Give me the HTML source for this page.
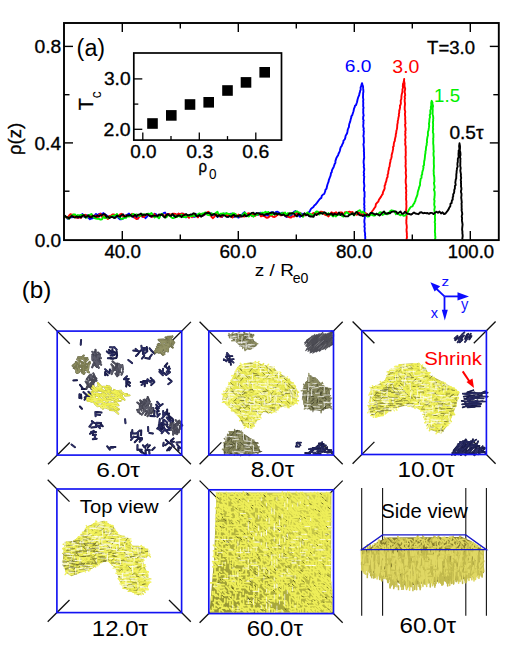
<!DOCTYPE html>
<html><head><meta charset="utf-8"><style>
html,body{margin:0;padding:0;background:#fff;width:522px;height:655px;overflow:hidden}
svg{display:block}
text{font-family:"Liberation Sans",sans-serif}
</style></head><body>
<svg width="522" height="655" viewBox="0 0 522 655">
<defs><clipPath id="clipA"><rect x="64" y="23" width="435" height="216.6"/></clipPath></defs>
<g clip-path="url(#clipA)">
<polyline points="64.5,216.6 66.0,216.9 67.5,218.7 69.0,217.6 70.5,217.2 72.0,217.3 73.5,215.6 75.0,216.2 76.5,217.0 78.0,218.1 79.5,215.6 81.0,215.2 82.5,214.1 84.0,216.7 85.5,217.5 87.0,215.0 88.5,217.9 90.0,219.2 91.5,218.5 93.0,218.0 94.5,215.7 96.0,214.0 97.5,215.3 99.0,213.9 100.5,213.8 102.0,214.0 103.5,213.1 105.0,214.6 106.5,215.2 108.0,217.3 109.5,216.9 111.0,217.2 112.5,216.7 114.0,217.2 115.5,216.5 117.0,215.4 118.5,218.0 120.0,219.3 121.5,219.2 123.0,218.6 124.5,216.6 126.0,215.2 127.5,214.7 129.0,213.5 130.5,216.0 132.0,215.6 133.5,217.3 135.0,216.2 136.5,218.1 138.0,218.6 139.5,215.1 141.0,214.3 142.5,216.9 144.0,216.3 145.5,218.2 147.0,216.6 148.5,214.4 150.0,215.7 151.5,217.0 153.0,215.4 154.5,213.8 156.0,214.1 157.5,217.0 159.0,217.5 160.5,215.0 162.0,214.2 163.5,213.2 165.0,212.5 166.5,215.4 168.0,214.1 169.5,215.2 171.0,215.2 172.5,214.1 174.0,215.9 175.5,214.1 177.0,215.5 178.5,213.8 180.0,214.4 181.5,213.7 183.0,213.6 184.5,216.6 186.0,217.4 187.5,215.6 189.0,217.2 190.5,215.1 192.0,214.8 193.5,216.7 195.0,216.7 196.5,214.3 198.0,217.0 199.5,214.9 201.0,214.1 202.5,215.9 204.0,214.9 205.5,214.2 207.0,212.9 208.5,212.3 210.0,214.1 211.5,213.5 213.0,214.8 214.5,214.5 216.0,214.6 217.5,216.9 219.0,216.0 220.5,215.9 222.0,217.1 223.5,214.7 225.0,213.4 226.5,216.0 228.0,216.9 229.5,214.9 231.0,213.6 232.5,215.4 234.0,217.1 235.5,214.7 237.0,216.8 238.5,217.6 240.0,216.7 241.5,215.5 243.0,213.4 244.5,212.1 246.0,215.5 247.5,214.0 249.0,215.3 250.5,214.0 252.0,215.8 253.5,215.7 255.0,214.4 256.5,213.1 258.0,214.9 259.5,212.9 261.0,212.6 262.5,213.9 264.0,215.9 265.5,215.8 267.0,214.2 268.5,216.3 270.0,214.1 271.5,212.2 273.0,212.4 274.5,213.2 276.0,212.0 277.5,211.8 279.0,212.6 280.5,213.9 282.0,212.6 283.5,212.9 285.0,215.4 286.5,217.0 288.0,216.4 289.5,216.3 291.0,215.7 292.5,213.5 294.0,211.9 295.5,211.0 297.0,214.5 298.5,215.3 300.0,216.8 301.5,213.5 303.0,214.5 304.5,214.3 306.0,215.3 307.9,213.0 309.1,212.1 309.9,211.0 310.8,209.2 312.1,207.9 313.4,206.9 314.3,205.5 315.3,204.8 316.9,202.9 317.9,201.5 319.0,200.0 320.0,198.8 321.3,197.9 321.9,195.6 323.3,194.4 324.2,194.0 325.3,191.0 325.3,190.1 326.5,188.7 326.9,186.8 327.4,184.7 328.2,182.5 328.6,181.7 328.8,180.2 329.3,178.9 330.2,176.5 330.6,175.7 331.0,173.0 331.7,172.4 331.9,170.6 332.6,168.9 333.3,167.8 333.9,166.3 334.8,163.6 335.4,162.9 335.4,161.1 336.1,158.9 336.5,157.8 337.7,155.8 338.1,155.4 338.5,153.7 339.3,152.2 339.8,151.0 340.4,148.3 340.9,146.9 341.5,146.3 342.2,144.6 343.3,142.5 343.5,140.6 344.8,139.3 345.4,137.4 345.5,136.2 346.4,134.4 347.1,133.2 347.5,131.2 347.8,129.5 348.4,128.0 348.9,127.1 349.1,124.9 349.4,123.6 350.2,121.6 350.7,119.3 351.3,117.4 351.3,116.4 352.3,115.1 353.0,112.7 353.5,111.3 354.0,108.7 354.7,107.2 355.0,105.8 356.1,104.9 356.6,103.3 357.0,102.2 357.5,99.8 358.0,98.0 358.4,96.8 359.2,95.1 359.4,93.6 360.0,91.9 360.1,91.0 360.7,89.7 360.6,87.5 361.1,86.4 361.5,84.7 362.0,83.1 362.6,85.1 363.0,86.3 363.2,88.9 363.3,89.8 363.4,91.9 363.1,93.0 363.1,95.3 363.0,97.0 363.0,97.6 363.4,99.8 363.1,100.9 363.3,103.1 363.2,104.3 363.2,106.5 363.6,107.8 363.2,109.1 363.3,111.0 363.2,112.6 363.4,114.1 363.7,115.5 363.2,116.6 363.1,119.1 363.7,120.7 363.3,121.4 363.5,123.1 363.2,125.5 363.3,126.9 363.8,128.5 363.5,130.1 363.9,131.3 363.7,133.0 363.7,134.3 363.3,136.1 363.8,137.8 363.8,139.5 363.9,141.9 363.9,142.6 363.4,144.5 363.6,145.5 363.9,148.3 364.0,150.0 363.8,151.0 364.1,152.5 364.0,153.9 364.1,156.0 364.2,157.9 364.0,159.1 363.7,160.3 363.6,162.4 363.7,163.2 364.0,165.7 363.7,166.7 364.3,169.0 364.2,170.0 363.7,172.2 364.1,173.7 363.7,175.3 364.3,176.7 364.1,177.9 364.0,179.6 363.8,182.2 364.0,182.7 364.2,184.4 364.4,186.0 364.1,187.7 363.9,190.0 364.3,191.4 364.6,192.3 364.5,194.2 364.6,196.7 364.2,198.1 364.2,198.7 364.3,201.1 364.4,202.4 364.1,204.3 364.5,205.9 364.2,207.6 364.6,208.7 364.3,210.4 364.5,212.8 364.7,213.1 364.3,215.5 364.8,217.2 364.8,218.1 364.4,219.9 364.3,222.1 364.7,223.7 364.7,225.3 364.3,226.7 364.8,228.0 364.6,230.5 364.6,231.0 365.2,233.9 365.0,234.8 365.3,236.8 365.2,238.1 365.4,239.9 365.2,242.4 365.5,243.1 365.5,245.0" fill="none" stroke="#0000ff" stroke-width="1.9" stroke-linejoin="round"/>
<polyline points="64.5,216.7 66.0,217.4 67.5,217.8 69.0,215.7 70.5,214.1 72.0,214.8 73.5,214.8 75.0,217.1 76.5,217.7 78.0,217.6 79.5,217.4 81.0,217.7 82.5,215.6 84.0,215.8 85.5,214.7 87.0,217.4 88.5,215.0 90.0,217.2 91.5,215.0 93.0,216.5 94.5,215.8 96.0,215.7 97.5,217.6 99.0,214.9 100.5,213.7 102.0,216.9 103.5,216.7 105.0,214.7 106.5,217.7 108.0,219.0 109.5,215.9 111.0,215.8 112.5,214.4 114.0,214.5 115.5,215.9 117.0,214.6 118.5,216.3 120.0,214.3 121.5,213.8 123.0,216.4 124.5,215.8 126.0,215.6 127.5,216.3 129.0,216.1 130.5,215.6 132.0,213.8 133.5,215.9 135.0,218.0 136.5,219.1 138.0,218.3 139.5,216.5 141.0,215.6 142.5,216.6 144.0,217.1 145.5,214.8 147.0,214.2 148.5,214.4 150.0,215.2 151.5,216.9 153.0,216.4 154.5,214.0 156.0,216.3 157.5,215.8 159.0,215.9 160.5,214.6 162.0,214.9 163.5,214.8 165.0,216.5 166.5,214.3 168.0,215.2 169.5,214.0 171.0,215.7 172.5,213.6 174.0,213.7 175.5,213.9 177.0,215.4 178.5,213.5 180.0,214.4 181.5,213.7 183.0,213.6 184.5,214.5 186.0,217.0 187.5,216.2 189.0,217.8 190.5,215.2 192.0,217.2 193.5,215.7 195.0,214.2 196.5,215.9 198.0,217.4 199.5,214.2 201.0,213.8 202.5,215.7 204.0,214.8 205.5,213.9 207.0,212.4 208.5,211.8 210.0,214.1 211.5,216.8 213.0,218.2 214.5,216.7 216.0,213.9 217.5,213.7 219.0,215.7 220.5,216.9 222.0,216.6 223.5,214.7 225.0,215.0 226.5,214.9 228.0,215.6 229.5,214.3 231.0,216.6 232.5,217.5 234.0,214.8 235.5,214.0 237.0,216.1 238.5,214.6 240.0,216.7 241.5,215.9 243.0,216.3 244.5,216.5 246.0,214.4 247.5,213.7 249.0,213.2 250.5,214.8 252.0,215.7 253.5,213.6 255.0,215.9 256.5,215.0 258.0,213.7 259.5,213.9 261.0,216.4 262.5,215.8 264.0,215.8 265.5,217.1 267.0,217.9 268.5,217.4 270.0,215.7 271.5,215.5 273.0,216.8 274.5,217.0 276.0,216.1 277.5,214.7 279.0,214.0 280.5,215.3 282.0,215.2 283.5,212.7 285.0,214.5 286.5,216.3 288.0,216.7 289.5,217.3 291.0,217.6 292.5,216.2 294.0,216.5 295.5,214.9 297.0,212.9 298.5,212.9 300.0,212.8 301.5,215.5 303.0,215.7 304.5,215.2 306.0,215.2 307.5,213.1 309.0,213.8 310.5,214.9 312.0,214.1 313.5,213.0 315.0,213.2 316.5,212.9 318.0,214.3 319.5,212.6 321.0,211.6 322.5,212.0 324.0,213.9 325.5,215.1 327.0,215.3 328.5,216.5 330.0,214.7 331.5,212.3 333.0,213.1 334.5,213.3 336.0,212.2 337.5,213.8 339.0,213.1 340.5,212.4 342.0,212.4 343.5,215.1 345.0,212.3 346.5,212.4 348.0,212.1 349.5,211.7 351.0,212.4 352.5,211.9 354.0,214.6 355.5,214.2 357.0,214.8 358.5,212.8 360.0,213.1 361.5,213.8 363.0,215.2 364.5,213.3 366.0,213.3 367.5,215.0 369.0,215.8 370.5,213.5 373.3,209.8 374.3,208.2 375.5,206.6 375.9,204.2 377.0,202.8 378.3,201.6 378.9,199.7 379.7,198.6 381.1,196.6 381.7,195.4 382.8,193.9 382.8,192.8 383.4,191.2 384.3,189.5 384.7,188.2 384.6,185.8 385.4,184.5 385.4,183.4 386.3,181.2 386.6,179.3 387.1,177.6 387.6,177.1 387.6,174.5 388.2,173.7 388.3,171.3 388.9,169.3 388.8,168.4 389.6,166.5 389.8,164.1 390.1,163.1 390.5,161.1 390.5,160.0 391.2,158.6 391.7,156.6 391.6,155.0 392.0,153.9 392.6,151.5 392.7,150.9 393.2,148.8 393.0,147.1 393.7,146.1 393.8,143.9 394.2,142.0 394.9,140.8 394.8,140.0 395.4,137.3 395.7,136.4 395.8,134.2 396.2,133.2 396.4,130.7 396.8,129.5 397.1,128.1 397.2,126.5 397.3,124.4 397.8,122.5 397.7,121.4 398.2,119.2 398.5,117.3 399.0,115.6 398.8,114.5 399.3,112.3 399.2,110.9 399.7,109.4 400.1,107.3 399.9,105.4 400.5,104.9 400.9,103.3 400.7,100.6 401.3,99.2 401.4,98.2 401.4,96.7 401.7,94.5 402.2,92.8 402.5,90.8 402.4,89.7 403.1,87.2 402.8,86.8 403.0,83.9 403.5,82.6 403.9,81.1 404.2,79.0 404.0,80.8 404.6,83.7 404.5,84.4 404.5,86.2 405.2,88.8 405.1,89.4 404.6,92.1 405.0,93.6 405.2,95.2 404.6,96.8 405.0,98.5 404.7,99.3 404.7,101.5 405.0,103.2 405.0,104.7 404.9,105.3 404.7,106.9 404.7,109.5 405.2,111.4 405.3,111.9 404.9,113.8 405.0,115.1 405.3,117.5 405.1,118.9 405.3,120.5 405.3,122.2 405.6,123.3 405.0,124.7 405.3,126.8 405.6,128.5 405.6,130.5 405.2,131.3 405.5,133.1 405.1,134.2 405.6,137.2 405.6,137.6 405.1,139.9 405.4,141.9 405.4,143.2 405.1,143.9 405.7,146.3 405.8,147.6 405.6,149.3 405.7,151.1 405.8,152.1 405.7,154.0 405.8,155.7 405.4,156.7 405.6,158.5 405.8,161.2 405.6,162.6 405.8,163.9 405.4,166.1 405.6,166.5 405.9,169.3 406.0,170.5 405.7,172.6 405.8,173.8 406.0,175.0 406.2,176.6 406.0,177.9 405.7,179.9 405.7,181.8 405.7,182.9 406.2,185.3 406.3,186.8 405.8,187.7 406.2,189.7 406.3,191.8 406.0,192.3 406.3,194.9 406.1,196.2 406.2,197.7 406.0,199.1 406.4,201.4 406.4,203.1 406.2,203.9 406.4,205.0 406.4,206.7 406.3,208.3 406.1,209.9 406.3,212.1 406.5,213.6 406.5,215.9 406.6,216.7 406.6,218.2 406.3,220.7 406.4,221.4 406.3,223.1 406.7,225.3 406.8,226.9 406.8,227.9 406.5,229.5 406.6,231.7 406.9,233.5 406.8,235.1 407.0,237.2 406.7,238.3 406.7,239.3 406.7,241.4 407.2,244.0 407.0,245.0" fill="none" stroke="#ff0000" stroke-width="1.9" stroke-linejoin="round"/>
<polyline points="64.5,215.7 66.0,217.1 67.5,217.7 69.0,218.8 70.5,216.4 72.0,215.3 73.5,214.5 75.0,214.4 76.5,216.5 78.0,215.0 79.5,215.9 81.0,215.0 82.5,214.9 84.0,215.4 85.5,217.5 87.0,217.5 88.5,214.9 90.0,214.7 91.5,214.0 93.0,216.9 94.5,218.0 96.0,218.6 97.5,218.9 99.0,218.8 100.5,219.6 102.0,219.3 103.5,216.7 105.0,218.1 106.5,217.2 108.0,217.9 109.5,217.4 111.0,216.5 112.5,215.8 114.0,215.7 115.5,215.2 117.0,214.0 118.5,216.5 120.0,217.7 121.5,219.1 123.0,218.5 124.5,217.5 126.0,217.9 127.5,215.4 129.0,216.5 130.5,216.1 132.0,214.6 133.5,214.0 135.0,215.1 136.5,214.5 138.0,215.1 139.5,216.0 141.0,215.5 142.5,214.1 144.0,215.0 145.5,214.3 147.0,213.9 148.5,213.6 150.0,214.1 151.5,213.1 153.0,215.2 154.5,217.5 156.0,216.2 157.5,216.9 159.0,218.3 160.5,215.0 162.0,213.8 163.5,216.1 165.0,217.4 166.5,217.2 168.0,214.9 169.5,214.9 171.0,216.9 172.5,218.0 174.0,218.1 175.5,215.6 177.0,217.1 178.5,215.8 180.0,216.6 181.5,214.5 183.0,217.1 184.5,216.8 186.0,217.1 187.5,215.0 189.0,215.8 190.5,216.0 192.0,216.1 193.5,215.1 195.0,216.3 196.5,215.1 198.0,214.4 199.5,213.4 201.0,215.2 202.5,213.5 204.0,213.2 205.5,212.4 207.0,214.5 208.5,215.1 210.0,215.4 211.5,213.3 213.0,214.0 214.5,213.9 216.0,212.8 217.5,211.8 219.0,215.7 220.5,213.7 222.0,213.6 223.5,213.3 225.0,214.6 226.5,213.0 228.0,213.9 229.5,213.9 231.0,215.9 232.5,213.3 234.0,213.4 235.5,214.2 237.0,216.6 238.5,215.9 240.0,215.3 241.5,215.9 243.0,214.5 244.5,212.6 246.0,213.8 247.5,216.1 249.0,216.5 250.5,214.6 252.0,215.5 253.5,216.7 255.0,214.7 256.5,215.1 258.0,214.3 259.5,213.4 261.0,213.1 262.5,212.6 264.0,213.0 265.5,211.8 267.0,212.8 268.5,211.9 270.0,214.4 271.5,214.9 273.0,212.6 274.5,214.8 276.0,213.3 277.5,213.8 279.0,214.4 280.5,213.7 282.0,213.2 283.5,213.5 285.0,212.4 286.5,215.0 288.0,213.0 289.5,215.1 291.0,213.5 292.5,213.1 294.0,213.2 295.5,211.7 297.0,211.4 298.5,212.3 300.0,213.0 301.5,215.3 303.0,216.9 304.5,213.6 306.0,214.1 307.5,212.5 309.0,214.7 310.5,213.7 312.0,215.7 313.5,215.1 315.0,213.0 316.5,211.4 318.0,211.6 319.5,214.5 321.0,212.7 322.5,213.3 324.0,213.1 325.5,212.9 327.0,214.8 328.5,213.1 330.0,214.5 331.5,215.0 333.0,216.4 334.5,215.3 336.0,216.4 337.5,214.9 339.0,214.7 340.5,214.8 342.0,215.8 343.5,216.6 345.0,213.5 346.5,212.1 348.0,213.1 349.5,214.8 351.0,214.4 352.5,213.2 354.0,215.5 355.5,213.7 357.0,211.9 358.5,210.8 360.0,210.2 361.5,212.9 363.0,211.6 364.5,213.5 366.0,215.2 367.5,216.6 369.0,216.4 370.5,214.7 372.0,214.6 373.5,215.6 375.0,215.5 376.5,213.6 378.0,214.7 379.5,212.4 381.0,212.1 382.5,214.9 384.0,214.1 385.5,212.7 387.0,214.3 388.5,213.6 390.0,211.3 391.5,210.3 393.0,210.7 394.5,211.3 396.0,214.2 397.5,212.6 399.0,214.5 400.5,215.4 402.0,214.0 403.5,215.8 405.0,215.6 406.5,214.3 408.8,210.0 410.3,207.6 411.2,206.7 412.5,206.3 413.1,204.8 414.3,203.1 414.8,201.7 415.3,200.9 416.0,198.1 416.2,197.9 417.0,195.8 417.5,194.4 417.7,192.4 418.2,190.6 418.9,188.7 418.9,187.9 419.8,185.7 420.1,184.7 420.0,183.1 420.4,180.8 420.7,178.6 421.5,177.9 421.5,175.5 422.2,174.2 422.2,172.7 422.5,171.4 423.1,169.5 423.5,167.3 423.2,166.2 424.0,165.1 424.1,163.0 424.1,161.7 424.5,160.3 424.8,158.1 425.0,156.1 425.0,155.3 425.5,152.7 425.4,151.7 425.9,149.9 425.9,149.1 426.1,146.8 426.7,145.0 426.7,143.1 427.1,142.4 426.9,140.4 427.1,139.1 427.5,136.7 428.0,135.3 427.9,134.3 427.9,132.0 428.6,130.2 428.7,128.9 429.0,127.2 429.2,125.4 428.9,123.5 429.3,122.2 429.4,120.2 429.5,118.7 430.0,117.2 429.7,115.0 430.4,113.7 430.3,112.1 430.3,110.4 431.1,108.5 430.8,107.3 431.3,105.1 431.2,103.0 431.3,102.4 431.7,100.8 432.5,102.7 432.4,103.9 433.1,106.0 432.6,108.0 432.7,109.4 432.7,110.7 432.6,113.5 432.7,114.4 433.1,116.2 433.3,118.4 433.1,119.2 433.2,120.7 432.9,122.5 433.1,123.8 433.1,125.5 432.9,128.0 433.2,129.0 432.9,130.3 432.9,132.7 433.4,133.7 433.4,135.2 433.4,137.6 433.1,138.8 433.3,139.7 433.2,141.8 433.2,143.8 433.4,144.7 433.5,146.4 433.5,147.9 433.5,149.4 433.8,151.5 433.5,152.7 433.5,155.2 433.8,156.8 434.0,158.1 433.8,159.1 433.8,160.4 433.8,162.8 433.8,164.1 434.0,165.9 433.9,167.4 433.8,169.0 433.6,170.7 433.8,172.4 433.7,173.8 433.9,175.3 434.3,177.3 434.3,178.7 434.4,180.8 434.4,181.4 433.9,183.1 434.2,184.6 434.6,186.6 434.6,187.6 433.9,189.8 434.5,191.1 434.7,192.4 434.7,195.3 434.5,196.4 434.5,197.4 434.1,199.6 434.6,200.8 434.4,202.0 434.2,204.6 434.5,206.1 434.9,206.7 434.3,209.6 434.4,210.2 434.7,212.5 434.8,214.3 435.1,214.8 434.9,216.7 435.0,218.9 435.1,220.2 434.7,222.2 435.2,223.7 435.0,225.1 435.1,227.0 435.1,228.0 435.0,230.0 434.9,231.9 435.2,233.9 435.1,235.3 435.4,237.0 435.3,238.4 434.9,239.4 435.2,241.7 434.9,243.4 435.3,245.0" fill="none" stroke="#00f000" stroke-width="1.9" stroke-linejoin="round"/>
<polyline points="64.5,215.4 66.0,216.8 67.5,217.3 69.0,218.6 70.5,216.8 72.0,215.9 73.5,217.1 75.0,217.5 76.5,216.4 78.0,217.2 79.5,216.5 81.0,217.6 82.5,215.7 84.0,215.1 85.5,217.3 87.0,216.4 88.5,215.6 90.0,217.2 91.5,217.3 93.0,215.6 94.5,216.2 96.0,216.9 97.5,215.5 99.0,216.5 100.5,215.1 102.0,215.2 103.5,214.3 105.0,214.2 106.5,217.0 108.0,216.3 109.5,218.1 111.0,217.0 112.5,217.0 114.0,218.0 115.5,217.8 117.0,215.6 118.5,216.2 120.0,216.7 121.5,215.3 123.0,214.3 124.5,216.6 126.0,216.4 127.5,215.2 129.0,215.5 130.5,214.8 132.0,216.5 133.5,216.3 135.0,214.7 136.5,216.5 138.0,214.8 139.5,214.6 141.0,213.6 142.5,215.6 144.0,214.4 145.5,215.3 147.0,214.1 148.5,214.9 150.0,216.1 151.5,216.1 153.0,215.8 154.5,215.8 156.0,215.6 157.5,216.0 159.0,214.4 160.5,215.0 162.0,214.4 163.5,216.4 165.0,217.6 166.5,215.1 168.0,214.1 169.5,215.6 171.0,215.9 172.5,214.0 174.0,215.6 175.5,217.2 177.0,216.1 178.5,215.3 180.0,215.7 181.5,217.2 183.0,215.5 184.5,214.8 186.0,214.0 187.5,215.2 189.0,215.2 190.5,214.5 192.0,214.6 193.5,213.3 195.0,213.7 196.5,216.3 198.0,216.1 199.5,215.0 201.0,216.7 202.5,215.5 204.0,214.5 205.5,213.2 207.0,213.0 208.5,213.0 210.0,213.2 211.5,215.5 213.0,214.5 214.5,214.0 216.0,215.0 217.5,216.6 219.0,215.1 220.5,216.1 222.0,215.1 223.5,215.3 225.0,215.6 226.5,216.9 228.0,216.9 229.5,216.0 231.0,216.7 232.5,215.4 234.0,214.8 235.5,216.5 237.0,215.9 238.5,216.4 240.0,215.0 241.5,216.5 243.0,216.1 244.5,214.6 246.0,216.3 247.5,215.5 249.0,214.6 250.5,213.8 252.0,212.9 253.5,212.8 255.0,214.5 256.5,213.3 258.0,213.2 259.5,213.8 261.0,214.4 262.5,214.1 264.0,215.4 265.5,214.2 267.0,213.9 268.5,214.0 270.0,213.0 271.5,212.8 273.0,212.4 274.5,214.3 276.0,213.2 277.5,214.5 279.0,213.5 280.5,214.5 282.0,215.1 283.5,214.3 285.0,215.9 286.5,215.7 288.0,215.3 289.5,213.2 291.0,213.5 292.5,213.1 294.0,213.6 295.5,215.5 297.0,216.3 298.5,213.7 300.0,214.7 301.5,216.0 303.0,215.3 304.5,213.3 306.0,215.1 307.5,214.4 309.0,216.0 310.5,216.5 312.0,216.5 313.5,216.9 315.0,214.0 316.5,215.1 318.0,213.9 319.5,212.7 321.0,213.0 322.5,213.8 324.0,212.2 325.5,212.9 327.0,214.5 328.5,214.2 330.0,214.2 331.5,213.4 333.0,215.4 334.5,213.7 336.0,214.5 337.5,214.7 339.0,212.5 340.5,215.0 342.0,213.5 343.5,215.4 345.0,216.2 346.5,216.4 348.0,216.4 349.5,214.7 351.0,214.1 352.5,213.3 354.0,215.1 355.5,212.7 357.0,211.9 358.5,214.4 360.0,215.2 361.5,215.2 363.0,216.1 364.5,214.9 366.0,215.5 367.5,214.3 369.0,215.4 370.5,212.9 372.0,213.0 373.5,213.6 375.0,214.6 376.5,213.8 378.0,214.3 379.5,215.6 381.0,214.2 382.5,212.7 384.0,211.4 385.5,213.7 387.0,213.5 388.5,213.0 390.0,213.3 391.5,211.9 393.0,211.6 394.5,211.5 396.0,211.5 397.5,213.7 399.0,212.6 400.5,211.4 402.0,213.7 403.5,213.6 405.0,211.7 406.5,213.1 408.0,213.8 409.5,214.0 411.0,214.6 412.5,213.6 414.0,212.4 415.5,213.6 417.0,213.8 418.5,214.2 420.0,212.5 421.5,212.3 423.0,213.3 424.5,212.8 426.0,213.2 427.5,213.0 429.0,213.9 430.5,212.9 432.0,212.9 433.5,214.1 435.0,212.8 436.5,211.7 438.0,212.8 439.5,211.5 441.0,213.4 442.5,212.3 444.0,214.0 445.5,213.5 447.7,210.6 448.7,209.1 449.4,207.3 450.3,206.3 450.5,203.7 451.6,203.2 451.9,200.3 452.7,199.8 452.7,197.1 453.2,196.6 453.2,194.2 454.0,193.0 454.3,191.2 454.2,190.1 454.9,188.3 454.9,185.9 455.7,185.1 455.3,182.3 455.5,181.5 455.8,179.2 456.2,178.6 456.3,175.8 456.3,174.5 456.6,172.7 456.6,171.3 456.9,169.4 457.0,168.3 457.7,166.4 457.4,164.9 457.5,162.8 457.8,162.3 457.8,160.1 457.9,158.3 458.7,157.3 458.5,154.9 458.5,153.7 458.7,151.7 458.6,150.8 459.4,149.4 459.2,147.0 459.1,146.2 459.5,143.3 460.0,146.2 460.0,148.1 459.8,150.5 460.2,151.7 460.4,152.9 460.5,155.1 459.9,157.1 460.5,158.7 460.3,160.0 460.4,161.8 460.3,162.6 460.3,164.6 460.2,165.9 460.7,168.0 460.4,170.1 460.3,170.6 460.8,173.4 461.0,174.7 460.8,175.8 461.2,178.0 460.7,179.9 461.1,181.7 460.9,182.6 461.1,184.0 461.0,186.5 461.4,188.1 461.4,189.4 460.9,191.3 461.1,192.6 461.5,193.6 461.5,195.1 461.2,197.7 461.4,199.0 461.6,200.6 461.8,202.6 461.5,203.3 461.7,206.1 461.6,207.5 461.8,209.4 461.5,209.9 462.1,212.6 462.3,214.1 461.9,215.3 461.7,216.8 462.1,217.9 461.9,220.6 462.2,222.0 462.5,224.0 462.6,224.6 462.4,226.1 462.2,228.2 462.1,229.5 462.5,232.1 462.3,232.9 462.6,234.5 462.7,236.0 462.3,238.9 462.7,239.7 462.2,241.9 462.5,242.7 462.6,245.0" fill="none" stroke="#000000" stroke-width="1.9" stroke-linejoin="round"/>
</g>
<rect x="64.0" y="23.0" width="434.8" height="217.1" fill="none" stroke="#000" stroke-width="1.9"/>
<line x1="122.3" y1="240.1" x2="122.3" y2="231.1" stroke="#000" stroke-width="1.4"/>
<line x1="122.3" y1="23.0" x2="122.3" y2="32.0" stroke="#000" stroke-width="1.4"/>
<line x1="238.3" y1="240.1" x2="238.3" y2="231.1" stroke="#000" stroke-width="1.4"/>
<line x1="238.3" y1="23.0" x2="238.3" y2="32.0" stroke="#000" stroke-width="1.4"/>
<line x1="354.3" y1="240.1" x2="354.3" y2="231.1" stroke="#000" stroke-width="1.4"/>
<line x1="354.3" y1="23.0" x2="354.3" y2="32.0" stroke="#000" stroke-width="1.4"/>
<line x1="470.3" y1="240.1" x2="470.3" y2="231.1" stroke="#000" stroke-width="1.4"/>
<line x1="470.3" y1="23.0" x2="470.3" y2="32.0" stroke="#000" stroke-width="1.4"/>
<line x1="180.3" y1="240.1" x2="180.3" y2="234.6" stroke="#000" stroke-width="1.4"/>
<line x1="180.3" y1="23.0" x2="180.3" y2="28.5" stroke="#000" stroke-width="1.4"/>
<line x1="296.3" y1="240.1" x2="296.3" y2="234.6" stroke="#000" stroke-width="1.4"/>
<line x1="296.3" y1="23.0" x2="296.3" y2="28.5" stroke="#000" stroke-width="1.4"/>
<line x1="412.3" y1="240.1" x2="412.3" y2="234.6" stroke="#000" stroke-width="1.4"/>
<line x1="412.3" y1="23.0" x2="412.3" y2="28.5" stroke="#000" stroke-width="1.4"/>
<line x1="64.0" y1="142.9" x2="73.0" y2="142.9" stroke="#000" stroke-width="1.4"/>
<line x1="498.8" y1="142.9" x2="489.8" y2="142.9" stroke="#000" stroke-width="1.4"/>
<line x1="64.0" y1="46.4" x2="73.0" y2="46.4" stroke="#000" stroke-width="1.4"/>
<line x1="498.8" y1="46.4" x2="489.8" y2="46.4" stroke="#000" stroke-width="1.4"/>
<line x1="64.0" y1="191.2" x2="69.5" y2="191.2" stroke="#000" stroke-width="1.4"/>
<line x1="498.8" y1="191.2" x2="493.3" y2="191.2" stroke="#000" stroke-width="1.4"/>
<line x1="64.0" y1="94.7" x2="69.5" y2="94.7" stroke="#000" stroke-width="1.4"/>
<line x1="498.8" y1="94.7" x2="493.3" y2="94.7" stroke="#000" stroke-width="1.4"/>
<rect x="133.8" y="53.0" width="147.7" height="87.1" fill="#fff" stroke="#000" stroke-width="1.7"/>
<line x1="142.8" y1="140.1" x2="142.8" y2="132.6" stroke="#000" stroke-width="1.3"/>
<line x1="199.3" y1="140.1" x2="199.3" y2="132.6" stroke="#000" stroke-width="1.3"/>
<line x1="255.8" y1="140.1" x2="255.8" y2="132.6" stroke="#000" stroke-width="1.3"/>
<line x1="171.0" y1="140.1" x2="171.0" y2="136.1" stroke="#000" stroke-width="1.3"/>
<line x1="227.5" y1="140.1" x2="227.5" y2="136.1" stroke="#000" stroke-width="1.3"/>
<line x1="133.8" y1="129.3" x2="142.3" y2="129.3" stroke="#000" stroke-width="1.3"/>
<line x1="133.8" y1="78.9" x2="142.3" y2="78.9" stroke="#000" stroke-width="1.3"/>
<line x1="133.8" y1="104.1" x2="138.3" y2="104.1" stroke="#000" stroke-width="1.3"/>
<rect x="147.2" y="118.2" width="10.6" height="10.6" fill="#000"/>
<rect x="166.0" y="110.1" width="10.6" height="10.6" fill="#000"/>
<rect x="184.7" y="99.2" width="10.6" height="10.6" fill="#000"/>
<rect x="203.4" y="97.0" width="10.6" height="10.6" fill="#000"/>
<rect x="222.2" y="85.2" width="10.6" height="10.6" fill="#000"/>
<rect x="240.7" y="77.1" width="10.6" height="10.6" fill="#000"/>
<rect x="259.4" y="67.0" width="10.6" height="10.6" fill="#000"/>
<line x1="48.0" y1="321.9" x2="69.8" y2="343.7" stroke="#111" stroke-width="1.3"/>
<line x1="190.9" y1="321.9" x2="169.1" y2="343.7" stroke="#111" stroke-width="1.3"/>
<line x1="48.0" y1="464.3" x2="69.8" y2="442.5" stroke="#111" stroke-width="1.3"/>
<line x1="190.9" y1="464.3" x2="169.1" y2="442.5" stroke="#111" stroke-width="1.3"/>
<line x1="199.6" y1="321.8" x2="221.4" y2="343.6" stroke="#111" stroke-width="1.3"/>
<line x1="342.7" y1="321.8" x2="320.9" y2="343.6" stroke="#111" stroke-width="1.3"/>
<line x1="199.6" y1="464.2" x2="221.4" y2="442.4" stroke="#111" stroke-width="1.3"/>
<line x1="342.7" y1="464.2" x2="320.9" y2="442.4" stroke="#111" stroke-width="1.3"/>
<line x1="352.6" y1="321.5" x2="374.4" y2="343.3" stroke="#111" stroke-width="1.3"/>
<line x1="495.6" y1="321.5" x2="473.8" y2="343.3" stroke="#111" stroke-width="1.3"/>
<line x1="352.6" y1="463.7" x2="374.4" y2="441.9" stroke="#111" stroke-width="1.3"/>
<line x1="495.6" y1="463.7" x2="473.8" y2="441.9" stroke="#111" stroke-width="1.3"/>
<line x1="47.7" y1="479.8" x2="69.5" y2="501.6" stroke="#111" stroke-width="1.3"/>
<line x1="190.8" y1="479.8" x2="169.0" y2="501.6" stroke="#111" stroke-width="1.3"/>
<line x1="47.7" y1="621.8" x2="69.5" y2="600.0" stroke="#111" stroke-width="1.3"/>
<line x1="190.8" y1="621.8" x2="169.0" y2="600.0" stroke="#111" stroke-width="1.3"/>
<line x1="199.6" y1="480.6" x2="221.4" y2="502.4" stroke="#111" stroke-width="1.3"/>
<line x1="342.7" y1="480.6" x2="320.9" y2="502.4" stroke="#111" stroke-width="1.3"/>
<line x1="199.6" y1="622.8" x2="221.4" y2="601.0" stroke="#111" stroke-width="1.3"/>
<line x1="342.7" y1="622.8" x2="320.9" y2="601.0" stroke="#111" stroke-width="1.3"/>
<path d="M81.1,340.0L80.7,344.7" stroke="#14163a" stroke-width="2.0" stroke-linecap="round" fill="none"/>
<path d="M81.1,340.0L80.7,344.7" stroke="#2e3068" stroke-width="1.4" stroke-linecap="round" fill="none"/>
<path d="" stroke="#14163a" stroke-width="2.0" stroke-linecap="round" fill="none"/>
<path d="M109.9,347.3L114.8,347.6M114.1,347.1L116.7,349.6M108.9,349.8L112.2,352.5M112.4,349.5L112.5,352.5M106.8,351.4L109.2,353.4M109.3,350.9L111.9,354.2M112.7,351.3L112.8,355.7M113.8,351.6L115.9,353.8M116.5,351.0L117.1,355.7M110.6,355.5L114.4,355.0M116.9,354.4L116.6,357.5M107.9,358.2L111.4,358.1M110.2,358.4L113.2,358.8M112.5,358.5L116.3,358.1" stroke="#14163a" stroke-width="2.0" stroke-linecap="round" fill="none"/>
<path d="M109.9,347.3L114.8,347.6M114.1,347.1L116.7,349.6M109.3,350.9L111.9,354.2M112.7,351.3L112.8,355.7M107.9,358.2L111.4,358.1" stroke="#2e3068" stroke-width="1.4" stroke-linecap="round" fill="none"/>
<path d="M108.9,349.8L112.2,352.5M112.4,349.5L112.5,352.5M113.8,351.6L115.9,353.8M116.5,351.0L117.1,355.7M116.9,354.4L116.6,357.5M110.2,358.4L113.2,358.8M112.5,358.5L116.3,358.1" stroke="#1c1e50" stroke-width="1.4" stroke-linecap="round" fill="none"/>
<path d="M106.8,351.4L109.2,353.4M110.6,355.5L114.4,355.0" stroke="#23265c" stroke-width="1.4" stroke-linecap="round" fill="none"/>
<path d="M105.1,369.2L108.3,372.2M109.9,369.5L109.4,373.3M105.2,371.9L105.2,375.2M105.5,373.0L107.7,375.2" stroke="#14163a" stroke-width="2.0" stroke-linecap="round" fill="none"/>
<path d="M105.1,369.2L108.3,372.2" stroke="#2e3068" stroke-width="1.4" stroke-linecap="round" fill="none"/>
<path d="M109.9,369.5L109.4,373.3M105.2,371.9L105.2,375.2M105.5,373.0L107.7,375.2" stroke="#1c1e50" stroke-width="1.4" stroke-linecap="round" fill="none"/>
<path d="M73.4,380.4L77.0,380.2" stroke="#14163a" stroke-width="2.0" stroke-linecap="round" fill="none"/>
<path d="M73.4,380.4L77.0,380.2" stroke="#1c1e50" stroke-width="1.4" stroke-linecap="round" fill="none"/>
<path d="M80.0,384.9L82.6,388.2M81.8,389.1L86.4,388.9" stroke="#14163a" stroke-width="2.0" stroke-linecap="round" fill="none"/>
<path d="M80.0,384.9L82.6,388.2M81.8,389.1L86.4,388.9" stroke="#1c1e50" stroke-width="1.4" stroke-linecap="round" fill="none"/>
<path d="M141.4,345.8L142.1,350.7M142.8,347.9L147.0,347.7M133.3,350.6L137.6,350.9M135.6,348.9L138.9,351.7M142.5,348.1L142.8,351.1M146.9,348.2L143.6,351.1M146.8,347.1L147.3,351.3M149.6,348.3L151.5,350.7M140.6,350.5L137.6,354.4M143.4,349.9L142.9,353.8M147.1,351.5L143.4,354.4M151.2,350.6L154.5,353.6M138.2,353.7L136.0,356.0M151.9,354.5L149.7,357.3M144.3,355.8L141.9,358.6M145.3,358.1L149.7,358.7" stroke="#14163a" stroke-width="2.0" stroke-linecap="round" fill="none"/>
<path d="M141.4,345.8L142.1,350.7M142.8,347.9L147.0,347.7M135.6,348.9L138.9,351.7M142.5,348.1L142.8,351.1M146.9,348.2L143.6,351.1M149.6,348.3L151.5,350.7M147.1,351.5L143.4,354.4M138.2,353.7L136.0,356.0" stroke="#2e3068" stroke-width="1.4" stroke-linecap="round" fill="none"/>
<path d="M133.3,350.6L137.6,350.9M143.4,349.9L142.9,353.8M151.2,350.6L154.5,353.6M151.9,354.5L149.7,357.3M144.3,355.8L141.9,358.6M145.3,358.1L149.7,358.7" stroke="#23265c" stroke-width="1.4" stroke-linecap="round" fill="none"/>
<path d="M146.8,347.1L147.3,351.3M140.6,350.5L137.6,354.4" stroke="#1c1e50" stroke-width="1.4" stroke-linecap="round" fill="none"/>
<path d="M128.3,360.0L132.1,363.1" stroke="#14163a" stroke-width="2.0" stroke-linecap="round" fill="none"/>
<path d="M128.3,360.0L132.1,363.1" stroke="#2e3068" stroke-width="1.4" stroke-linecap="round" fill="none"/>
<path d="M127.0,376.3L124.2,379.0M124.0,379.2L128.8,378.9M126.3,379.7L126.4,383.7M127.3,380.7L130.1,382.9M126.8,382.0L126.2,386.5M126.6,383.0L129.9,385.9" stroke="#14163a" stroke-width="2.0" stroke-linecap="round" fill="none"/>
<path d="M127.0,376.3L124.2,379.0M126.3,379.7L126.4,383.7" stroke="#2e3068" stroke-width="1.4" stroke-linecap="round" fill="none"/>
<path d="M124.0,379.2L128.8,378.9" stroke="#23265c" stroke-width="1.4" stroke-linecap="round" fill="none"/>
<path d="M127.3,380.7L130.1,382.9M126.8,382.0L126.2,386.5M126.6,383.0L129.9,385.9" stroke="#1c1e50" stroke-width="1.4" stroke-linecap="round" fill="none"/>
<path d="M150.7,377.9L153.7,381.4M140.7,382.0L144.9,382.5M143.2,381.1L146.7,380.8M147.3,379.8L147.1,383.3M147.5,379.3L150.8,382.5M150.4,380.9L153.7,380.6M144.3,382.8L141.5,385.0M144.9,381.5L144.7,386.2M154.4,382.0L151.2,385.1" stroke="#14163a" stroke-width="2.0" stroke-linecap="round" fill="none"/>
<path d="M150.7,377.9L153.7,381.4M143.2,381.1L146.7,380.8M147.3,379.8L147.1,383.3M150.4,380.9L153.7,380.6M154.4,382.0L151.2,385.1" stroke="#23265c" stroke-width="1.4" stroke-linecap="round" fill="none"/>
<path d="M140.7,382.0L144.9,382.5M144.9,381.5L144.7,386.2" stroke="#1c1e50" stroke-width="1.4" stroke-linecap="round" fill="none"/>
<path d="M147.5,379.3L150.8,382.5M144.3,382.8L141.5,385.0" stroke="#2e3068" stroke-width="1.4" stroke-linecap="round" fill="none"/>
<path d="M167.3,363.3L164.7,366.5M165.5,366.1L167.9,369.0M169.1,366.4L168.7,370.9M159.5,369.7L162.6,372.7M163.1,368.7L162.7,372.6M169.9,368.5L166.6,372.0M159.4,371.7L162.9,375.2M163.8,372.9L166.4,374.9M170.0,372.1L166.2,375.0" stroke="#14163a" stroke-width="2.0" stroke-linecap="round" fill="none"/>
<path d="M167.3,363.3L164.7,366.5" stroke="#1c1e50" stroke-width="1.4" stroke-linecap="round" fill="none"/>
<path d="M165.5,366.1L167.9,369.0M169.1,366.4L168.7,370.9M159.5,369.7L162.6,372.7M163.8,372.9L166.4,374.9" stroke="#23265c" stroke-width="1.4" stroke-linecap="round" fill="none"/>
<path d="M163.1,368.7L162.7,372.6M169.9,368.5L166.6,372.0M159.4,371.7L162.9,375.2M170.0,372.1L166.2,375.0" stroke="#2e3068" stroke-width="1.4" stroke-linecap="round" fill="none"/>
<path d="M168.4,378.5L171.5,381.1M171.6,381.5L168.2,384.2" stroke="#14163a" stroke-width="2.0" stroke-linecap="round" fill="none"/>
<path d="M168.4,378.5L171.5,381.1" stroke="#1c1e50" stroke-width="1.4" stroke-linecap="round" fill="none"/>
<path d="M171.6,381.5L168.2,384.2" stroke="#2e3068" stroke-width="1.4" stroke-linecap="round" fill="none"/>
<path d="" stroke="#14163a" stroke-width="2.0" stroke-linecap="round" fill="none"/>
<path d="M83.4,392.1L86.1,394.4M88.4,391.7L91.2,395.2M79.5,394.3L79.4,398.1M81.0,394.6L81.4,398.4M88.0,394.9L84.7,397.6M90.5,394.2L88.5,396.6M87.6,397.3L84.5,399.7" stroke="#14163a" stroke-width="2.0" stroke-linecap="round" fill="none"/>
<path d="M83.4,392.1L86.1,394.4M79.5,394.3L79.4,398.1M88.0,394.9L84.7,397.6M87.6,397.3L84.5,399.7" stroke="#23265c" stroke-width="1.4" stroke-linecap="round" fill="none"/>
<path d="M88.4,391.7L91.2,395.2" stroke="#2e3068" stroke-width="1.4" stroke-linecap="round" fill="none"/>
<path d="M81.0,394.6L81.4,398.4M90.5,394.2L88.5,396.6" stroke="#1c1e50" stroke-width="1.4" stroke-linecap="round" fill="none"/>
<path d="M79.9,406.5L82.0,408.7" stroke="#14163a" stroke-width="2.0" stroke-linecap="round" fill="none"/>
<path d="M79.9,406.5L82.0,408.7" stroke="#1c1e50" stroke-width="1.4" stroke-linecap="round" fill="none"/>
<path d="M96.7,411.9L101.5,412.6M95.4,412.0L95.6,416.3M96.9,414.5L100.1,414.9" stroke="#14163a" stroke-width="2.0" stroke-linecap="round" fill="none"/>
<path d="M96.7,411.9L101.5,412.6" stroke="#23265c" stroke-width="1.4" stroke-linecap="round" fill="none"/>
<path d="M95.4,412.0L95.6,416.3M96.9,414.5L100.1,414.9" stroke="#2e3068" stroke-width="1.4" stroke-linecap="round" fill="none"/>
<path d="M91.8,421.0L94.3,423.0M96.5,422.8L101.1,422.9M92.4,422.8L89.4,426.6M96.1,423.0L95.8,426.7M97.0,425.6L101.5,425.8M100.3,423.4L102.8,426.3M91.4,427.6L96.3,426.9M97.2,425.6L100.1,428.2" stroke="#14163a" stroke-width="2.0" stroke-linecap="round" fill="none"/>
<path d="M91.8,421.0L94.3,423.0M97.0,425.6L101.5,425.8M91.4,427.6L96.3,426.9" stroke="#23265c" stroke-width="1.4" stroke-linecap="round" fill="none"/>
<path d="M96.5,422.8L101.1,422.9M92.4,422.8L89.4,426.6M96.1,423.0L95.8,426.7M97.2,425.6L100.1,428.2" stroke="#2e3068" stroke-width="1.4" stroke-linecap="round" fill="none"/>
<path d="M100.3,423.4L102.8,426.3" stroke="#1c1e50" stroke-width="1.4" stroke-linecap="round" fill="none"/>
<path d="M93.7,430.7L90.0,433.8M91.8,432.1L96.0,432.0M91.2,431.7L93.8,434.9M92.7,435.0L96.0,434.7M95.1,434.5L94.6,438.6M92.8,439.2L96.7,438.7" stroke="#14163a" stroke-width="2.0" stroke-linecap="round" fill="none"/>
<path d="M93.7,430.7L90.0,433.8M91.8,432.1L96.0,432.0M91.2,431.7L93.8,434.9M92.8,439.2L96.7,438.7" stroke="#23265c" stroke-width="1.4" stroke-linecap="round" fill="none"/>
<path d="M92.7,435.0L96.0,434.7" stroke="#1c1e50" stroke-width="1.4" stroke-linecap="round" fill="none"/>
<path d="M95.1,434.5L94.6,438.6" stroke="#2e3068" stroke-width="1.4" stroke-linecap="round" fill="none"/>
<path d="M71.5,444.5L75.0,447.2" stroke="#14163a" stroke-width="2.0" stroke-linecap="round" fill="none"/>
<path d="M71.5,444.5L75.0,447.2" stroke="#2e3068" stroke-width="1.4" stroke-linecap="round" fill="none"/>
<path d="M107.2,446.3L109.8,449.6M109.1,447.7L113.3,447.5M111.0,446.9L115.4,447.0" stroke="#14163a" stroke-width="2.0" stroke-linecap="round" fill="none"/>
<path d="M107.2,446.3L109.8,449.6M109.1,447.7L113.3,447.5M111.0,446.9L115.4,447.0" stroke="#23265c" stroke-width="1.4" stroke-linecap="round" fill="none"/>
<path d="" stroke="#14163a" stroke-width="2.0" stroke-linecap="round" fill="none"/>
<path d="M157.1,401.7L159.5,404.7M156.2,404.5L158.6,407.5M162.7,404.0L159.7,406.3M150.2,408.4L153.5,408.2M156.5,405.8L158.9,408.3M153.3,409.7L151.0,411.8M156.0,408.1L158.8,411.1M154.6,410.7L154.2,415.1M157.1,411.3L157.6,415.5M150.2,415.9L154.9,416.2M159.8,413.9L157.3,416.8" stroke="#14163a" stroke-width="2.0" stroke-linecap="round" fill="none"/>
<path d="M157.1,401.7L159.5,404.7M156.5,405.8L158.9,408.3M159.8,413.9L157.3,416.8" stroke="#2e3068" stroke-width="1.4" stroke-linecap="round" fill="none"/>
<path d="M156.2,404.5L158.6,407.5M162.7,404.0L159.7,406.3M150.2,408.4L153.5,408.2M154.6,410.7L154.2,415.1M157.1,411.3L157.6,415.5M150.2,415.9L154.9,416.2" stroke="#23265c" stroke-width="1.4" stroke-linecap="round" fill="none"/>
<path d="M153.3,409.7L151.0,411.8M156.0,408.1L158.8,411.1" stroke="#1c1e50" stroke-width="1.4" stroke-linecap="round" fill="none"/>
<path d="M167.2,409.6L167.0,414.6M163.2,411.0L163.3,415.5M165.9,412.2L163.1,414.7M165.5,414.1L169.1,413.6M165.0,414.8L162.0,418.5M168.7,414.8L168.4,417.9M169.2,416.0L172.7,418.9M166.7,417.5L169.2,420.8M168.7,418.0L170.9,420.4M159.8,419.1L159.3,423.5M163.2,420.4L163.7,424.6M164.0,419.8L167.2,422.5M170.7,420.9L170.6,424.0M173.1,420.0L172.9,424.2M161.6,423.0L159.4,425.2M162.5,422.5L161.9,426.9M164.1,424.6L167.6,424.4M159.5,426.3L157.2,428.6M158.7,425.1L161.6,427.6M163.5,424.9L160.4,428.4M167.0,426.3L169.8,428.8M158.1,428.6L161.8,431.8M164.2,427.3L161.0,430.4M164.0,428.3L167.1,431.1M170.1,427.8L166.6,430.9M171.7,427.7L169.3,429.9M164.2,430.3L161.6,433.3M166.0,430.8L168.8,433.5" stroke="#14163a" stroke-width="2.0" stroke-linecap="round" fill="none"/>
<path d="M167.2,409.6L167.0,414.6M165.5,414.1L169.1,413.6M168.7,414.8L168.4,417.9M169.2,416.0L172.7,418.9M168.7,418.0L170.9,420.4M162.5,422.5L161.9,426.9M164.1,424.6L167.6,424.4M163.5,424.9L160.4,428.4M164.2,427.3L161.0,430.4" stroke="#1c1e50" stroke-width="1.4" stroke-linecap="round" fill="none"/>
<path d="M163.2,411.0L163.3,415.5M165.9,412.2L163.1,414.7M165.0,414.8L162.0,418.5M166.7,417.5L169.2,420.8M159.8,419.1L159.3,423.5M164.0,419.8L167.2,422.5M170.7,420.9L170.6,424.0M158.1,428.6L161.8,431.8M164.0,428.3L167.1,431.1M171.7,427.7L169.3,429.9M164.2,430.3L161.6,433.3M166.0,430.8L168.8,433.5" stroke="#2e3068" stroke-width="1.4" stroke-linecap="round" fill="none"/>
<path d="M163.2,420.4L163.7,424.6M173.1,420.0L172.9,424.2M161.6,423.0L159.4,425.2M159.5,426.3L157.2,428.6M158.7,425.1L161.6,427.6M167.0,426.3L169.8,428.8M170.1,427.8L166.6,430.9" stroke="#23265c" stroke-width="1.4" stroke-linecap="round" fill="none"/>
<path d="M125.1,419.2L125.5,423.2" stroke="#14163a" stroke-width="2.0" stroke-linecap="round" fill="none"/>
<path d="M125.1,419.2L125.5,423.2" stroke="#2e3068" stroke-width="1.4" stroke-linecap="round" fill="none"/>
<path d="M148.1,427.0L148.3,431.3M149.4,433.1L152.9,433.5" stroke="#14163a" stroke-width="2.0" stroke-linecap="round" fill="none"/>
<path d="M148.1,427.0L148.3,431.3" stroke="#2e3068" stroke-width="1.4" stroke-linecap="round" fill="none"/>
<path d="M149.4,433.1L152.9,433.5" stroke="#23265c" stroke-width="1.4" stroke-linecap="round" fill="none"/>
<path d="M132.3,430.1L132.4,433.6M133.8,433.5L138.2,433.2M139.8,430.5L137.1,432.9M141.3,430.4L141.1,435.3M131.1,432.6L131.2,437.5M138.1,433.6L138.5,437.6M133.7,436.6L131.0,440.0M133.5,436.9L137.4,436.9M137.1,436.4L140.3,439.8M139.1,437.8L142.1,438.3M138.1,438.8L134.7,442.3M142.0,439.4L139.6,441.8" stroke="#14163a" stroke-width="2.0" stroke-linecap="round" fill="none"/>
<path d="M132.3,430.1L132.4,433.6M133.8,433.5L138.2,433.2M139.1,437.8L142.1,438.3M138.1,438.8L134.7,442.3" stroke="#23265c" stroke-width="1.4" stroke-linecap="round" fill="none"/>
<path d="M139.8,430.5L137.1,432.9M131.1,432.6L131.2,437.5M138.1,433.6L138.5,437.6M133.7,436.6L131.0,440.0M133.5,436.9L137.4,436.9M142.0,439.4L139.6,441.8" stroke="#2e3068" stroke-width="1.4" stroke-linecap="round" fill="none"/>
<path d="M141.3,430.4L141.1,435.3M137.1,436.4L140.3,439.8" stroke="#1c1e50" stroke-width="1.4" stroke-linecap="round" fill="none"/>
<path d="M137.5,445.1L137.4,449.9M142.9,445.3L145.3,447.9M147.6,444.4L144.3,447.2M149.9,445.2L147.7,447.7M138.2,449.4L141.7,449.8M146.4,449.8L149.8,450.1M154.7,447.5L152.2,450.0M139.3,450.1L141.4,452.4M141.4,451.4L144.3,453.8M145.5,450.3L145.8,454.6M149.1,450.4L149.5,453.7" stroke="#14163a" stroke-width="2.0" stroke-linecap="round" fill="none"/>
<path d="M137.5,445.1L137.4,449.9M149.1,450.4L149.5,453.7" stroke="#2e3068" stroke-width="1.4" stroke-linecap="round" fill="none"/>
<path d="M142.9,445.3L145.3,447.9M147.6,444.4L144.3,447.2M146.4,449.8L149.8,450.1M154.7,447.5L152.2,450.0M145.5,450.3L145.8,454.6" stroke="#23265c" stroke-width="1.4" stroke-linecap="round" fill="none"/>
<path d="M149.9,445.2L147.7,447.7M138.2,449.4L141.7,449.8M139.3,450.1L141.4,452.4M141.4,451.4L144.3,453.8" stroke="#1c1e50" stroke-width="1.4" stroke-linecap="round" fill="none"/>
<path d="M173.6,438.4L170.8,440.7M165.8,440.0L169.5,443.3M170.8,441.5L173.9,441.7M176.4,442.6L180.4,442.3M163.6,442.8L163.2,445.9M168.8,442.4L165.2,445.3M171.4,443.4L174.3,446.8M177.2,444.6L180.1,447.9M169.6,447.4L167.1,450.4M171.3,447.4L169.1,450.3M178.3,447.4L178.5,450.6" stroke="#14163a" stroke-width="2.0" stroke-linecap="round" fill="none"/>
<path d="M173.6,438.4L170.8,440.7M165.8,440.0L169.5,443.3M170.8,441.5L173.9,441.7M169.6,447.4L167.1,450.4M178.3,447.4L178.5,450.6" stroke="#1c1e50" stroke-width="1.4" stroke-linecap="round" fill="none"/>
<path d="M176.4,442.6L180.4,442.3M163.6,442.8L163.2,445.9M171.4,443.4L174.3,446.8" stroke="#2e3068" stroke-width="1.4" stroke-linecap="round" fill="none"/>
<path d="M168.8,442.4L165.2,445.3M177.2,444.6L180.1,447.9M171.3,447.4L169.1,450.3" stroke="#23265c" stroke-width="1.4" stroke-linecap="round" fill="none"/>
<path d="M95.5,349.7L95.7,353.3M92.3,351.8L94.9,354.1M95.1,351.5L94.9,356.5M98.0,352.5L100.1,354.8M92.4,354.5L94.6,356.8M96.4,354.5L94.2,357.9M98.5,354.6L97.0,357.7M99.8,354.8L97.5,357.8M92.4,355.8L92.5,360.1M94.4,356.4L96.1,359.2M97.2,356.0L97.4,360.9M98.3,355.2L100.9,358.1M94.1,356.5L93.6,360.8M93.1,357.4L96.3,360.1M97.8,356.9L97.8,360.7M98.4,358.1L100.5,362.0M94.2,360.3L96.5,363.9M97.0,360.9L98.6,364.1M97.2,359.8L100.4,362.8M96.2,361.4L96.4,365.0M98.2,361.8L101.2,364.7M93.9,363.1L92.2,367.3M93.8,363.8L97.0,367.0M96.6,363.4L98.8,367.8" stroke="#3a3a48" stroke-width="2.1" stroke-linecap="round" fill="none"/>
<path d="M95.5,349.7L95.7,353.3M95.1,351.5L94.9,356.5M92.4,354.5L94.6,356.8M96.4,354.5L94.2,357.9M98.5,354.6L97.0,357.7M94.1,356.5L93.6,360.8M98.4,358.1L100.5,362.0" stroke="#474755" stroke-width="1.5" stroke-linecap="round" fill="none"/>
<path d="M92.3,351.8L94.9,354.1M99.8,354.8L97.5,357.8M92.4,355.8L92.5,360.1M94.4,356.4L96.1,359.2M97.2,356.0L97.4,360.9M98.3,355.2L100.9,358.1M93.1,357.4L96.3,360.1M97.8,356.9L97.8,360.7M94.2,360.3L96.5,363.9M97.0,360.9L98.6,364.1M96.2,361.4L96.4,365.0M98.2,361.8L101.2,364.7M96.6,363.4L98.8,367.8" stroke="#5c5c6a" stroke-width="1.5" stroke-linecap="round" fill="none"/>
<path d="M98.0,352.5L100.1,354.8M97.2,359.8L100.4,362.8M93.9,363.1L92.2,367.3M93.8,363.8L97.0,367.0" stroke="#50505e" stroke-width="1.5" stroke-linecap="round" fill="none"/>
<path d="M112.5,361.4L115.9,364.3M111.4,364.3L113.8,367.7M117.1,363.5L116.8,367.9M112.9,366.0L114.6,368.7M116.4,366.0L113.8,370.2M115.9,366.2L117.8,370.2M112.8,366.8L112.7,370.5M115.1,369.3L117.5,371.1M113.5,369.6L111.6,374.0M117.0,369.0L117.1,373.4M111.7,370.8L111.7,374.1M115.5,373.5L117.3,376.2M118.3,370.3L118.5,375.1" stroke="#3a3a48" stroke-width="2.1" stroke-linecap="round" fill="none"/>
<path d="M112.5,361.4L115.9,364.3M115.1,369.3L117.5,371.1M117.0,369.0L117.1,373.4M115.5,373.5L117.3,376.2M118.3,370.3L118.5,375.1" stroke="#50505e" stroke-width="1.5" stroke-linecap="round" fill="none"/>
<path d="M111.4,364.3L113.8,367.7M115.9,366.2L117.8,370.2M112.8,366.8L112.7,370.5M113.5,369.6L111.6,374.0M111.7,370.8L111.7,374.1" stroke="#5c5c6a" stroke-width="1.5" stroke-linecap="round" fill="none"/>
<path d="M117.1,363.5L116.8,367.9M112.9,366.0L114.6,368.7M116.4,366.0L113.8,370.2" stroke="#474755" stroke-width="1.5" stroke-linecap="round" fill="none"/>
<path d="M93.3,373.4L94.9,376.9M89.7,375.3L86.7,379.3M90.3,375.9L90.0,379.9M90.9,374.6L92.1,377.5M93.3,376.2L96.4,378.6M90.4,376.7L92.7,380.2M91.9,379.1L94.4,381.1M93.7,377.1L96.5,380.6M88.4,380.5L88.2,383.8M91.4,379.8L93.1,382.8M95.6,379.9L93.4,383.0M85.6,381.5L87.3,384.0M86.7,382.5L89.1,386.8M91.9,381.8L90.2,385.2M92.9,381.2L92.7,384.3M89.0,384.0L89.1,387.0M91.2,382.8L90.8,387.7M93.3,383.4L93.2,387.2M88.1,384.7L86.2,389.0M91.7,385.7L91.4,388.8" stroke="#3a3a48" stroke-width="2.1" stroke-linecap="round" fill="none"/>
<path d="M93.3,373.4L94.9,376.9M89.7,375.3L86.7,379.3M90.3,375.9L90.0,379.9M93.7,377.1L96.5,380.6M91.9,381.8L90.2,385.2M92.9,381.2L92.7,384.3" stroke="#50505e" stroke-width="1.5" stroke-linecap="round" fill="none"/>
<path d="M90.9,374.6L92.1,377.5M90.4,376.7L92.7,380.2M88.4,380.5L88.2,383.8M85.6,381.5L87.3,384.0M89.0,384.0L89.1,387.0" stroke="#5c5c6a" stroke-width="1.5" stroke-linecap="round" fill="none"/>
<path d="M93.3,376.2L96.4,378.6M91.9,379.1L94.4,381.1M91.4,379.8L93.1,382.8M95.6,379.9L93.4,383.0M86.7,382.5L89.1,386.8M91.2,382.8L90.8,387.7M93.3,383.4L93.2,387.2M88.1,384.7L86.2,389.0M91.7,385.7L91.4,388.8" stroke="#474755" stroke-width="1.5" stroke-linecap="round" fill="none"/>
<path d="M118.6,364.1L120.4,366.7M118.5,363.9L121.9,366.9M119.4,365.9L119.0,370.1M122.3,365.1L122.9,369.7M118.6,369.4L120.0,372.3M119.9,367.9L119.6,371.4M122.7,371.8L121.5,374.7" stroke="#3a3a48" stroke-width="2.1" stroke-linecap="round" fill="none"/>
<path d="M118.6,364.1L120.4,366.7M118.5,363.9L121.9,366.9M119.4,365.9L119.0,370.1M122.3,365.1L122.9,369.7M119.9,367.9L119.6,371.4M122.7,371.8L121.5,374.7" stroke="#5c5c6a" stroke-width="1.5" stroke-linecap="round" fill="none"/>
<path d="M118.6,369.4L120.0,372.3" stroke="#50505e" stroke-width="1.5" stroke-linecap="round" fill="none"/>
<path d="M147.7,397.0L149.0,400.3M140.2,400.4L142.4,402.6M146.4,399.8L144.2,403.5M143.5,400.1L147.0,403.3M146.8,398.8L148.7,402.7M137.3,402.5L140.1,404.7M144.4,399.6L142.5,404.1M148.0,401.9L145.1,405.6M149.8,401.4L148.3,404.8M139.8,404.0L139.9,407.7M140.8,402.1L143.9,405.9M147.3,401.8L147.6,406.7M146.9,403.9L148.9,408.2M151.2,404.1L151.0,407.6M140.9,405.6L143.0,408.0M143.6,406.3L145.4,408.9M145.9,403.8L145.6,408.6M147.9,406.4L151.2,410.1M140.2,407.9L137.8,411.7M141.0,405.9L141.6,410.6M143.7,406.7L144.2,410.9M146.9,406.9L144.2,410.8M148.4,407.7L148.6,411.7M150.6,407.2L150.2,411.1M152.8,408.6L151.0,411.2M137.2,409.9L140.1,413.6M145.8,410.9L148.3,413.0M148.2,411.0L151.1,413.5M148.6,410.0L151.2,413.5M151.8,409.3L153.5,412.9M144.5,410.9L141.8,414.6M146.8,412.3L145.3,415.0M150.1,412.2L147.5,416.2" stroke="#3a3a48" stroke-width="2.1" stroke-linecap="round" fill="none"/>
<path d="M147.7,397.0L149.0,400.3M140.2,400.4L142.4,402.6M146.4,399.8L144.2,403.5M139.8,404.0L139.9,407.7M140.8,402.1L143.9,405.9M146.9,403.9L148.9,408.2M140.9,405.6L143.0,408.0M145.9,403.8L145.6,408.6M150.6,407.2L150.2,411.1M137.2,409.9L140.1,413.6M148.2,411.0L151.1,413.5M148.6,410.0L151.2,413.5M151.8,409.3L153.5,412.9M146.8,412.3L145.3,415.0" stroke="#474755" stroke-width="1.5" stroke-linecap="round" fill="none"/>
<path d="M143.5,400.1L147.0,403.3M137.3,402.5L140.1,404.7M144.4,399.6L142.5,404.1M149.8,401.4L148.3,404.8M147.3,401.8L147.6,406.7M141.0,405.9L141.6,410.6M143.7,406.7L144.2,410.9M145.8,410.9L148.3,413.0M150.1,412.2L147.5,416.2" stroke="#50505e" stroke-width="1.5" stroke-linecap="round" fill="none"/>
<path d="M146.8,398.8L148.7,402.7M148.0,401.9L145.1,405.6M151.2,404.1L151.0,407.6M143.6,406.3L145.4,408.9M147.9,406.4L151.2,410.1M140.2,407.9L137.8,411.7M146.9,406.9L144.2,410.8M148.4,407.7L148.6,411.7M152.8,408.6L151.0,411.2M144.5,410.9L141.8,414.6" stroke="#5c5c6a" stroke-width="1.5" stroke-linecap="round" fill="none"/>
<path d="M175.6,420.0L178.3,424.0M177.9,421.5L177.8,425.0M179.3,420.7L181.7,424.8M171.5,423.4L169.5,426.3M173.5,422.8L171.9,426.1M175.8,424.0L174.2,426.8M177.9,422.8L176.2,425.4M179.1,422.0L182.3,425.5M174.2,424.9L174.4,429.9M177.3,424.8L174.9,429.0M179.9,426.1L179.7,429.3M173.0,426.1L170.9,430.0M173.6,427.7L174.9,430.7M176.3,427.7L177.6,430.8M173.5,430.0L173.1,434.7M173.0,431.3L175.3,433.4M177.0,428.1L176.9,432.7M178.9,429.5L178.7,432.5M175.6,430.8L177.1,434.1" stroke="#3a3a48" stroke-width="2.1" stroke-linecap="round" fill="none"/>
<path d="M175.6,420.0L178.3,424.0M173.5,422.8L171.9,426.1M177.9,422.8L176.2,425.4M173.0,426.1L170.9,430.0M176.3,427.7L177.6,430.8M173.5,430.0L173.1,434.7M175.6,430.8L177.1,434.1" stroke="#5c5c6a" stroke-width="1.5" stroke-linecap="round" fill="none"/>
<path d="M177.9,421.5L177.8,425.0M171.5,423.4L169.5,426.3M175.8,424.0L174.2,426.8M179.1,422.0L182.3,425.5M174.2,424.9L174.4,429.9M179.9,426.1L179.7,429.3M173.6,427.7L174.9,430.7M177.0,428.1L176.9,432.7" stroke="#474755" stroke-width="1.5" stroke-linecap="round" fill="none"/>
<path d="M179.3,420.7L181.7,424.8M177.3,424.8L174.9,429.0M173.0,431.3L175.3,433.4M178.9,429.5L178.7,432.5" stroke="#50505e" stroke-width="1.5" stroke-linecap="round" fill="none"/>
<path d="M78.1,357.3L82.4,357.4M83.8,355.5L80.8,358.6M77.2,359.4L80.4,359.4M82.3,357.0L80.1,359.6M82.7,358.6L85.8,361.0M83.4,357.8L87.3,358.1M78.9,357.7L79.0,362.3M79.2,360.1L82.7,363.3M85.1,358.6L85.4,362.4M87.8,359.5L84.4,362.4M78.3,362.5L74.6,365.6M75.9,362.0L78.9,365.0M78.6,361.3L79.0,364.8M82.0,362.1L82.0,365.6M84.7,360.5L84.5,364.0M83.6,364.4L88.5,363.7M89.7,361.9L87.4,364.4M75.9,363.0L72.6,365.8M76.8,364.4L73.7,367.9M76.6,364.2L79.6,364.4M80.2,365.7L83.9,366.0M83.9,363.9L83.6,368.3M85.4,364.0L85.3,367.7M90.0,363.1L88.0,365.6M76.0,365.3L76.4,368.7M77.6,366.8L75.3,369.1M78.8,366.7L82.9,366.8M81.1,365.8L84.4,369.4M84.7,364.7L84.7,368.9M87.5,366.9L84.7,369.0M88.6,364.6L88.2,369.0M76.5,368.1L76.3,372.3M79.0,367.7L78.9,372.2M82.3,368.0L81.9,372.5M83.2,370.0L86.5,369.8M87.4,368.7L87.6,371.9M85.8,368.8L89.0,372.4M78.2,369.1L77.7,372.9M80.3,370.0L76.8,372.9M81.1,370.9L83.8,374.0M82.5,370.0L84.7,372.6" stroke="#5e5e40" stroke-width="2.1" stroke-linecap="round" fill="none"/>
<path d="M78.1,357.3L82.4,357.4M83.8,355.5L80.8,358.6M82.3,357.0L80.1,359.6M83.4,357.8L87.3,358.1M78.9,357.7L79.0,362.3M83.6,364.4L88.5,363.7M75.9,363.0L72.6,365.8M83.9,363.9L83.6,368.3M81.1,365.8L84.4,369.4M83.2,370.0L86.5,369.8M78.2,369.1L77.7,372.9M81.1,370.9L83.8,374.0M82.5,370.0L84.7,372.6" stroke="#86865c" stroke-width="1.5" stroke-linecap="round" fill="none"/>
<path d="M77.2,359.4L80.4,359.4M82.7,358.6L85.8,361.0M87.8,359.5L84.4,362.4M78.3,362.5L74.6,365.6M78.6,361.3L79.0,364.8M82.0,362.1L82.0,365.6M84.7,360.5L84.5,364.0M76.6,364.2L79.6,364.4M90.0,363.1L88.0,365.6M77.6,366.8L75.3,369.1M88.6,364.6L88.2,369.0M76.5,368.1L76.3,372.3M79.0,367.7L78.9,372.2M87.4,368.7L87.6,371.9M85.8,368.8L89.0,372.4M80.3,370.0L76.8,372.9" stroke="#929266" stroke-width="1.5" stroke-linecap="round" fill="none"/>
<path d="M79.2,360.1L82.7,363.3M85.1,358.6L85.4,362.4M75.9,362.0L78.9,365.0M89.7,361.9L87.4,364.4M76.8,364.4L73.7,367.9M80.2,365.7L83.9,366.0M85.4,364.0L85.3,367.7M76.0,365.3L76.4,368.7M78.8,366.7L82.9,366.8M84.7,364.7L84.7,368.9M87.5,366.9L84.7,369.0M82.3,368.0L81.9,372.5" stroke="#7a7a52" stroke-width="1.5" stroke-linecap="round" fill="none"/>
<path d="M165.6,337.5L170.5,336.9M167.8,336.9L172.0,337.1M167.7,337.1L170.6,340.2M172.4,336.4L169.4,339.2M159.5,339.8L163.4,339.7M161.8,340.2L166.3,340.5M163.5,340.1L167.8,339.9M166.4,339.7L169.0,341.8M170.8,338.7L170.6,343.0M170.5,339.6L174.2,342.6M158.7,339.8L162.4,342.8M160.1,341.2L164.4,341.6M162.3,342.3L165.5,342.0M163.8,341.7L168.1,341.5M169.1,339.4L168.8,343.7M168.2,341.8L172.1,341.6M172.7,340.5L172.3,344.2M157.8,344.7L161.2,344.9M161.5,342.7L164.1,345.9M161.8,343.5L165.0,346.4M165.3,344.3L168.6,344.2M165.2,341.5L168.4,345.2M168.4,341.6L171.3,344.9M173.0,341.2L173.1,344.6M156.9,346.8L161.1,347.0M158.8,344.0L161.8,346.9M163.3,345.1L160.1,347.6M165.6,344.4L162.5,346.9M165.9,343.6L166.1,346.7M168.8,344.9L165.5,347.6M170.3,344.8L167.8,348.1M169.5,345.0L172.7,347.5M156.0,349.1L160.6,348.7M159.7,347.1L162.7,350.7M163.9,346.5L160.7,349.5M164.7,346.6L162.0,348.8M163.5,348.1L166.6,347.8M168.8,346.6L165.4,349.9M159.0,348.9L159.0,352.7M160.8,347.0L161.2,351.0M164.1,347.5L161.1,350.2M164.6,347.9L164.9,351.7M164.2,348.2L167.4,351.2M168.0,347.9L167.9,351.4M154.8,351.3L159.4,350.8M158.3,349.1L155.3,352.9M160.7,349.7L158.0,352.3M159.9,351.4L163.0,354.8M161.2,351.6L164.4,354.1" stroke="#5e5e40" stroke-width="2.2" stroke-linecap="round" fill="none"/>
<path d="M165.6,337.5L170.5,336.9M167.8,336.9L172.0,337.1M163.5,340.1L167.8,339.9M166.4,339.7L169.0,341.8M172.7,340.5L172.3,344.2M168.4,341.6L171.3,344.9M158.8,344.0L161.8,346.9M169.5,345.0L172.7,347.5M168.8,346.6L165.4,349.9M158.3,349.1L155.3,352.9M159.9,351.4L163.0,354.8" stroke="#7a7a52" stroke-width="1.6" stroke-linecap="round" fill="none"/>
<path d="M167.7,337.1L170.6,340.2M172.4,336.4L169.4,339.2M159.5,339.8L163.4,339.7M161.8,340.2L166.3,340.5M170.5,339.6L174.2,342.6M158.7,339.8L162.4,342.8M163.8,341.7L168.1,341.5M169.1,339.4L168.8,343.7M168.2,341.8L172.1,341.6M157.8,344.7L161.2,344.9M161.8,343.5L165.0,346.4M165.2,341.5L168.4,345.2M173.0,341.2L173.1,344.6M163.3,345.1L160.1,347.6M165.6,344.4L162.5,346.9M165.9,343.6L166.1,346.7M170.3,344.8L167.8,348.1M159.7,347.1L162.7,350.7M163.9,346.5L160.7,349.5M159.0,348.9L159.0,352.7" stroke="#86865c" stroke-width="1.6" stroke-linecap="round" fill="none"/>
<path d="M170.8,338.7L170.6,343.0M160.1,341.2L164.4,341.6M162.3,342.3L165.5,342.0M161.5,342.7L164.1,345.9M165.3,344.3L168.6,344.2M156.9,346.8L161.1,347.0M168.8,344.9L165.5,347.6M156.0,349.1L160.6,348.7M164.7,346.6L162.0,348.8M163.5,348.1L166.6,347.8M160.8,347.0L161.2,351.0M164.1,347.5L161.1,350.2M164.6,347.9L164.9,351.7M164.2,348.2L167.4,351.2M168.0,347.9L167.9,351.4M154.8,351.3L159.4,350.8M160.7,349.7L158.0,352.3M161.2,351.6L164.4,354.1" stroke="#929266" stroke-width="1.6" stroke-linecap="round" fill="none"/>
<path d="M97.7,383.0L101.8,387.1M93.0,385.7L96.4,389.6M96.6,387.5L100.9,387.5M98.1,385.3L101.2,387.1M102.9,386.6L107.6,386.8M105.2,386.8L109.5,386.4M106.8,385.7L110.7,387.8M91.9,388.0L95.4,391.4M92.8,386.6L96.8,390.5M94.6,389.2L100.1,388.5M97.4,389.1L102.3,389.8M100.2,387.6L104.1,391.3M105.2,388.5L109.3,391.4M105.9,388.7L111.0,388.9M92.6,390.9L97.7,390.9M99.5,390.9L105.4,391.0M102.6,391.4L107.4,391.9M104.9,392.2L109.3,391.8M108.7,390.0L113.9,392.6M112.1,391.7L116.9,391.5M113.8,389.8L118.4,392.0M115.5,391.1L121.2,390.7M91.4,391.8L94.1,394.1M92.6,393.6L97.3,393.5M96.9,394.0L101.5,394.5M100.3,394.4L105.7,394.3M102.3,392.8L106.1,396.6M105.5,392.4L108.4,395.7M108.1,391.7L110.6,394.8M110.8,393.1L114.3,393.2M112.2,391.2L116.8,394.2M114.1,392.7L117.8,393.1M115.7,391.9L119.5,394.9M118.6,392.6L122.2,395.0M121.1,391.8L125.9,395.0M123.0,394.2L127.0,394.0M88.3,394.3L92.5,397.1M92.0,394.1L94.9,397.3M93.4,395.3L98.8,395.5M96.0,393.7L99.3,397.6M98.1,393.6L100.8,396.5M100.7,396.2L104.8,395.9M102.2,395.2L105.5,398.5M106.4,395.7L111.9,395.8M112.4,395.4L117.2,395.0M113.5,394.8L117.9,397.8M116.9,394.9L120.4,397.8M119.0,394.6L122.8,397.5M125.1,395.6L129.6,395.4M86.7,399.6L91.4,398.9M87.4,397.6L93.2,398.3M91.5,399.3L95.1,399.0M93.3,396.5L97.1,400.5M95.9,398.8L101.4,398.8M98.8,397.0L102.2,400.9M102.5,396.8L106.2,401.3M107.2,398.5L112.0,398.6M109.2,397.1L113.3,400.3M111.3,397.8L116.8,397.2M114.4,397.8L118.0,399.8M115.4,397.5L120.1,397.6M119.1,396.4L122.6,399.2M121.3,396.1L124.6,399.9M87.1,398.3L91.3,401.7M87.6,401.2L93.2,400.5M91.7,400.4L96.0,400.0M93.8,398.7L98.2,402.7M95.9,400.4L99.8,399.9M98.4,399.5L103.6,400.0M100.1,399.0L103.8,403.7M103.4,399.4L107.5,401.9M104.2,398.9L107.8,401.3M107.0,400.1L111.0,400.5M114.0,399.3L117.3,401.3M116.7,400.9L120.8,400.8M91.8,400.7L96.3,404.4M94.7,403.0L100.5,402.4M96.8,402.2L101.8,402.3M99.9,401.5L103.9,403.3M102.6,402.3L106.7,404.1M107.6,403.6L112.7,404.0M108.4,403.6L113.5,404.1M111.0,403.5L116.5,403.4M114.5,401.1L118.2,404.8M94.9,403.9L97.7,406.3M96.6,404.7L100.8,406.5M98.0,405.7L102.6,405.5M101.9,404.4L104.5,407.2M101.7,405.3L107.2,405.2M103.3,404.8L108.9,404.3M106.7,404.7L110.6,406.6M108.3,404.8L113.3,404.1M111.8,405.5L117.5,405.1M113.7,404.8L118.6,405.3M100.1,405.4L103.0,408.8M101.0,407.4L106.7,407.5M104.7,405.2L108.2,408.7M107.2,408.2L111.8,407.9M110.5,406.0L114.7,408.4M113.1,405.8L116.3,408.2M114.6,406.8L119.0,409.2M110.0,410.0L113.5,410.3M114.1,408.7L117.7,410.4M114.8,410.8L118.4,413.7" stroke="#a8a838" stroke-width="1.8" stroke-linecap="round" fill="none"/>
<path d="M97.7,383.0L101.8,387.1M105.2,386.8L109.5,386.4M106.8,385.7L110.7,387.8M92.8,386.6L96.8,390.5M97.4,389.1L102.3,389.8M100.2,387.6L104.1,391.3M105.9,388.7L111.0,388.9M99.5,390.9L105.4,391.0M102.6,391.4L107.4,391.9M108.7,390.0L113.9,392.6M91.4,391.8L94.1,394.1M96.9,394.0L101.5,394.5M100.3,394.4L105.7,394.3M110.8,393.1L114.3,393.2M123.0,394.2L127.0,394.0M93.4,395.3L98.8,395.5M98.1,393.6L100.8,396.5M119.0,394.6L122.8,397.5M125.1,395.6L129.6,395.4M91.5,399.3L95.1,399.0M119.1,396.4L122.6,399.2M100.1,399.0L103.8,403.7M116.7,400.9L120.8,400.8M114.5,401.1L118.2,404.8M96.6,404.7L100.8,406.5M101.7,405.3L107.2,405.2M108.3,404.8L113.3,404.1M113.7,404.8L118.6,405.3M114.6,406.8L119.0,409.2M110.0,410.0L113.5,410.3" stroke="#e8e848" stroke-width="1.3" stroke-linecap="round" fill="none"/>
<path d="M93.0,385.7L96.4,389.6M96.6,387.5L100.9,387.5M98.1,385.3L101.2,387.1M91.9,388.0L95.4,391.4M112.1,391.7L116.9,391.5M115.5,391.1L121.2,390.7M105.5,392.4L108.4,395.7M114.1,392.7L117.8,393.1M121.1,391.8L125.9,395.0M92.0,394.1L94.9,397.3M100.7,396.2L104.8,395.9M102.2,395.2L105.5,398.5M106.4,395.7L111.9,395.8M112.4,395.4L117.2,395.0M113.5,394.8L117.9,397.8M87.4,397.6L93.2,398.3M93.3,396.5L97.1,400.5M95.9,398.8L101.4,398.8M98.8,397.0L102.2,400.9M109.2,397.1L113.3,400.3M114.4,397.8L118.0,399.8M115.4,397.5L120.1,397.6M87.6,401.2L93.2,400.5M91.7,400.4L96.0,400.0M93.8,398.7L98.2,402.7M95.9,400.4L99.8,399.9M103.4,399.4L107.5,401.9M107.0,400.1L111.0,400.5M114.0,399.3L117.3,401.3M96.8,402.2L101.8,402.3M99.9,401.5L103.9,403.3M111.0,403.5L116.5,403.4M94.9,403.9L97.7,406.3M98.0,405.7L102.6,405.5M101.9,404.4L104.5,407.2M111.8,405.5L117.5,405.1M100.1,405.4L103.0,408.8M101.0,407.4L106.7,407.5M104.7,405.2L108.2,408.7M107.2,408.2L111.8,407.9M113.1,405.8L116.3,408.2M114.8,410.8L118.4,413.7" stroke="#f4f468" stroke-width="1.3" stroke-linecap="round" fill="none"/>
<path d="M102.9,386.6L107.6,386.8M94.6,389.2L100.1,388.5M105.2,388.5L109.3,391.4M92.6,390.9L97.7,390.9M104.9,392.2L109.3,391.8M113.8,389.8L118.4,392.0M92.6,393.6L97.3,393.5M102.3,392.8L106.1,396.6M108.1,391.7L110.6,394.8M112.2,391.2L116.8,394.2M115.7,391.9L119.5,394.9M118.6,392.6L122.2,395.0M88.3,394.3L92.5,397.1M96.0,393.7L99.3,397.6M116.9,394.9L120.4,397.8M86.7,399.6L91.4,398.9M102.5,396.8L106.2,401.3M107.2,398.5L112.0,398.6M111.3,397.8L116.8,397.2M121.3,396.1L124.6,399.9M87.1,398.3L91.3,401.7M98.4,399.5L103.6,400.0M104.2,398.9L107.8,401.3M91.8,400.7L96.3,404.4M94.7,403.0L100.5,402.4M102.6,402.3L106.7,404.1M107.6,403.6L112.7,404.0M108.4,403.6L113.5,404.1M103.3,404.8L108.9,404.3M106.7,404.7L110.6,406.6M110.5,406.0L114.7,408.4M114.1,408.7L117.7,410.4" stroke="#f0f050" stroke-width="1.3" stroke-linecap="round" fill="none"/>
<path d="M239.1,365.3 L247.8,362.8 L256.4,362.2 L265.0,365.3 L273.6,367.1 L277.1,371.4 L282.2,374.8 L287.4,378.3 L293.4,383.4 L296.9,389.5 L297.8,396.4 L296.0,403.3 L290.9,406.7 L280.5,406.7 L275.3,411.9 L270.2,412.8 L263.3,411.9 L259.8,417.1 L254.7,424.0 L250.3,428.3 L243.4,425.7 L240.0,418.8 L235.7,413.6 L228.8,406.7 L221.9,400.7 L223.6,392.9 L230.5,382.6 L234.0,374.0Z" fill="#c0c048"/>
<path d="M255.5,361.6L253.2,363.8M259.0,361.6L256.3,364.3M238.8,367.5L243.0,367.5M247.4,364.8L250.3,367.5M253.1,365.2L249.6,368.3M244.4,367.0L247.7,370.3M255.9,366.6L259.1,369.7M261.8,367.6L257.9,370.6M262.4,366.9L265.6,370.5M266.2,367.9L268.3,370.5M237.1,370.0L234.7,372.3M243.6,369.0L240.4,372.2M244.9,370.0L248.4,372.9M252.9,370.5L255.6,373.1M256.1,370.8L258.6,372.9M265.0,368.9L267.6,372.2M268.7,370.3L271.8,372.7M271.6,369.5L274.1,372.2M249.1,371.2L252.0,373.8M258.4,371.0L261.1,373.8M260.1,371.3L263.7,374.3M263.8,371.5L266.4,374.2M270.2,372.0L267.6,374.0M274.8,372.1L271.9,375.3M276.4,372.0L278.6,374.2M280.8,372.6L278.4,374.7M239.8,374.6L237.5,377.4M247.4,374.8L249.8,377.7M250.9,375.6L254.0,375.7M260.3,373.5L257.8,376.0M259.6,373.6L262.0,375.9M264.8,375.8L268.4,375.3M266.3,374.9L268.9,377.2M271.3,374.9L269.0,376.9M272.9,373.8L274.9,376.3M278.5,373.7L281.3,376.5M279.5,374.2L281.6,376.9M239.6,375.4L242.3,378.5M250.8,375.6L247.4,379.1M255.5,376.8L253.1,378.8M255.5,376.0L258.0,379.2M261.5,376.9L258.8,379.7M259.4,376.4L261.9,379.0M266.0,377.5L270.5,377.3M270.4,377.1L274.1,376.6M272.7,376.0L275.8,379.7M284.6,376.5L281.8,379.1M243.7,378.5L240.9,381.7M244.7,377.9L242.0,380.8M243.3,379.3L247.9,379.5M247.1,377.2L250.0,380.7M247.7,379.3L252.6,379.6M255.4,378.2L258.2,381.7M256.7,379.0L260.6,379.4M262.8,378.3L260.2,380.9M262.7,380.3L266.4,380.6M276.4,379.0L280.9,379.0M280.2,378.9L283.3,381.2M233.2,381.8L236.6,382.0M263.3,381.1L265.8,383.1M266.8,380.8L269.7,383.5M270.2,381.9L273.4,381.6M272.5,382.3L276.8,382.4M275.1,379.9L278.1,382.4M237.9,382.2L241.5,385.3M240.9,383.4L243.4,385.4M244.0,384.7L247.7,384.3M255.1,382.7L252.9,385.5M261.0,383.7L258.5,386.5M262.8,383.1L260.3,385.0M271.7,382.2L274.0,384.7M282.5,383.1L285.6,386.9M230.4,385.3L227.4,387.5M229.1,384.3L232.1,388.1M254.2,385.8L251.8,388.1M267.2,385.7L270.5,385.7M268.5,385.7L272.2,385.7M281.7,386.6L286.1,386.7M290.7,384.6L294.2,387.8M236.3,388.8L241.2,388.9M246.8,386.9L249.0,389.1M254.5,386.7L257.1,390.0M263.3,386.8L265.9,389.0M264.7,388.8L268.1,389.1M282.5,386.8L284.7,389.7M285.3,387.3L287.9,389.6M285.8,387.7L290.4,388.1M287.8,388.1L290.9,388.1M294.7,387.5L291.5,390.7M293.8,387.5L296.9,391.2M228.5,391.0L231.5,391.1M230.8,389.2L233.6,392.8M236.8,388.7L233.9,392.1M240.4,389.7L243.3,392.5M249.6,388.3L246.4,391.9M251.5,389.0L255.0,392.2M252.7,391.1L256.6,390.7M259.5,389.9L262.2,392.3M265.0,389.3L261.9,391.8M278.6,389.8L281.1,392.2M279.0,390.6L283.2,390.3M230.6,393.6L235.0,393.3M237.0,392.5L240.9,392.1M240.4,391.1L243.6,393.8M245.0,390.9L247.3,393.9M246.5,391.4L250.3,394.5M260.7,391.8L263.1,394.1M261.1,393.6L265.4,393.8M265.1,391.8L267.5,395.0M277.3,390.7L280.5,393.8M282.4,393.2L287.2,393.8M285.9,391.5L288.4,394.2M288.1,391.9L291.1,395.4M222.1,394.0L225.8,397.3M232.0,393.1L234.7,395.9M235.7,396.1L239.3,395.9M245.6,394.2L243.0,396.6M245.5,392.7L248.1,396.1M254.0,394.9L258.5,395.0M264.7,393.6L266.6,396.1M282.4,393.0L285.9,396.0M288.0,393.0L285.0,397.0M288.1,393.1L291.0,395.9M297.3,393.2L294.7,395.6M223.8,396.6L226.0,398.8M229.1,397.0L232.8,397.3M230.9,396.3L234.7,399.2M261.7,396.5L258.4,399.2M259.9,395.6L262.3,398.4M264.2,397.9L267.8,398.2M274.7,396.0L277.9,399.6M288.8,396.2L286.3,399.1M293.0,396.7L290.2,399.2M298.4,396.0L295.6,399.2M231.6,397.9L228.3,401.6M236.0,398.4L238.7,402.0M236.9,400.0L241.0,399.6M240.5,398.8L243.2,401.0M242.5,398.1L245.4,400.6M261.1,400.0L264.7,399.7M264.4,397.6L266.6,400.2M273.5,398.5L270.3,401.8M283.0,399.0L285.0,401.5M290.9,398.6L294.3,402.1M293.5,399.1L296.1,401.5M222.4,402.4L226.0,402.2M227.2,401.1L231.1,400.9M231.5,401.1L229.4,403.3M234.9,401.6L238.3,401.8M244.9,401.1L247.3,404.1M255.7,399.9L258.9,402.6M258.0,400.2L260.2,402.6M271.6,400.7L274.5,403.8M288.9,400.5L291.5,402.7M290.5,401.0L294.5,400.8M294.9,401.2L297.3,403.8M233.5,402.6L236.3,405.9M238.5,401.6L235.5,405.3M241.2,402.4L238.6,405.4M240.6,401.6L243.9,405.2M241.8,403.3L245.3,406.0M244.7,402.5L247.2,405.3M246.7,402.3L250.3,405.2M248.7,403.0L251.5,406.6M259.3,403.0L262.7,406.4M261.6,405.0L264.8,404.7M265.3,402.7L268.0,405.7M269.2,403.1L272.0,406.5M274.5,402.1L271.5,404.6M281.3,402.4L278.4,405.2M279.7,402.6L282.5,405.7M284.7,402.3L281.8,404.6M283.1,402.2L286.7,405.3M287.3,402.6L289.7,405.6M295.3,401.7L292.4,405.3M226.1,404.0L229.1,407.0M231.3,404.4L233.8,407.0M239.6,405.6L242.6,405.4M247.1,404.5L249.5,407.3M252.7,404.8L255.7,408.3M255.9,406.2L260.1,406.2M260.1,405.1L263.3,408.9M263.8,407.1L267.3,406.9M274.3,405.6L277.8,408.5M282.1,404.3L279.1,408.0M241.2,406.2L243.5,409.2M247.3,408.2L250.9,408.2M255.4,407.6L259.3,410.7M270.5,406.4L267.1,409.5M275.4,407.5L278.0,410.1M242.3,409.8L239.5,412.1M254.4,410.6L259.0,410.2M259.5,409.1L262.1,411.7M262.4,410.2L266.6,410.1M266.7,409.7L269.1,412.5M271.6,409.6L268.9,412.7M236.5,410.7L239.7,413.5M237.1,412.3L240.6,415.1M240.8,411.8L243.4,415.0M245.1,412.2L247.5,414.6M250.5,412.0L254.9,412.1M256.2,412.0L254.2,414.5M238.1,414.0L241.3,416.9M242.8,412.9L239.4,416.5M253.6,413.8L256.2,416.7M242.5,414.8L245.7,418.4M254.5,415.9L252.6,418.3M257.5,414.8L261.0,418.0M242.3,418.4L239.7,420.7M242.6,418.7L245.1,421.2M253.2,420.3L255.7,422.9M244.5,423.3L248.0,426.1M246.9,421.7L249.5,425.1M249.1,423.6L252.3,424.0M247.0,424.8L249.9,427.2" stroke="#f2f25a" stroke-width="1.4" stroke-linecap="round" fill="none"/>
<path d="M240.3,363.3L242.5,366.0M242.5,364.9L246.4,364.8M256.0,362.5L259.4,365.1M256.9,363.6L259.9,366.0M241.1,365.9L238.8,368.1M253.5,365.9L257.3,365.9M257.6,364.3L260.6,368.2M263.0,364.7L265.5,367.6M263.9,366.6L268.9,366.7M268.6,364.3L265.8,367.3M238.6,367.0L236.4,369.5M240.9,366.2L243.5,369.6M259.5,367.0L261.8,369.0M268.4,366.6L265.0,369.3M268.4,366.8L272.0,369.7M274.3,366.9L271.7,369.7M236.4,370.5L238.7,372.5M238.6,369.5L242.1,373.0M245.4,368.8L243.0,371.5M246.1,370.4L250.5,370.3M258.1,370.9L261.8,371.0M260.7,370.5L263.9,373.0M275.1,371.6L279.7,371.8M240.8,371.7L238.2,374.4M246.3,371.4L248.9,373.7M256.7,372.2L253.7,375.3M261.5,371.7L264.2,374.0M273.1,374.2L277.1,373.6M231.7,375.8L235.3,375.4M248.6,373.3L245.4,375.9M255.5,376.0L259.9,375.5M240.1,377.4L237.8,379.6M244.4,377.1L248.6,377.4M249.4,375.7L252.6,378.1M264.9,376.0L261.8,378.8M269.0,375.2L272.0,378.7M279.3,378.2L283.6,378.2M287.5,376.7L285.1,378.7M233.9,377.1L230.8,380.7M237.7,378.0L234.1,380.8M251.3,379.2L253.7,381.6M264.7,378.9L267.7,382.2M265.2,379.6L270.1,380.2M271.0,379.2L273.3,382.0M275.4,377.9L278.3,381.3M282.7,378.2L284.8,380.7M283.8,379.0L287.3,382.2M245.0,380.6L241.2,383.6M245.1,381.5L248.7,384.2M248.4,380.7L251.4,383.3M256.2,380.0L259.4,383.3M263.1,381.6L267.6,381.7M268.0,381.9L271.7,382.1M284.4,381.4L281.9,383.5M285.2,380.4L287.3,382.9M228.8,382.6L231.7,385.5M230.7,383.6L234.8,383.4M244.3,383.1L241.8,385.9M245.5,381.9L249.3,385.1M257.8,383.6L254.9,386.1M262.0,383.6L265.4,386.4M263.6,383.7L267.1,384.1M270.1,382.1L266.7,384.9M293.3,382.8L290.7,385.6M231.4,387.3L236.1,387.2M236.8,385.1L239.2,388.1M239.4,384.9L242.5,388.0M241.9,384.4L245.1,386.9M246.2,384.8L249.5,388.0M255.6,384.6L252.8,388.2M260.1,385.4L256.9,388.0M262.9,384.0L265.6,387.5M269.5,386.8L274.2,386.4M275.7,385.6L278.3,388.6M277.7,387.1L281.0,386.7M284.7,384.0L287.2,387.3M292.1,384.1L289.1,387.8M293.3,385.7L295.4,388.4M229.2,388.2L231.3,390.6M233.6,386.4L236.8,389.2M244.0,386.3L247.4,390.0M255.0,387.5L251.8,391.3M255.6,386.0L259.1,389.4M258.1,387.4L261.3,390.7M259.5,388.0L263.3,387.9M266.2,387.5L269.0,389.7M268.8,387.8L271.5,390.7M271.2,387.5L274.4,390.1M274.3,387.9L276.4,390.7M275.8,386.9L278.7,390.7M280.6,387.5L278.2,390.2M227.4,389.2L225.4,391.6M230.5,389.8L227.5,392.3M235.9,390.1L239.8,389.9M238.2,389.9L241.8,390.4M243.7,389.9L245.8,392.2M255.3,389.2L257.9,391.6M257.4,389.2L260.2,391.3M269.4,388.7L272.3,392.3M276.4,389.5L273.9,392.6M274.7,391.1L278.7,391.2M281.5,388.8L284.2,391.3M285.9,389.6L288.2,391.7M289.6,390.1L293.3,390.4M294.6,388.8L298.1,392.2M223.6,391.3L226.0,393.7M227.6,392.0L230.4,394.7M232.7,392.1L237.7,392.2M248.5,393.5L251.8,393.6M256.5,391.1L253.6,394.0M253.9,392.1L258.7,392.4M261.4,391.0L258.3,394.6M267.1,391.8L270.0,394.3M271.0,390.6L268.0,393.7M271.0,391.3L273.6,393.6M275.9,392.6L279.1,392.2M279.7,390.8L281.9,393.5M281.9,393.4L285.6,393.4M290.7,390.8L293.6,393.8M224.9,394.6L228.1,397.5M227.4,394.1L230.6,397.0M229.7,393.6L233.1,396.6M233.0,394.0L235.9,396.4M238.2,394.9L240.9,397.2M239.8,392.9L242.9,396.6M257.6,394.7L261.2,394.6M260.1,393.9L262.8,395.9M266.0,395.2L269.8,395.5M271.4,393.0L274.5,396.5M272.9,394.2L275.2,396.6M279.0,392.8L276.0,395.9M279.3,395.0L284.0,395.4M233.4,397.0L238.1,397.0M244.1,396.5L240.2,399.4M243.6,396.5L245.7,399.1M245.1,396.5L248.1,399.1M247.5,396.6L250.9,400.0M248.3,395.5L251.7,398.2M256.5,396.5L253.9,399.9M262.4,395.5L265.2,398.0M269.5,395.8L272.3,399.0M269.5,396.8L273.8,397.4M277.7,397.6L282.1,398.2M282.8,395.9L285.2,398.5M284.2,395.1L286.8,398.3M287.4,397.8L291.7,398.1M294.0,395.6L296.6,397.7M223.2,399.0L225.7,401.8M230.1,398.8L227.4,401.9M230.5,397.2L233.8,400.4M235.7,397.9L232.8,401.5M247.4,398.3L249.9,401.0M250.0,397.7L252.2,400.6M252.5,399.8L256.4,400.0M255.3,397.7L257.6,400.4M272.7,398.5L275.8,401.4M286.8,399.0L289.7,401.8M287.6,400.3L291.5,400.1M225.6,400.5L227.8,403.3M231.1,401.0L234.8,404.1M251.1,399.8L253.4,402.5M253.0,400.7L255.9,404.0M265.0,400.3L267.6,402.4M268.9,400.4L271.2,402.5M273.2,399.8L276.5,402.4M278.9,400.2L281.1,402.3M292.8,400.2L295.4,402.5M226.9,403.6L229.5,406.0M230.7,403.0L234.0,406.7M251.6,403.5L253.9,405.7M254.0,403.4L257.2,405.8M274.2,404.2L279.1,403.7M228.6,405.8L232.5,406.3M236.0,405.0L238.5,407.9M253.7,405.6L251.6,408.2M260.3,404.5L257.7,407.4M270.7,406.8L274.0,406.8M273.5,405.8L277.5,406.2M279.9,404.6L277.5,406.6M284.6,406.8L288.3,406.6M233.9,407.5L231.3,410.2M236.9,406.6L234.0,409.0M236.2,407.1L239.4,410.0M243.0,407.6L245.3,409.7M245.6,407.2L247.6,409.9M253.9,407.7L251.6,410.1M256.8,406.9L253.4,410.1M258.0,406.6L261.0,409.9M260.4,406.1L262.9,409.0M264.6,406.7L262.4,409.0M269.4,408.1L272.7,408.4M275.6,406.9L272.7,410.4M232.4,408.4L236.3,411.5M241.7,408.3L238.8,411.9M253.6,410.1L256.0,412.7M258.2,410.4L262.0,410.7M271.1,408.4L274.0,411.4M241.6,411.7L245.3,414.9M249.4,411.8L245.9,415.1M247.7,413.0L252.0,412.7M255.4,412.9L259.4,412.6M261.6,411.2L258.0,414.5M262.3,410.9L259.3,413.3M270.0,412.2L273.9,411.7M235.3,413.2L238.7,416.1M247.6,414.0L250.2,416.1M253.3,412.9L250.3,416.6M258.3,412.5L255.4,415.8M257.0,415.6L260.2,415.9M243.8,417.0L247.5,417.1M253.7,415.4L256.5,418.3M256.6,415.3L258.9,417.5M247.8,418.1L250.4,420.5M251.2,418.0L254.7,421.1M256.2,417.9L252.8,420.5M244.4,419.7L247.8,423.0M250.9,421.5L254.1,421.1M245.8,422.3L243.5,424.3M247.5,424.7L244.3,428.1M250.5,424.5L253.2,426.7" stroke="#f6f670" stroke-width="1.4" stroke-linecap="round" fill="none"/>
<path d="M244.2,363.7L247.8,364.1M250.3,363.8L247.1,366.5M248.2,365.3L251.2,365.0M251.5,363.8L255.2,364.0M253.3,363.1L256.1,365.9M263.7,363.6L260.4,366.5M242.3,367.3L245.5,367.1M243.8,364.4L246.6,367.4M250.9,367.3L255.1,366.7M257.7,365.5L255.6,368.3M259.1,367.3L263.4,367.1M237.7,367.6L239.9,369.8M242.4,366.8L245.0,369.5M246.5,369.2L249.7,369.1M248.7,369.2L251.9,368.9M254.7,367.0L251.7,369.8M254.1,368.1L256.4,371.0M249.4,369.5L252.2,371.9M254.6,369.2L252.2,372.3M261.4,372.2L266.0,371.6M266.3,368.6L269.6,371.7M272.6,369.7L275.0,372.9M236.8,372.2L239.4,374.5M240.0,373.2L244.6,373.1M242.6,372.4L246.3,375.6M243.4,371.5L247.3,374.5M249.8,373.8L253.9,373.7M257.6,372.4L255.2,375.0M267.6,373.6L271.2,373.6M237.1,372.8L234.0,376.5M238.8,374.6L236.6,377.1M239.6,373.5L242.5,376.6M242.6,374.1L244.9,376.7M248.5,375.0L252.8,374.6M253.8,374.7L256.0,377.0M261.2,374.9L264.8,374.6M273.3,372.9L270.6,376.2M276.1,373.7L278.0,376.0M235.6,375.8L233.2,378.6M238.2,377.3L235.7,379.2M244.4,376.8L241.8,380.1M253.7,375.1L250.1,378.5M264.8,376.4L267.2,378.7M278.0,375.4L275.2,378.1M280.5,376.2L276.9,379.7M236.4,378.6L238.6,381.1M238.6,377.8L241.7,381.5M254.1,378.8L257.3,382.3M271.1,379.3L268.1,381.6M272.1,380.1L276.6,380.6M286.5,379.6L289.6,379.3M232.1,381.4L228.8,384.2M231.8,382.1L235.2,381.9M235.4,382.0L238.9,381.7M238.8,380.4L241.6,383.1M244.0,380.6L241.1,383.1M247.2,380.3L249.8,383.0M254.5,380.0L250.7,383.1M253.0,382.8L257.7,382.8M258.3,380.9L260.8,382.8M262.4,380.0L259.4,383.8M281.0,379.9L278.2,383.4M279.5,381.8L281.9,383.9M288.5,380.5L286.3,383.3M289.3,380.8L292.0,383.6M232.9,382.6L235.7,385.9M237.9,382.9L235.1,385.2M248.0,382.3L251.7,385.2M254.0,382.6L250.2,385.5M268.9,382.1L272.3,385.8M274.2,383.6L276.3,386.4M276.1,382.2L279.1,385.7M277.3,384.2L280.7,384.6M280.2,382.9L283.4,386.5M284.0,383.8L287.4,383.4M286.7,382.9L289.9,386.4M288.8,381.9L292.5,385.1M292.6,382.9L295.5,386.4M233.7,387.3L237.3,386.8M241.8,385.1L238.2,388.2M244.8,384.3L247.7,387.6M249.2,384.8L252.6,387.9M255.6,384.9L258.3,387.6M263.3,384.7L259.7,387.9M265.3,384.2L267.8,387.3M276.3,384.0L273.0,387.4M280.4,384.7L282.8,387.7M286.4,385.1L288.3,387.6M226.3,387.9L230.1,387.6M230.0,388.9L234.9,388.3M235.3,388.1L239.9,388.2M243.7,386.8L240.7,390.6M243.7,387.5L245.8,390.1M249.5,387.3L252.7,390.7M280.1,387.6L282.6,389.5M244.1,390.7L248.8,390.8M252.0,390.0L249.5,392.3M266.5,390.4L264.0,392.6M267.3,390.5L269.3,392.9M271.7,389.0L274.7,391.5M286.7,389.3L284.2,392.1M288.2,389.5L292.0,392.6M293.5,390.5L296.7,390.0M224.5,393.2L229.0,393.6M229.4,392.7L233.4,392.6M239.2,391.7L236.9,394.6M243.4,391.5L245.9,394.0M254.6,391.0L251.6,394.9M276.0,391.3L273.3,394.6M292.7,393.0L295.9,392.7M295.3,392.0L298.7,392.2M245.8,393.6L249.3,397.1M249.7,393.6L252.1,396.1M253.4,393.7L251.2,396.5M256.2,393.3L253.2,395.9M265.6,393.8L262.6,396.1M268.8,394.2L271.3,397.0M278.4,392.6L281.5,396.3M289.5,393.7L287.2,396.4M289.5,394.1L294.0,394.7M292.8,394.5L296.0,397.4M227.3,396.2L224.8,398.7M226.9,396.9L230.5,397.3M235.9,397.6L239.3,397.1M238.7,396.7L241.7,399.8M250.0,398.3L253.7,398.0M255.2,395.1L258.4,398.7M269.4,396.2L266.9,399.0M275.9,396.2L273.7,399.0M283.4,395.5L280.6,398.1M224.9,398.9L227.3,400.8M248.3,398.0L245.5,401.3M254.2,398.0L251.4,401.5M258.2,398.9L261.0,401.5M260.1,399.1L262.5,401.7M269.0,398.2L266.1,401.8M269.0,398.9L272.3,401.6M275.2,399.0L277.7,401.7M277.2,399.2L281.8,398.9M280.3,398.6L282.4,401.4M284.4,396.9L287.3,400.8M294.9,400.2L298.6,400.7M233.3,400.4L236.0,403.1M237.9,401.4L240.6,403.5M243.5,401.5L240.8,403.6M241.6,400.3L244.8,403.2M246.2,399.9L249.1,403.1M248.4,402.0L252.4,402.0M260.5,400.2L263.8,403.0M261.9,401.9L265.5,401.7M269.1,399.8L266.4,403.0M275.9,401.3L279.1,401.2M278.5,402.2L283.2,402.7M282.2,399.8L285.3,402.4M284.7,399.6L287.4,402.7M289.1,400.8L286.7,402.9M228.8,405.0L231.8,404.8M255.1,404.2L258.2,403.9M257.2,403.4L260.1,406.0M267.5,403.2L270.1,405.5M273.6,403.8L276.1,405.8M289.4,402.1L291.6,404.5M290.8,403.4L293.3,405.3M234.3,404.6L236.8,407.5M237.5,406.0L241.2,405.5M242.4,403.6L245.9,407.1M243.8,405.8L246.8,406.0M248.6,405.7L251.8,408.1M262.6,404.2L265.8,407.5M265.6,406.5L269.5,406.8M269.1,404.1L272.1,407.0M286.6,405.3L289.1,407.8M291.0,403.7L287.9,407.6M229.2,406.8L231.9,408.9M241.2,407.8L238.6,409.8M249.0,408.5L252.8,408.8M264.9,407.5L267.6,410.2M274.7,406.7L271.5,410.4M231.6,410.9L235.4,411.1M235.4,408.8L237.8,411.1M241.9,410.0L245.2,412.7M245.6,409.1L248.4,412.0M247.9,409.1L250.2,411.0M248.5,409.0L251.1,411.2M253.8,408.5L250.5,411.3M263.9,409.1L266.7,411.5M273.1,409.9L276.0,412.2M269.2,411.0L271.7,413.1M241.8,413.0L244.8,416.2M245.1,413.8L247.4,416.1M251.5,413.4L248.9,416.5M238.6,415.8L241.2,418.3M240.1,416.0L242.4,419.0M246.4,415.2L250.0,418.1M249.0,417.2L252.7,417.2M247.6,416.9L244.9,420.3M248.6,418.6L251.3,421.6M255.1,419.8L259.6,419.3M243.6,420.8L245.9,423.2M245.8,421.1L250.3,420.6M248.3,421.6L251.7,422.0M251.0,422.5L254.4,425.9M247.6,426.4L252.6,426.2M247.6,427.4L252.0,428.0" stroke="#e8e850" stroke-width="1.4" stroke-linecap="round" fill="none"/>
<path d="M250.1,363.2L252.4,363.4M245.5,367.2L248.1,366.9M258.9,366.0L261.0,367.7M265.7,365.8L267.7,368.3M240.1,368.9L241.9,371.0M252.1,368.4L249.7,371.4M268.9,368.7L271.3,370.6M237.3,371.2L240.2,373.9M253.0,373.5L256.5,373.7M262.7,372.7L264.6,374.7M268.0,371.8L270.0,374.4M239.9,374.2L237.6,377.0M245.8,375.9L248.5,378.1M248.2,375.7L250.1,377.5M255.0,375.7L259.0,375.6M268.7,375.2L266.3,377.8M277.5,373.8L274.8,376.3M280.6,376.5L284.2,376.4M236.4,378.9L238.1,380.3M242.8,378.2L240.5,381.0M284.2,378.4L286.5,380.2M230.7,382.8L232.5,384.4M246.3,383.7L247.5,385.3M250.3,382.7L252.4,384.7M278.9,383.1L277.2,384.7M284.6,382.9L286.9,385.1M289.0,384.0L291.2,385.6M229.8,386.6L231.1,388.3M239.2,384.0L241.7,386.9M273.3,387.5L276.1,387.6M288.1,386.0L289.8,387.4M292.2,386.6L294.0,388.8M231.0,391.4L233.4,391.3M244.6,389.9L242.2,392.8M248.7,390.0L252.6,389.5M252.1,389.5L253.6,391.0M263.1,391.5L265.9,391.4M265.6,388.9L267.8,391.0M279.0,390.3L281.8,393.0M285.1,389.9L288.1,390.2M289.1,389.2L291.1,391.9M294.0,388.2L292.3,390.4M294.1,388.6L295.8,390.2M227.1,391.7L225.4,393.1M232.0,391.5L234.5,393.9M238.1,392.6L240.4,394.5M245.3,392.4L242.4,394.6M244.0,393.0L246.9,392.9M260.5,392.5L262.8,395.0M266.2,391.4L263.9,393.5M273.2,392.1L270.8,394.4M281.5,395.1L283.5,394.9M286.3,392.4L283.8,395.1M286.2,393.6L289.8,393.2M291.3,393.0L292.8,394.4M294.9,392.4L296.9,394.7M228.0,396.5L225.7,399.4M238.3,397.0L242.2,397.3M242.9,397.0L245.2,397.4M247.9,397.6L250.5,399.8M255.4,396.2L257.5,398.1M260.1,397.9L261.7,399.7M274.4,396.0L272.1,397.8M290.6,395.7L293.2,397.8M236.5,398.5L233.8,401.1M240.6,400.5L244.4,400.5M250.7,400.8L248.2,403.6M259.5,399.1L261.2,400.9M266.6,399.3L264.3,401.4M272.2,399.6L269.5,402.4M279.8,399.6L281.9,402.0M287.1,401.3L289.4,403.1M230.9,404.2L233.6,406.7M234.9,402.4L236.6,404.3M242.7,402.4L245.1,404.7M245.6,405.1L249.0,405.3M251.2,403.7L253.9,403.9M259.2,403.2L261.9,405.4M263.4,403.9L267.1,403.5M271.9,404.0L275.6,404.0M278.2,403.3L280.4,405.5M279.3,404.9L281.3,406.6M235.9,408.3L238.3,410.4M241.2,407.1L239.0,409.7M242.0,405.3L244.3,408.2M247.7,405.5L245.5,407.8M248.7,407.6L250.3,409.1M270.0,407.7L273.0,408.1M272.3,408.0L275.7,408.1M238.6,409.1L240.8,411.8M252.9,411.1L256.3,411.1M256.1,410.7L258.5,413.8M265.4,410.7L268.1,413.2M271.6,410.9L269.7,412.4M247.3,418.3L245.6,419.7M241.2,420.3L243.7,423.3M248.4,423.4L250.6,425.6" stroke="#70702a" stroke-width="0.8" stroke-linecap="round" fill="none"/>
<path d="M252.0,362.8L257.6,363.5M242.8,362.4L243.4,367.8M242.8,365.5L249.8,365.0M246.4,365.5L252.7,364.7M256.9,363.5L257.0,367.9M258.9,366.6L265.1,366.0M241.6,368.3L248.5,368.0M246.1,368.2L252.4,367.7M253.3,368.5L256.9,368.7M259.2,368.4L263.9,368.5M268.9,366.3L268.7,371.8M270.0,367.8L277.0,367.3M234.2,372.2L239.6,372.3M260.6,369.2L260.3,372.3M260.1,371.7L267.0,371.6M274.0,372.0L279.0,371.8M237.5,370.3L236.9,376.1M237.1,374.0L243.7,374.6M241.2,375.5L245.1,375.2M247.8,375.6L251.6,375.2M265.8,375.0L270.3,374.8M265.7,374.4L272.0,374.9M273.3,374.1L279.5,374.5M278.9,371.6L278.7,377.1M240.6,376.7L246.1,376.8M252.7,373.6L252.3,379.2M256.1,376.6L261.9,377.2M262.5,377.3L267.1,377.1M268.4,377.4L275.2,376.4M278.4,373.4L278.8,378.9M281.7,376.9L286.5,376.9M232.5,380.2L237.3,380.4M233.4,379.6L239.6,380.1M249.5,380.4L254.7,380.1M256.2,380.1L259.3,380.0M274.1,378.9L277.9,379.3M277.2,380.0L281.7,380.5M279.7,379.4L283.9,379.4M237.2,382.7L237.3,385.7M243.0,383.9L248.5,383.3M247.7,380.3L248.0,386.3M249.7,383.2L253.1,383.6M251.7,383.4L256.6,383.1M258.5,383.4L262.1,383.6M263.0,383.8L266.1,383.7M267.8,380.1L268.0,385.6M270.1,383.7L274.9,383.8M275.3,383.5L280.4,383.8M281.3,380.4L281.9,384.3M283.7,383.8L287.6,383.9M291.1,384.3L296.1,384.1M226.4,387.4L230.5,387.2M228.4,385.4L233.0,386.0M239.5,383.8L240.0,388.1M252.4,383.6L252.9,388.2M255.6,385.0L260.8,385.2M260.6,386.5L266.6,386.7M265.9,382.8L266.2,388.7M268.8,387.0L271.8,386.8M270.7,387.3L274.3,387.1M285.6,382.8L286.1,387.9M229.4,386.2L228.8,391.5M233.3,390.0L236.8,390.2M236.1,389.6L242.3,389.4M239.9,390.3L243.6,390.0M244.9,390.4L249.2,389.9M253.7,389.5L256.8,389.7M258.4,389.5L262.9,389.9M269.4,389.9L274.4,389.3M274.4,388.2L278.9,388.3M278.1,389.9L281.1,390.2M288.5,390.0L291.8,389.6M290.5,389.7L296.0,389.7M224.3,392.6L231.2,391.9M229.5,392.6L233.2,392.8M234.8,392.1L239.5,392.4M237.3,393.7L243.3,393.0M260.4,393.1L267.4,392.6M276.6,391.1L280.8,391.0M283.9,391.7L284.2,394.8M284.0,392.4L290.3,392.0M291.6,389.0L290.7,395.4M229.1,393.4L228.9,397.6M228.1,394.9L233.8,394.7M230.9,395.0L234.8,395.2M252.7,396.3L256.2,395.9M259.6,394.0L263.3,394.3M262.0,394.3L267.5,394.0M268.8,396.1L275.5,395.8M275.2,396.1L281.5,395.7M292.8,391.7L293.1,397.6M296.4,391.9L296.6,396.2M220.3,398.0L225.1,397.8M225.0,398.8L230.0,398.8M227.1,397.0L233.0,397.5M237.1,398.0L243.4,397.9M241.9,399.3L245.1,398.9M250.1,397.2L249.8,401.4M254.1,398.5L259.5,398.3M267.6,396.2L268.1,401.4M270.2,394.3L270.9,400.9M276.5,397.1L276.2,400.6M282.9,398.1L288.4,397.6M287.7,395.4L287.2,399.7M291.4,395.1L291.4,401.1M294.3,397.1L297.4,397.4M220.3,401.0L225.6,400.4M221.0,400.7L227.5,400.3M227.6,398.3L227.2,401.9M244.6,399.4L245.2,403.9M247.2,401.1L250.3,401.2M250.4,401.5L254.4,402.0M254.3,398.3L254.2,403.9M257.2,400.3L263.5,400.1M264.2,398.5L264.7,404.1M274.9,397.3L275.0,404.0M280.3,400.1L285.8,400.6M231.1,402.8L230.8,407.2M230.4,404.4L236.1,404.7M237.5,404.6L241.3,405.1M239.9,403.3L243.6,402.8M244.7,404.1L249.3,403.9M249.4,404.5L254.3,404.5M254.8,403.9L260.5,404.7M262.8,403.1L266.2,403.3M263.3,405.0L270.3,404.6M267.5,403.8L271.0,404.2M269.2,403.6L274.5,403.3M276.2,403.3L280.6,403.5M278.1,403.9L284.2,404.4M289.8,405.2L293.5,405.4M227.3,406.2L234.1,406.1M233.1,408.0L236.7,408.2M241.2,406.5L245.0,406.1M251.0,404.8L250.4,411.4M253.5,407.3L257.1,407.0M261.0,406.6L260.7,410.2M262.0,407.7L267.9,408.3M283.1,405.9L286.4,406.2M240.2,409.8L244.4,409.5M244.8,410.3L249.0,410.4M252.8,410.9L258.5,410.4M258.7,410.8L264.9,410.3M265.9,410.2L269.9,410.0M268.8,411.1L272.5,411.6M276.0,406.5L275.8,413.5M235.5,414.2L239.5,414.3M240.8,413.1L244.4,413.5M242.5,413.8L247.3,414.3M257.2,409.8L258.1,416.3M256.9,413.8L263.4,413.5M240.6,415.3L243.8,414.9M243.3,416.7L246.6,416.6M249.5,415.9L252.8,416.0M252.6,416.0L256.2,416.3M249.5,420.0L252.7,420.1M255.2,418.9L260.1,418.5M242.9,422.0L248.3,422.2M250.3,422.5L255.3,423.2M249.6,422.7L249.6,429.0" stroke="#ffffff" stroke-width="0.7" stroke-linecap="round" fill="none"/>
<path d="M227.4,335.0 L237.4,333.0 L252.3,333.7 L253.6,340.0 L257.3,345.0 L249.9,350.0 L242.4,347.4 L234.9,341.2Z" fill="#5e5e40"/>
<path d="M239.3,331.0L238.7,335.6M237.9,333.2L242.5,333.6M243.7,332.4L246.1,334.4M233.0,332.6L230.0,336.2M235.4,334.2L232.4,337.9M249.5,332.9L249.7,336.8M230.6,337.7L233.6,337.4M239.7,337.4L243.0,337.0M253.7,335.5L250.4,338.8M235.9,337.5L236.6,342.4M238.6,339.4L243.0,339.8M246.4,338.6L249.7,342.0M249.9,338.2L252.7,340.4M238.7,340.8L238.5,344.0M239.0,341.5L243.6,340.9M245.6,341.3L243.7,343.7M244.9,339.5L248.7,342.5M239.0,342.6L241.8,345.7M250.4,342.4L252.5,345.0M253.1,343.7L257.8,343.7M242.8,344.7L242.7,348.6M249.5,344.8L249.3,349.2M244.4,345.8L245.0,350.6M248.4,346.6L251.1,348.8" stroke="#96966a" stroke-width="1.4" stroke-linecap="round" fill="none"/>
<path d="M229.0,333.4L229.5,337.7M234.2,335.9L239.1,335.2M236.7,335.4L241.7,334.7M237.7,335.4L242.5,335.3M237.8,336.1L237.4,340.4M245.8,336.2L243.3,339.1M245.0,336.3L248.9,339.4M250.3,336.3L249.8,339.8M231.7,340.7L236.7,340.2M240.4,337.7L237.5,341.2M241.4,338.4L244.4,340.7M244.0,336.9L244.2,341.8M251.2,340.1L253.5,342.6M251.5,341.9L256.0,342.5M242.7,343.6L245.9,343.3M247.7,342.3L245.7,344.8M247.9,342.0L250.1,344.6M252.9,343.6L256.4,344.0M244.2,344.4L244.7,349.3M250.9,344.9L253.6,347.6M248.5,347.6L245.4,350.1" stroke="#8a8a60" stroke-width="1.4" stroke-linecap="round" fill="none"/>
<path d="M241.6,334.4L244.5,336.8M244.5,332.2L244.4,336.9M246.7,334.1L249.5,336.8M253.6,334.6L249.9,337.5M233.5,334.9L233.5,338.1M237.2,334.3L236.8,338.8M240.5,337.5L243.6,337.8M248.2,339.1L250.6,341.9M235.0,339.6L237.1,342.3M243.7,339.5L243.1,344.2M247.0,342.3L250.2,342.4M241.2,343.9L245.0,344.1M248.5,343.9L245.7,347.2M251.1,345.7L255.6,345.9" stroke="#7e7e56" stroke-width="1.4" stroke-linecap="round" fill="none"/>
<path d="M236.0,336.1L238.2,336.4M244.6,335.4L246.9,338.0M239.8,340.6L241.9,340.6M245.2,337.2L242.9,340.1M246.4,339.1L248.9,338.9M243.4,341.3L241.2,343.0M244.7,341.2L247.1,343.7M239.6,346.1L242.4,345.8M246.7,344.9L244.5,346.8M249.1,345.3L249.4,347.8" stroke="#404028" stroke-width="0.8" stroke-linecap="round" fill="none"/>
<path d="M237.6,333.2L243.1,333.5M230.6,336.3L235.2,336.3M233.2,336.3L237.3,336.2M238.4,334.7L238.4,338.3M244.5,335.5L248.7,335.9M248.8,333.7L249.1,338.6M230.4,337.8L236.5,338.4M242.2,336.5L241.5,343.2M246.7,338.1L250.3,337.8M249.0,338.6L254.3,338.4M235.6,339.6L236.0,344.2M237.7,342.7L242.3,343.0M238.6,342.3L245.4,342.6M243.0,341.6L247.2,341.9M239.9,345.9L244.2,345.7M246.2,342.8L246.1,348.7M245.8,345.3L251.2,345.2M247.9,344.4L254.4,344.8M243.5,346.8L249.7,346.9M248.5,347.0L255.3,347.9" stroke="#ffffff" stroke-width="0.7" stroke-linecap="round" fill="none"/>
<path d="M308.4,375.0 L317.1,378.7 L322.1,384.9 L329.6,388.7 L330.8,407.4 L319.6,411.1 L304.6,408.6 L302.2,397.4 L303.4,387.4 L307.1,381.2Z" fill="#5e5e40"/>
<path d="M308.8,373.4L309.2,377.7M312.1,377.6L308.6,380.5M315.1,378.1L318.3,381.9M310.8,382.1L314.2,382.3M314.1,380.2L316.4,383.2M306.6,383.7L311.2,383.6M312.2,382.1L309.9,384.3M315.1,383.2L319.2,383.3M306.4,386.4L310.1,385.9M311.9,384.2L309.0,387.0M313.8,385.3L311.4,387.5M314.4,384.6L317.1,387.7M305.1,387.1L302.8,389.4M306.2,388.8L309.8,389.2M319.5,386.9L319.2,391.0M323.7,385.5L323.8,389.5M301.2,390.7L305.8,390.3M306.0,387.6L306.6,391.9M311.3,389.1L311.2,393.3M319.8,389.0L319.6,392.5M321.3,388.6L324.1,391.6M322.3,388.8L325.6,392.5M310.0,390.8L312.4,393.4M315.9,390.3L315.5,393.7M323.9,391.2L323.7,394.6M304.3,392.4L305.0,397.3M311.8,393.3L311.7,396.7M312.3,392.8L315.1,395.3M316.2,394.6L320.2,394.9M322.4,392.8L322.7,396.0M305.7,395.9L302.4,399.1M308.6,395.3L308.2,399.2M315.3,394.7L318.3,398.3M317.5,396.1L320.6,396.2M304.3,399.0L307.5,398.9M306.7,399.5L309.7,399.7M311.0,396.2L311.0,400.7M331.7,398.0L328.8,400.6M303.7,399.5L304.1,404.4M305.0,400.8L308.4,403.6M318.4,399.1L318.1,403.9M322.4,400.6L326.1,403.7M310.9,401.5L314.2,404.3M326.5,403.2L331.1,403.5M307.8,405.0L305.7,407.7M308.1,405.3L312.8,404.6M312.3,405.6L315.6,405.7M315.4,404.1L318.1,406.5M322.8,403.5L322.5,406.5M326.5,404.7L323.5,407.1M326.5,403.3L326.7,407.8M326.9,406.4L331.5,406.8M319.8,405.8L316.5,409.4M328.1,406.1L331.9,409.0" stroke="#96966a" stroke-width="1.4" stroke-linecap="round" fill="none"/>
<path d="M310.8,375.8L307.8,378.1M314.9,377.6L314.9,380.7M308.2,380.4L305.5,383.8M306.6,381.8L310.3,381.5M305.7,382.6L308.6,386.4M303.6,384.3L306.8,387.2M303.9,386.2L307.7,386.6M315.6,386.5L320.4,386.6M306.2,385.3L306.5,390.0M311.5,388.6L315.5,389.0M314.8,387.2L317.0,389.8M320.3,388.3L324.8,388.8M326.1,388.3L330.9,388.8M307.1,390.2L310.6,390.4M313.5,389.2L313.8,393.2M316.0,390.8L320.4,391.0M305.6,391.5L303.2,393.8M305.2,393.2L309.2,393.2M309.5,391.5L306.5,394.2M315.1,393.6L319.2,393.2M323.4,393.5L328.3,393.3M327.9,390.9L328.3,395.0M305.7,394.2L308.4,396.4M318.7,393.9L322.2,394.1M325.9,394.2L322.9,397.1M325.1,394.3L328.6,394.0M327.0,395.2L330.3,395.6M306.5,394.6L306.0,398.2M323.3,395.1L320.9,397.7M322.7,397.0L327.4,396.9M325.4,396.2L328.4,398.6M303.4,396.8L306.6,400.3M311.0,400.1L314.5,400.0M317.6,397.4L314.8,400.4M321.4,397.5L318.8,399.7M326.7,397.7L327.0,401.8M326.1,399.8L329.8,400.1M317.7,400.3L314.2,403.4M322.2,399.6L322.5,404.0M304.9,402.2L304.8,405.6M305.8,403.8L310.7,403.7M311.5,401.8L309.3,404.1M313.2,402.9L316.2,405.8M315.4,404.2L319.2,403.9M321.4,401.8L319.1,404.3M322.5,402.9L324.6,405.3M304.7,403.8L305.2,408.6M313.0,404.4L316.2,407.5M319.0,403.8L322.2,406.6M310.1,406.2L307.3,409.0M317.2,408.5L321.3,408.3M326.6,407.8L330.4,407.3M310.4,409.7L314.7,409.8M321.3,408.1L321.1,412.7" stroke="#7e7e56" stroke-width="1.4" stroke-linecap="round" fill="none"/>
<path d="M309.2,376.3L311.2,378.8M309.2,378.0L309.4,381.4M310.8,379.4L314.9,379.3M308.5,380.5L312.1,381.0M315.7,380.4L318.3,383.3M314.2,382.1L311.9,384.0M315.7,382.4L315.7,385.8M318.1,383.4L322.8,383.4M322.4,382.4L319.8,385.8M318.7,384.1L319.3,388.9M321.4,384.3L321.5,387.5M322.3,385.4L325.1,388.1M309.7,387.9L312.4,390.2M314.8,388.4L318.9,388.0M327.0,387.5L324.9,389.8M314.1,390.2L317.1,389.9M327.1,389.7L324.3,392.7M330.3,389.4L327.1,393.1M315.0,391.1L312.3,393.7M319.6,391.2L319.3,394.5M320.9,390.4L324.4,393.7M307.6,393.7L310.5,397.3M313.0,395.5L316.4,395.3M311.8,395.6L311.3,399.6M312.2,397.3L315.9,397.8M314.2,396.1L318.0,396.2M328.2,396.1L330.7,398.6M315.7,399.5L319.7,399.7M320.2,398.2L322.7,400.4M324.9,398.9L322.2,401.1M307.5,402.1L310.5,402.0M311.7,399.6L308.7,402.2M311.1,402.3L315.3,401.9M321.4,400.7L318.6,403.7M327.1,399.4L327.4,402.5M326.4,400.6L330.2,403.5M308.5,401.3L304.7,404.3M321.3,400.9L321.0,405.2M326.5,401.3L325.9,406.0M309.6,405.1L306.9,408.1M307.5,405.9L304.3,409.0M308.7,406.1L311.6,408.5M312.7,406.3L315.1,408.3M315.0,405.1L315.5,409.5M323.6,406.2L321.0,409.6M322.0,407.6L326.6,407.8M318.7,408.6L321.3,411.0" stroke="#8a8a60" stroke-width="1.4" stroke-linecap="round" fill="none"/>
<path d="M321.7,386.7L324.7,386.7M304.2,388.7L307.5,389.0M308.3,387.1L310.5,389.9M320.2,388.4L317.3,391.1M321.9,388.5L323.3,390.2M324.1,389.0L327.2,388.7M314.0,391.6L312.5,393.0M320.3,392.6L320.6,395.2M321.9,391.6L321.8,393.9M311.5,394.0L309.3,396.0M311.2,396.3L313.8,396.7M326.2,393.8L328.8,396.1M306.8,396.3L306.6,400.1M307.3,397.5L309.0,399.5M313.5,399.3L310.7,401.7M317.5,399.4L317.4,402.4M324.6,397.2L326.6,399.5M313.8,402.2L311.1,404.9M319.6,401.9L321.8,401.7M329.1,400.8L326.9,402.8M311.5,406.2L312.9,407.7M326.1,405.9L323.5,408.6M325.4,406.5L325.5,408.6M313.2,408.2L312.9,411.8M320.4,409.7L323.6,410.1" stroke="#404028" stroke-width="0.8" stroke-linecap="round" fill="none"/>
<path d="M308.8,376.7L308.8,381.6M312.7,383.8L316.4,383.4M308.9,383.7L308.6,390.2M309.6,386.6L314.7,386.7M312.4,388.2L318.2,387.4M319.2,386.5L325.9,386.5M300.5,389.7L306.2,389.3M324.5,387.5L324.1,392.6M311.8,389.3L311.5,395.5M315.6,393.4L319.5,393.0M300.1,395.5L306.3,394.9M308.1,392.5L307.7,399.2M307.8,395.1L312.3,394.9M317.8,396.9L323.9,396.4M323.7,395.1L329.6,395.0M307.7,397.6L307.8,402.3M323.5,402.2L328.3,402.3M324.7,402.3L331.4,402.2M304.7,404.1L311.1,404.9M318.5,404.8L321.8,404.6M324.2,403.1L324.3,406.6M303.5,407.8L308.4,407.5M307.3,405.0L306.7,411.4M313.5,406.6L319.8,407.2M314.8,410.2L320.9,409.5" stroke="#ffffff" stroke-width="0.7" stroke-linecap="round" fill="none"/>
<path d="M229.9,432.3 L237.4,429.8 L247.4,436.0 L256.1,442.2 L261.1,452.2 L247.4,454.7 L223.7,453.4 L223.7,444.7 L226.2,437.3Z" fill="#5e5e40"/>
<path d="M229.0,431.6L231.5,433.5M239.1,430.9L235.7,434.3M235.5,434.4L239.9,434.6M239.5,435.1L243.8,435.1M242.1,433.4L245.9,436.5M228.9,435.3L232.3,438.0M237.8,437.0L242.0,437.6M240.8,434.7L241.2,439.0M242.0,434.1L244.6,437.0M229.9,435.2L230.2,440.2M248.4,439.2L251.5,439.1M226.8,438.5L230.2,441.9M232.6,438.3L232.5,442.7M234.0,439.6L236.1,441.9M235.5,441.0L239.8,440.5M237.3,440.0L241.3,440.3M238.8,441.7L243.1,441.3M245.0,440.0L245.0,443.2M246.3,439.8L250.0,442.7M229.4,441.9L226.2,445.2M230.2,441.5L233.6,444.8M234.9,441.9L238.1,445.3M242.7,441.6L239.9,443.9M245.9,442.0L245.7,445.1M250.7,441.5L250.5,445.2M238.2,443.2L235.6,445.5M242.3,443.5L241.7,448.0M252.2,443.6L249.5,446.1M252.3,444.7L254.9,447.0M227.9,445.4L225.3,448.4M231.0,446.5L230.8,449.8M235.9,447.6L240.6,447.3M242.6,445.1L239.8,448.4M242.8,444.7L242.4,449.3M233.8,449.1L236.5,451.2M242.8,448.3L239.5,451.7M244.1,447.8L246.0,450.1M250.9,447.6L251.0,452.1M251.8,448.5L251.6,452.1M223.2,449.8L225.6,452.2M226.1,449.3L226.3,453.3M230.5,449.9L233.9,453.4M241.8,451.9L245.8,451.4M249.1,451.0L246.3,453.5M252.7,449.8L255.1,452.6M234.4,452.0L234.2,455.4M243.8,453.7L247.7,454.2M251.6,452.8L249.1,455.5" stroke="#96966a" stroke-width="1.4" stroke-linecap="round" fill="none"/>
<path d="M229.6,431.6L233.8,431.8M239.0,432.4L242.6,432.4M239.6,431.7L239.4,436.3M237.2,435.7L237.0,438.8M235.4,436.7L235.6,441.3M237.3,438.0L234.9,440.0M240.3,436.3L237.4,439.1M241.6,437.9L239.2,440.7M246.4,438.8L250.2,439.3M229.3,439.8L232.1,442.5M240.8,439.9L245.0,440.1M249.6,439.8L254.0,440.2M223.4,442.9L226.9,442.5M233.3,442.4L237.4,442.0M237.3,441.9L239.7,444.3M244.9,442.3L241.9,444.6M253.2,441.3L250.2,443.6M229.1,444.2L226.4,447.4M230.7,443.5L230.1,448.0M231.5,445.6L234.9,445.4M244.3,445.0L247.4,445.4M254.0,443.6L251.7,446.4M245.0,445.5L248.0,447.8M251.5,446.5L254.2,449.2M222.4,449.1L226.7,449.6M226.3,448.5L230.3,448.9M228.3,448.2L231.0,450.8M234.7,448.3L231.8,451.1M240.9,448.8L245.9,449.5M255.8,446.5L256.3,451.1M235.0,449.2L234.7,453.3M237.0,451.0L239.5,453.0M251.4,450.6L251.7,454.0M240.1,452.4L237.7,454.8M243.3,452.5L240.6,455.7M242.6,452.3L242.8,455.3" stroke="#8a8a60" stroke-width="1.4" stroke-linecap="round" fill="none"/>
<path d="M234.6,429.4L234.7,433.9M241.2,431.1L238.3,434.6M230.1,432.7L229.9,436.7M231.6,431.8L235.1,435.2M235.6,432.0L235.4,435.0M227.6,434.2L227.5,437.3M230.7,435.6L233.5,437.9M232.5,436.0L235.5,436.0M244.4,435.7L247.3,438.7M226.6,437.9L229.4,440.3M230.8,436.7L233.1,439.1M244.9,436.4L242.5,439.1M243.5,439.7L248.1,439.2M224.3,438.4L227.7,442.0M248.6,439.8L251.9,442.5M229.9,441.1L232.1,443.5M245.7,442.1L249.4,442.3M251.5,443.6L256.0,444.1M254.7,443.5L258.2,443.1M224.3,445.3L229.1,445.5M235.7,442.8L235.4,445.9M241.1,444.0L238.6,446.6M244.3,442.6L244.4,447.6M245.7,443.4L248.6,446.4M256.1,443.6L255.9,447.9M226.5,447.2L228.7,449.3M231.9,446.5L231.6,449.8M235.9,446.3L232.7,449.9M235.2,447.5L239.2,447.9M246.3,447.8L249.4,447.6M248.6,446.6L252.8,447.1M255.4,444.7L255.1,449.0M255.1,446.8L259.3,446.9M223.4,449.6L227.2,450.1M233.9,449.2L238.6,449.7M240.6,448.8L238.2,450.9M245.3,448.8L249.6,449.1M252.1,450.6L256.0,450.1M258.2,447.9L257.9,452.0M227.3,450.9L229.7,453.7M228.8,450.2L232.3,452.9M238.3,449.8L235.5,452.0M243.4,450.5L240.7,453.3M243.6,452.0L247.8,451.6M249.6,450.0L250.0,454.8M257.2,449.3L257.3,453.5M258.0,449.2L258.2,453.1" stroke="#7e7e56" stroke-width="1.4" stroke-linecap="round" fill="none"/>
<path d="M236.9,430.8L239.8,430.9M234.2,431.8L232.9,433.4M236.5,431.9L236.7,434.6M225.3,436.8L227.0,438.3M231.3,435.2L229.1,437.8M244.1,435.2L244.1,437.7M229.1,438.5L227.5,440.3M230.5,438.5L228.1,440.6M245.8,439.5L248.5,442.2M224.7,443.4L224.7,447.0M230.4,444.6L232.6,444.7M231.6,441.4L234.0,443.4M236.0,441.9L237.9,444.1M240.4,442.3L243.2,445.0M249.5,443.1L251.6,443.3M255.1,443.1L257.6,442.7M227.3,445.9L229.6,446.0M231.5,447.4L228.7,449.7M240.3,447.2L238.1,449.6M244.7,446.4L247.5,446.5M250.6,447.6L252.1,449.4M253.8,448.0L256.3,448.3M224.2,451.1L225.9,452.5M255.0,452.2L257.2,452.0M258.7,451.8L261.8,451.5M224.8,452.2L224.7,454.6M230.1,453.7L233.5,453.4M244.0,454.1L246.1,453.8" stroke="#404028" stroke-width="0.8" stroke-linecap="round" fill="none"/>
<path d="M236.3,433.2L240.9,433.4M225.5,436.8L231.9,436.5M230.5,436.6L235.0,437.0M234.3,437.0L237.3,437.0M243.4,433.2L243.6,439.9M226.2,437.4L225.9,441.0M232.8,439.8L238.7,439.2M246.9,437.4L247.0,441.3M244.4,440.8L250.7,441.5M251.5,439.6L250.8,445.8M225.9,446.2L231.6,445.7M236.8,442.1L236.3,448.6M244.1,444.6L247.2,444.9M246.7,445.2L252.8,445.1M245.0,447.0L249.7,447.3M253.6,445.4L253.5,450.8M234.0,451.4L238.8,451.9M239.1,452.2L244.4,451.8M244.3,450.2L251.2,450.9M253.1,451.7L258.2,451.5M232.9,451.2L233.3,456.6M240.1,453.4L243.1,453.6" stroke="#ffffff" stroke-width="0.7" stroke-linecap="round" fill="none"/>
<path d="M306.0,340.0 L312.0,336.0 L322.0,334.0 L332.5,333.0 L333.0,345.0 L322.0,350.0 L313.0,352.0 L308.0,350.0Z" fill="#3c3c44"/>
<path d="M331.8,330.9L327.4,336.2M320.0,333.5L316.7,337.1M323.2,333.3L320.0,337.0M325.6,333.8L322.9,336.7M328.3,333.0L324.3,337.6M332.3,333.7L329.2,336.8M314.9,334.4L311.4,338.2M320.5,334.9L317.5,338.5M321.8,334.9L319.1,338.1M324.3,334.2L320.0,337.8M326.9,335.2L323.9,338.4M330.1,334.4L326.1,339.4M333.7,334.5L328.6,338.4M312.2,335.8L307.9,341.3M313.5,335.8L309.8,340.1M315.1,335.7L311.3,340.5M322.1,336.3L319.3,339.6M330.6,336.0L325.3,340.1M330.6,337.2L327.2,340.2M311.8,337.9L307.3,341.4M313.5,338.4L308.6,342.7M315.9,338.6L313.0,342.4M319.2,338.6L315.2,343.0M321.0,337.9L316.7,341.4M321.4,338.1L318.3,341.9M325.4,338.4L321.8,341.9M331.5,338.4L328.0,341.4M332.9,337.9L328.5,342.0M313.1,340.4L308.7,344.5M317.5,339.4L313.6,343.4M321.0,340.1L316.6,343.8M322.5,340.3L318.4,343.9M331.5,340.6L327.9,344.0M333.6,339.8L328.8,343.5M309.3,342.2L305.8,345.3M311.6,341.9L307.9,344.7M314.0,341.7L309.0,345.6M318.9,342.1L315.1,346.3M320.7,341.8L317.3,346.1M325.7,342.6L323.1,345.7M327.0,342.6L323.7,345.8M329.4,341.9L326.3,345.1M330.4,343.0L327.3,345.6M332.4,342.6L329.7,345.8M309.8,343.6L306.1,346.5M310.6,344.1L307.5,347.0M317.3,344.2L312.3,348.0M320.4,342.6L316.1,347.5M326.7,343.3L321.9,347.8M329.4,344.3L325.5,347.3M330.9,343.2L327.3,347.7M311.8,346.0L308.1,349.8M313.8,345.5L310.0,349.3M316.4,345.7L313.1,349.9M321.1,345.0L316.2,349.8M321.6,346.1L318.5,349.8M327.4,345.4L323.6,348.9M328.8,345.2L325.2,349.6M311.8,347.2L308.0,351.4M313.8,347.7L310.1,351.6M315.2,347.4L310.1,352.0M316.4,347.8L313.5,351.5" stroke="#58585e" stroke-width="1.1" stroke-linecap="round" fill="none"/>
<path d="M332.9,331.6L329.2,335.0M322.8,332.3L318.2,336.9M330.1,332.6L325.5,336.9M331.1,332.8L328.2,336.3M316.8,334.5L312.7,339.6M318.6,334.0L314.1,339.3M325.6,334.7L322.1,337.7M330.9,335.1L327.5,338.5M317.5,336.0L312.6,340.6M318.3,337.2L314.8,340.6M320.3,336.6L316.1,341.2M324.4,336.6L319.9,340.4M326.3,335.7L321.7,340.4M327.9,336.9L324.3,340.0M333.8,335.9L329.2,341.1M309.8,338.4L304.7,342.7M315.5,337.7L311.5,342.6M324.6,338.7L320.8,342.8M327.1,339.2L324.2,342.0M329.3,338.3L324.9,342.4M309.6,339.1L304.8,344.1M311.8,339.8L308.4,343.7M314.5,340.5L311.5,344.4M317.9,339.6L314.5,343.6M324.8,339.5L319.8,343.8M326.0,340.2L322.6,343.5M327.8,339.7L322.9,344.3M330.4,340.5L325.5,344.6M315.9,341.2L310.9,345.6M316.4,341.5L313.5,345.3M321.3,342.0L318.7,345.1M324.4,342.6L321.2,345.9M312.9,343.4L309.1,346.8M315.4,344.3L311.9,347.3M318.4,344.2L315.4,347.2M321.3,343.6L318.7,346.7M325.0,342.8L320.0,347.5M328.0,344.0L324.1,347.0M332.3,343.2L329.2,347.0M310.0,345.0L306.3,349.3M315.6,345.2L310.6,350.0M319.3,346.0L314.1,349.9M324.2,346.0L319.4,349.9M325.9,345.0L323.1,348.7M310.5,346.9L305.7,350.6M319.0,346.8L314.7,350.6M320.2,347.6L317.0,351.4M322.3,347.7L319.2,351.1M323.6,346.8L319.7,351.2M312.9,349.6L310.1,353.0M314.9,348.7L311.5,352.3M317.5,348.1L312.8,353.2M317.8,349.3L314.7,352.2M319.7,349.2L316.5,351.9" stroke="#4c4c54" stroke-width="1.1" stroke-linecap="round" fill="none"/>
<path d="M322.2,334.6L318.9,338.0M311.4,338.0L308.2,342.0M319.3,341.7L314.6,346.0M323.6,340.5L316.8,346.2M311.1,345.2L307.6,348.0M322.1,345.7L318.6,348.7M326.0,344.2L321.1,349.7" stroke="#9a9aa0" stroke-width="0.5" stroke-linecap="round" fill="none"/>
<path d="M322.2,442.1L318.4,446.7M318.9,443.5L323.7,444.0M318.5,445.3L314.6,448.7M323.8,445.2L320.8,448.0M321.3,445.9L325.9,445.4M308.9,449.2L312.0,449.2M310.9,448.7L314.5,449.1M312.8,448.0L318.1,447.6M318.7,447.7L323.8,447.5M322.5,449.1L326.0,449.3M327.2,447.1L324.5,450.4M315.1,448.3L311.4,451.8M314.3,449.1L318.5,449.5M320.1,449.3L317.2,451.4M323.5,448.5L320.6,451.1M321.7,450.3L325.1,450.7M323.9,449.2L327.2,449.3M327.9,449.8L331.4,450.2M305.2,453.0L310.2,453.5M311.2,450.8L308.9,452.7M312.1,452.4L315.5,452.7M313.6,453.7L318.0,453.5M315.4,453.3L320.7,453.9M317.8,451.8L323.1,451.8M324.8,452.1L328.2,452.0M327.1,452.7L332.4,452.1M328.6,451.8L331.7,451.7" stroke="#14163a" stroke-width="1.8" stroke-linecap="round" fill="none"/>
<path d="M322.2,442.1L318.4,446.7M308.9,449.2L312.0,449.2M310.9,448.7L314.5,449.1M320.1,449.3L317.2,451.4M323.5,448.5L320.6,451.1M321.7,450.3L325.1,450.7M312.1,452.4L315.5,452.7M313.6,453.7L318.0,453.5M324.8,452.1L328.2,452.0" stroke="#2e3068" stroke-width="1.3" stroke-linecap="round" fill="none"/>
<path d="M318.9,443.5L323.7,444.0M323.8,445.2L320.8,448.0M327.2,447.1L324.5,450.4M323.9,449.2L327.2,449.3M305.2,453.0L310.2,453.5" stroke="#1c1e50" stroke-width="1.3" stroke-linecap="round" fill="none"/>
<path d="M318.5,445.3L314.6,448.7M321.3,445.9L325.9,445.4M312.8,448.0L318.1,447.6M318.7,447.7L323.8,447.5M322.5,449.1L326.0,449.3M315.1,448.3L311.4,451.8M314.3,449.1L318.5,449.5M327.9,449.8L331.4,450.2M311.2,450.8L308.9,452.7M315.4,453.3L320.7,453.9M317.8,451.8L323.1,451.8M327.1,452.7L332.4,452.1M328.6,451.8L331.7,451.7" stroke="#23265c" stroke-width="1.3" stroke-linecap="round" fill="none"/>
<path d="M297.8,442.6L301.0,442.6M296.6,442.9L296.8,446.2M297.8,442.5L300.5,445.3M295.8,446.5L299.1,446.6" stroke="#14163a" stroke-width="1.8" stroke-linecap="round" fill="none"/>
<path d="M297.8,442.6L301.0,442.6M296.6,442.9L296.8,446.2M297.8,442.5L300.5,445.3M295.8,446.5L299.1,446.6" stroke="#23265c" stroke-width="1.3" stroke-linecap="round" fill="none"/>
<path d="M227.0,352.9L229.9,356.5M226.7,354.4L226.5,357.4M227.9,356.1L232.4,356.2M225.9,356.7L228.9,359.9M229.6,356.4L229.5,360.3M229.1,359.6L233.7,359.2M223.8,359.3L226.4,361.4M223.8,360.2L228.5,360.4M229.5,358.4L229.2,362.3M231.0,360.1L233.6,362.6M230.3,360.3L230.9,364.8" stroke="#14163a" stroke-width="1.8" stroke-linecap="round" fill="none"/>
<path d="M227.0,352.9L229.9,356.5M226.7,354.4L226.5,357.4M223.8,359.3L226.4,361.4M231.0,360.1L233.6,362.6" stroke="#2e3068" stroke-width="1.3" stroke-linecap="round" fill="none"/>
<path d="M227.9,356.1L232.4,356.2M225.9,356.7L228.9,359.9M229.1,359.6L233.7,359.2M223.8,360.2L228.5,360.4" stroke="#23265c" stroke-width="1.3" stroke-linecap="round" fill="none"/>
<path d="M229.6,356.4L229.5,360.3M229.5,358.4L229.2,362.3M230.3,360.3L230.9,364.8" stroke="#1c1e50" stroke-width="1.3" stroke-linecap="round" fill="none"/>
<path d="M371.0,387.2 L377.1,385.2 L385.1,380.1 L389.1,371.1 L401.2,364.1 L417.3,363.0 L425.4,368.1 L429.4,375.1 L437.4,379.1 L445.5,383.2 L453.5,388.2 L459.5,392.2 L457.5,397.2 L455.5,407.3 L451.5,417.4 L447.5,425.4 L441.4,433.5 L429.4,429.4 L425.4,421.4 L423.3,411.3 L415.3,407.3 L405.2,405.3 L393.2,409.3 L383.1,415.3 L375.1,417.4 L369.0,411.3 L370.0,395.2Z" fill="#b8b844"/>
<path d="M413.4,363.7L416.7,363.8M405.1,364.4L402.6,366.8M406.2,365.0L410.3,364.5M422.7,364.9L420.4,367.2M394.5,366.4L397.8,369.4M398.8,366.3L401.7,368.9M401.1,367.3L405.7,367.6M409.4,366.5L406.5,369.3M418.4,365.2L422.0,368.4M422.7,364.9L419.7,368.1M392.9,369.3L396.6,368.9M404.6,368.6L402.3,370.8M413.1,369.7L417.0,369.7M425.2,367.9L422.8,369.8M394.8,370.0L391.8,372.3M396.4,369.6L393.7,372.5M399.2,371.1L396.9,373.1M401.3,370.1L403.6,372.9M402.2,369.7L405.5,372.6M406.2,372.4L410.0,372.5M409.2,370.8L413.8,371.1M411.3,371.1L415.9,371.0M424.9,372.2L427.9,372.6M388.3,373.2L392.4,373.6M391.4,374.8L394.4,374.8M399.1,372.0L401.8,374.8M405.9,374.5L410.2,374.3M414.0,371.8L411.5,374.4M419.8,374.6L424.4,375.1M393.6,376.4L398.5,376.8M400.1,374.8L397.8,377.6M400.0,376.3L404.4,375.9M420.8,376.2L425.7,376.5M428.8,375.0L431.6,377.8M388.1,378.2L392.6,377.8M394.5,376.7L397.8,380.3M405.8,376.8L402.6,380.0M404.3,378.9L409.2,378.3M414.3,377.1L411.9,379.9M415.9,377.4L413.1,379.7M418.4,376.6L420.7,379.4M383.3,381.6L386.6,381.4M394.6,379.4L392.2,382.5M409.6,378.7L412.3,381.8M421.3,379.0L417.5,382.1M421.4,380.3L424.9,380.4M433.1,380.0L435.6,381.9M380.3,381.5L382.8,383.9M400.1,382.6L403.3,383.0M402.4,382.9L407.0,383.3M405.5,380.9L408.3,383.8M421.4,382.3L419.0,385.0M422.4,381.0L420.0,384.2M425.7,381.7L423.3,384.0M424.0,382.3L428.9,381.7M428.3,382.8L432.5,382.7M433.6,381.3L431.3,384.0M437.4,381.8L441.1,382.0M385.0,385.0L389.2,384.4M394.2,383.2L391.7,385.5M408.4,385.1L413.2,384.7M420.0,383.0L423.2,385.9M428.4,384.2L425.4,387.0M437.4,383.2L440.4,386.9M442.2,384.0L439.9,386.1M445.4,383.0L442.5,386.5M377.2,385.2L375.1,387.4M378.2,385.5L375.7,387.6M378.4,386.8L381.8,387.2M386.3,385.1L383.3,387.6M389.4,385.1L392.0,387.6M390.1,387.2L394.8,387.2M401.7,386.4L399.6,389.1M424.6,386.9L429.3,386.8M430.5,385.2L433.4,388.0M437.5,387.7L442.0,387.8M443.1,385.7L445.6,388.4M449.8,388.0L454.1,387.7M370.0,387.2L372.9,389.8M382.0,388.4L378.2,391.4M390.6,388.6L388.0,391.8M393.4,389.9L396.6,390.1M396.1,388.3L398.9,390.6M399.5,387.4L403.1,390.3M412.4,387.1L408.9,390.3M411.5,388.9L415.7,388.6M414.9,388.3L418.7,388.9M418.6,390.3L422.2,390.0M431.9,387.9L434.6,390.1M432.0,389.1L436.9,388.6M439.3,389.4L442.7,389.7M372.3,390.0L369.5,393.4M371.8,391.9L376.3,391.6M374.8,391.4L379.6,391.7M382.3,389.8L379.2,392.8M381.3,389.8L384.0,392.5M389.2,389.2L386.7,392.3M391.6,391.2L389.2,393.2M395.8,391.3L399.1,391.2M397.8,390.4L401.1,393.7M400.9,390.7L404.6,393.8M401.6,392.1L405.9,392.3M408.2,390.9L406.0,393.1M408.3,390.0L411.9,392.8M419.4,390.9L421.5,393.6M422.8,390.4L426.5,393.4M427.4,391.9L430.7,391.7M430.3,389.1L433.8,392.6M435.3,391.1L433.3,393.6M447.2,389.8L450.5,392.3M372.2,392.0L368.9,395.1M373.8,393.0L377.4,396.4M382.7,392.8L385.7,393.1M395.2,393.0L398.8,393.4M419.3,394.6L424.3,394.5M446.3,394.4L450.2,394.2M451.0,394.3L454.0,394.6M375.3,395.1L377.5,397.2M383.2,395.6L385.7,398.0M387.8,394.3L390.2,396.3M389.6,395.9L392.9,395.8M409.1,395.3L412.2,395.1M426.2,394.4L429.3,397.5M428.0,396.1L432.1,396.6M439.2,396.0L443.1,395.8M450.0,394.2L447.5,396.2M449.1,394.8L451.6,397.5M373.9,398.7L377.1,398.5M379.8,396.7L377.3,399.7M380.4,396.3L382.5,398.8M383.1,397.7L386.3,397.9M387.5,397.2L384.6,401.0M388.0,397.7L392.2,398.1M393.2,398.5L396.4,398.4M399.9,396.8L403.1,399.7M404.5,396.7L402.4,398.9M404.8,397.4L407.4,399.7M406.1,398.1L410.1,397.6M418.5,396.0L416.1,399.0M420.3,396.9L423.0,399.4M424.1,398.2L429.0,398.3M427.0,398.4L430.8,398.0M430.6,398.7L435.2,398.1M435.9,396.4L433.6,398.8M438.5,398.2L441.7,397.7M442.8,396.1L440.3,399.2M450.7,396.7L453.2,399.0M453.1,396.9L456.4,400.7M373.1,400.4L376.4,400.8M381.4,399.3L383.7,401.4M386.6,400.7L391.3,400.9M396.4,399.9L393.5,402.3M399.5,399.8L396.9,402.1M403.3,399.2L406.3,402.3M407.5,399.0L409.9,401.2M416.0,399.7L418.8,402.0M418.7,399.9L422.2,399.9M420.9,398.9L423.6,402.4M424.7,399.0L422.3,401.6M426.2,400.0L430.7,400.3M430.3,400.4L433.7,399.9M442.2,400.5L446.0,400.4M448.5,399.3L445.0,402.1M450.7,399.0L453.0,401.4M375.4,400.7L378.6,403.1M378.1,401.7L381.4,401.8M383.0,401.5L386.3,404.2M397.3,401.4L394.6,404.8M395.7,402.2L400.6,402.8M398.8,402.7L401.9,402.5M404.3,400.6L401.3,404.1M407.4,401.1L404.4,403.5M414.6,401.6L417.1,404.8M415.1,401.9L418.9,402.1M420.2,401.8L422.9,404.3M431.0,403.4L434.0,403.6M443.6,401.8L447.0,401.8M449.3,401.2L446.5,403.3M392.2,402.7L394.6,405.4M392.8,405.7L397.2,405.4M395.8,405.5L398.9,405.6M400.9,402.7L398.6,405.5M402.4,402.7L405.0,405.6M416.0,402.9L413.7,404.9M428.7,403.9L426.5,406.6M430.8,403.6L433.6,407.0M439.0,403.8L435.6,406.4M445.6,404.2L443.0,407.1M447.0,403.7L449.2,406.0M378.7,406.3L375.1,409.3M387.7,406.1L390.6,409.4M426.1,405.1L423.1,408.8M430.9,407.4L434.1,407.7M435.7,406.6L433.2,408.9M435.7,406.1L438.1,408.2M368.8,410.1L373.0,409.9M374.0,408.2L377.1,411.2M377.0,409.3L381.3,409.8M380.8,409.1L385.1,408.6M387.3,409.0L390.9,408.7M387.8,409.9L392.5,409.2M391.2,407.2L394.5,410.8M393.6,406.6L397.0,410.2M435.6,409.5L440.4,409.8M448.7,409.4L453.2,409.1M454.5,407.4L450.8,410.8M376.9,410.7L374.0,412.9M375.0,411.6L379.1,411.2M388.2,410.5L386.1,413.2M420.6,411.0L424.3,410.5M421.9,410.7L426.7,410.3M428.7,411.1L432.9,410.8M433.2,410.8L430.9,413.7M381.7,412.3L379.4,415.2M388.0,411.6L384.9,414.1M426.0,413.2L430.6,413.1M434.2,412.2L436.8,414.9M441.3,414.3L445.8,414.5M443.8,411.9L446.8,415.5M446.3,414.1L449.4,414.5M434.5,414.6L431.6,417.0M433.8,416.6L437.2,416.6M438.2,414.7L440.8,416.7M424.1,417.7L428.6,417.6M434.7,416.5L431.5,419.1M444.8,416.7L442.8,419.0M445.7,418.1L449.7,418.3M451.5,416.6L448.6,419.9M436.4,420.6L441.0,420.5M430.2,422.2L434.4,421.7M435.7,423.2L438.8,423.2M429.2,423.6L426.5,426.0M431.4,423.3L428.8,425.6M433.1,423.4L435.8,426.8M436.9,423.5L441.5,424.0M449.7,422.4L446.0,425.6M429.7,425.8L427.0,428.6M428.6,425.3L431.6,428.2M437.8,427.5L441.6,427.1M440.6,427.2L437.8,430.0M439.8,428.0L443.2,428.4M438.7,430.2L436.0,433.7" stroke="#f6f670" stroke-width="1.4" stroke-linecap="round" fill="none"/>
<path d="M399.0,364.6L402.3,364.9M399.4,365.7L404.1,366.4M407.5,365.6L412.4,365.1M411.9,364.4L415.0,364.6M418.7,363.3L422.0,366.7M400.8,366.5L404.8,367.1M407.5,366.3L404.1,369.3M416.8,365.3L413.7,369.0M391.2,369.0L393.4,371.8M394.7,369.0L399.4,369.0M400.8,367.4L403.6,370.1M403.5,369.2L408.2,369.3M406.3,370.2L410.2,370.0M415.3,369.0L420.2,368.6M418.5,368.1L421.1,370.5M387.1,371.9L391.3,371.5M407.7,370.3L404.8,374.0M412.3,372.2L416.8,372.1M420.4,370.0L423.8,372.7M395.4,372.5L398.2,375.6M399.4,372.9L403.3,373.4M401.9,374.6L405.4,374.9M409.4,373.2L413.5,373.8M412.5,374.0L416.3,374.4M414.6,374.0L419.3,373.4M420.8,373.0L417.4,375.9M425.4,371.8L422.7,374.9M389.1,376.4L393.3,376.9M407.5,374.4L410.1,377.2M418.0,374.7L421.8,377.6M419.8,375.9L423.8,375.4M428.0,374.8L425.3,378.0M425.8,375.9L429.4,375.7M388.1,377.6L385.7,380.7M386.4,378.0L389.4,377.9M390.6,376.4L394.1,379.4M395.6,378.0L399.8,377.5M397.0,378.4L401.8,378.2M411.5,376.9L408.6,380.5M419.8,376.4L416.7,379.2M421.5,378.8L425.7,378.9M428.1,376.9L425.7,379.8M427.3,377.4L430.2,379.7M431.0,377.0L428.7,380.0M431.3,377.8L434.4,377.4M433.4,377.8L435.6,380.2M387.1,379.9L390.9,379.9M396.7,378.5L393.8,380.9M395.7,379.6L399.6,379.9M397.4,380.3L400.5,379.8M401.8,380.0L405.9,379.6M404.3,380.3L407.8,379.9M407.8,380.9L411.0,381.1M411.0,380.4L415.5,380.9M413.7,380.6L417.0,380.3M426.1,380.6L429.6,380.9M434.9,381.2L438.4,380.9M389.7,380.6L393.1,383.4M390.8,383.1L394.8,383.1M395.9,382.3L400.5,382.4M398.3,383.3L402.7,383.4M407.5,383.5L411.1,383.2M409.7,382.5L412.9,382.9M425.9,383.1L429.3,383.2M436.6,381.8L433.6,385.5M435.7,382.0L439.8,381.9M443.1,382.0L440.2,385.2M375.7,386.0L380.3,385.6M381.4,383.4L383.8,386.4M388.1,383.3L390.5,385.9M392.5,384.0L390.0,387.1M395.8,383.6L393.2,385.8M398.3,384.0L401.5,386.6M407.6,384.5L405.1,386.8M414.4,384.2L411.7,386.6M412.2,384.6L416.7,385.2M414.7,385.4L418.4,385.1M433.3,384.2L431.3,386.5M433.7,385.2L437.6,385.6M439.0,383.7L435.7,387.0M388.4,386.6L386.1,389.6M386.4,387.9L391.0,387.4M401.0,386.3L403.9,389.3M403.3,387.2L406.4,387.0M404.9,387.5L409.0,387.4M410.6,385.2L406.9,388.5M409.9,387.7L413.3,387.8M410.1,387.1L414.9,387.3M418.8,387.1L423.8,386.5M425.4,385.2L423.1,388.3M426.5,386.0L429.0,389.2M429.0,386.9L431.3,389.1M431.7,387.6L436.7,388.0M444.1,387.6L448.2,387.5M371.3,390.1L374.8,389.8M373.0,389.2L376.7,388.9M383.1,388.3L380.8,390.8M384.8,388.9L389.2,389.3M391.1,387.6L394.4,390.7M400.2,387.3L397.6,389.7M409.7,388.4L407.4,390.6M422.2,387.5L419.9,390.5M422.2,387.8L424.2,390.4M435.2,389.3L439.5,388.9M447.0,388.3L444.2,390.7M449.4,388.9L446.7,390.9M451.6,388.0L448.8,390.2M452.6,390.1L456.1,389.7M382.5,390.5L385.0,392.9M392.5,390.7L397.0,391.1M436.2,390.4L439.5,393.8M444.5,391.8L448.5,391.8M448.8,389.9L452.0,393.7M375.4,391.6L372.1,395.2M379.9,392.7L377.4,395.6M383.6,392.0L380.7,395.2M389.1,391.3L385.6,394.9M403.0,394.7L406.1,394.5M405.8,391.6L408.5,394.8M414.0,392.7L416.8,396.2M417.3,392.4L420.4,395.3M425.0,393.6L428.6,393.7M427.9,393.0L430.4,395.6M436.7,392.5L434.1,394.7M439.6,393.7L444.1,393.9M444.4,394.3L447.7,394.0M448.0,393.3L452.2,393.4M368.8,395.4L373.7,395.6M371.3,396.9L374.4,396.5M376.4,395.2L380.7,395.7M378.7,395.8L381.7,396.2M380.9,396.8L384.4,396.8M385.0,395.2L388.5,395.3M391.3,396.1L395.7,396.7M392.2,396.1L396.8,395.7M396.4,395.9L399.8,395.5M398.5,394.6L401.6,397.3M400.3,395.0L403.0,397.8M405.6,394.7L401.7,397.7M408.6,395.1L405.9,397.6M410.5,394.3L414.1,397.6M416.5,394.2L414.4,396.8M415.2,395.1L419.9,395.3M430.8,393.6L433.5,396.9M432.5,395.7L436.3,396.1M440.7,395.4L438.1,397.8M441.6,395.9L445.2,395.7M454.9,394.4L458.4,397.6M386.9,397.6L389.5,400.5M396.0,398.9L400.8,398.8M408.1,399.0L411.7,398.9M412.4,397.1L414.8,399.1M421.4,397.7L425.5,397.6M428.8,398.1L432.4,398.5M442.7,398.2L446.1,398.7M448.0,398.8L451.1,399.0M371.2,400.9L375.9,400.7M378.1,398.4L380.6,400.9M383.3,398.7L385.8,400.6M385.8,400.2L388.2,402.1M392.1,398.2L394.6,401.2M400.8,399.0L398.5,401.3M408.0,399.7L412.5,399.5M414.4,399.8L417.5,399.4M425.4,399.5L428.5,399.6M438.5,400.2L436.1,402.4M439.2,399.8L441.4,401.9M448.7,400.0L446.4,402.4M448.2,400.8L452.6,400.7M453.3,401.0L456.6,400.9M368.9,402.5L373.7,402.0M374.4,402.1L377.1,404.8M402.1,403.5L405.8,403.2M406.9,402.5L410.9,402.5M412.7,401.6L409.1,404.9M424.3,401.7L427.3,405.0M425.6,403.2L430.2,402.9M432.9,402.4L435.4,404.6M434.6,401.6L438.8,402.0M443.5,401.0L440.3,404.5M442.2,401.8L446.5,402.2M449.7,401.5L452.3,404.1M453.6,401.2L451.0,403.5M452.2,402.2L456.1,401.9M380.1,403.8L377.0,406.2M382.2,402.7L385.8,405.9M399.7,405.0L402.9,405.3M412.0,403.6L409.1,406.3M412.1,405.4L415.2,405.0M422.7,403.8L420.1,406.1M422.1,404.6L426.5,404.3M437.1,403.8L441.3,404.0M447.9,404.3L452.2,404.4M453.5,403.8L451.1,406.9M456.4,403.7L453.0,406.6M368.0,405.4L371.0,408.2M378.0,407.4L381.3,407.0M380.7,407.4L385.5,407.4M384.9,407.1L387.9,407.1M391.8,405.2L394.5,407.3M412.2,406.0L416.8,406.6M415.9,404.8L419.0,407.8M422.4,405.8L419.7,407.8M432.4,404.5L429.5,408.1M436.8,406.7L440.8,406.7M440.6,406.6L443.3,408.8M443.1,406.4L446.3,406.6M371.2,408.4L375.7,408.7M374.9,409.6L379.1,410.1M429.0,409.0L433.2,408.7M430.9,408.8L434.4,408.5M441.7,409.7L445.4,409.9M370.2,411.5L373.4,411.7M372.0,412.3L375.9,412.2M381.0,410.8L377.9,413.7M380.1,410.9L382.6,413.6M424.2,411.2L428.2,411.1M434.5,410.8L436.7,413.5M438.3,409.9L435.3,412.4M440.6,409.8L437.3,412.6M440.0,412.2L444.2,412.3M442.6,411.8L446.3,411.8M444.1,412.1L449.0,412.1M446.6,409.5L449.5,413.2M369.4,413.1L373.0,413.1M385.8,412.8L383.2,415.0M424.5,411.8L427.3,414.4M428.3,413.3L432.9,412.7M437.3,414.7L440.4,414.2M449.6,411.7L453.0,414.9M451.4,411.3L454.7,414.8M427.2,414.3L423.7,417.0M426.5,415.3L431.0,414.9M443.3,415.3L440.5,417.8M442.7,416.1L446.0,415.7M448.3,416.4L451.3,416.7M438.2,418.9L441.4,418.6M439.2,417.8L442.9,418.0M431.9,418.9L428.8,422.8M445.0,418.5L447.6,421.7M449.0,418.5L446.3,421.0M448.7,418.4L451.4,421.6M426.7,422.5L431.0,422.7M441.0,421.8L443.3,424.5M440.9,421.9L445.5,421.8M432.6,427.1L436.7,426.6M435.4,426.4L440.1,426.2M431.3,428.2L429.3,430.7M431.9,426.9L434.4,430.0M432.4,428.8L436.1,428.3M434.6,429.7L438.9,429.4M439.9,430.1L437.5,432.0" stroke="#e8e850" stroke-width="1.4" stroke-linecap="round" fill="none"/>
<path d="M404.8,365.0L409.1,364.6M413.6,364.8L416.1,366.9M416.3,365.1L420.2,364.9M395.7,366.3L399.4,366.8M409.2,366.7L412.7,366.9M411.9,367.4L415.2,367.0M415.0,367.4L419.6,367.6M389.6,370.1L393.0,370.4M398.3,370.0L402.7,370.1M409.4,370.2L413.2,370.1M410.5,370.3L414.3,370.2M419.7,368.4L422.9,371.8M392.7,370.1L389.2,373.2M401.4,370.1L397.9,372.8M415.5,372.5L420.1,372.6M417.2,371.1L421.6,371.7M425.6,370.9L423.4,373.0M425.4,372.6L430.2,372.8M397.1,372.3L394.0,375.2M408.6,371.9L404.7,375.0M423.3,374.6L428.3,374.2M429.6,373.0L426.8,376.1M386.6,375.6L391.1,375.1M393.7,374.2L390.9,376.4M395.3,373.8L399.0,376.9M403.2,375.8L406.8,375.3M407.6,375.0L404.2,378.6M408.7,375.7L412.6,375.4M410.9,375.8L414.9,376.3M413.2,376.2L418.1,376.7M415.3,376.8L418.8,376.6M398.9,377.8L403.8,377.4M407.0,378.4L411.0,378.8M420.8,377.2L424.2,380.6M386.0,379.1L388.9,381.4M392.9,379.8L390.5,382.7M401.6,379.7L404.1,382.1M419.3,379.2L416.3,382.0M419.5,378.5L422.7,381.8M427.7,378.8L425.4,381.4M431.6,380.0L429.1,382.5M431.0,380.9L435.1,381.1M382.5,383.5L386.3,383.8M385.5,382.8L389.2,382.6M386.2,382.4L390.8,382.5M396.5,381.2L394.2,383.1M412.2,380.4L415.2,383.7M413.5,381.4L416.3,383.5M414.4,383.0L419.3,382.5M378.5,385.7L383.0,386.1M386.2,383.0L383.7,386.2M398.8,383.6L395.7,386.4M400.0,384.1L402.2,386.6M402.3,385.0L405.6,385.1M407.0,383.5L409.5,386.3M421.2,383.4L419.2,385.8M422.7,385.7L426.8,385.4M430.3,384.6L427.7,386.9M429.4,382.4L432.4,386.3M444.3,383.1L446.7,386.1M372.4,385.7L375.4,388.8M384.1,386.5L380.8,389.1M393.5,387.0L398.4,386.5M396.2,385.7L398.3,388.0M412.6,387.5L417.4,387.7M414.9,385.6L418.4,388.4M417.5,386.7L421.1,387.2M435.4,387.3L440.2,387.7M440.1,387.0L444.4,387.5M449.6,386.2L446.6,388.6M448.0,386.7L451.5,387.0M376.4,388.8L380.4,388.6M383.3,389.3L386.7,388.8M389.8,388.7L393.7,389.2M403.2,388.1L405.9,390.6M404.9,388.0L407.0,390.6M412.8,388.7L416.1,391.7M424.1,389.2L428.1,388.7M425.6,388.8L430.4,388.3M428.8,387.9L430.8,390.4M440.1,387.9L437.6,390.5M446.0,388.7L442.7,391.7M454.6,388.5L451.7,391.6M374.8,390.3L377.3,392.5M385.6,391.8L388.8,392.0M392.0,390.7L395.8,390.8M406.0,391.9L409.5,392.0M411.4,390.8L413.7,392.8M416.4,389.7L413.2,392.7M416.5,391.4L420.0,391.0M419.7,389.8L422.4,393.0M425.7,390.2L427.9,392.7M430.1,390.2L432.6,392.3M441.5,391.0L438.8,393.4M438.8,392.6L443.1,392.1M445.8,390.4L443.0,392.6M450.6,390.8L453.4,393.0M455.6,390.1L452.5,392.5M455.0,391.2L458.6,391.7M382.3,391.7L378.7,395.1M388.2,391.8L390.7,394.9M390.5,393.2L393.2,396.2M391.3,393.9L395.1,393.9M393.1,394.4L396.4,394.5M397.9,393.5L400.6,395.9M400.1,394.0L404.7,393.8M409.6,392.8L406.9,395.3M409.9,392.5L412.0,395.0M411.4,393.3L416.1,392.9M415.2,393.9L418.8,393.9M426.0,392.3L423.0,395.9M431.4,393.2L428.7,395.8M434.4,391.9L431.9,395.2M438.1,391.7L436.1,394.3M437.4,392.4L441.1,395.4M441.4,393.5L445.4,393.3M453.9,391.7L456.8,394.1M454.3,393.2L458.7,393.1M405.8,395.2L409.9,395.1M417.7,396.7L421.2,396.8M419.0,395.0L422.9,395.3M422.5,396.0L425.8,396.2M427.1,394.0L424.2,397.1M434.6,395.5L438.2,395.2M444.3,396.7L448.0,397.0M451.3,394.1L454.9,397.1M452.1,396.9L456.8,396.4M372.3,397.1L369.7,400.6M371.7,398.1L375.6,398.4M381.1,395.7L377.9,399.4M391.0,397.1L394.0,399.5M397.8,397.2L401.2,400.6M413.6,398.5L417.8,398.5M417.9,398.7L421.6,398.9M436.1,396.3L439.4,399.1M444.3,399.1L447.6,398.8M447.3,396.7L449.8,399.6M372.9,398.9L370.3,401.7M375.6,400.5L379.5,401.0M389.7,399.9L393.8,399.8M400.4,400.7L404.9,400.4M403.3,400.3L407.9,399.8M411.4,400.9L415.8,401.3M429.1,401.2L433.8,400.6M432.8,400.9L437.0,401.5M443.0,399.5L439.9,402.0M458.4,398.2L455.5,401.3M370.7,403.4L374.7,403.4M379.2,403.3L384.0,403.5M388.9,400.9L385.6,403.7M387.3,402.2L390.3,401.9M389.2,402.0L391.6,404.5M390.6,403.6L395.4,403.0M411.3,402.3L415.9,401.9M417.2,401.9L421.1,402.3M421.6,400.8L424.7,403.2M429.3,402.2L432.5,404.7M438.4,402.2L440.8,404.2M373.5,403.5L370.6,406.9M374.2,403.2L371.4,406.1M376.9,404.3L374.6,406.9M377.4,404.9L382.0,405.5M381.9,403.8L384.0,406.5M385.6,404.1L388.9,404.0M387.0,404.4L390.3,404.7M391.8,402.7L388.7,406.0M404.8,404.4L408.1,404.3M410.3,403.2L407.9,406.2M414.6,404.7L419.3,404.9M417.3,403.0L420.7,405.9M424.5,404.1L428.0,404.0M428.2,404.2L432.3,404.1M436.3,402.9L433.3,405.3M439.9,403.9L443.2,404.1M443.6,405.6L447.9,405.1M372.4,404.7L368.9,407.8M370.4,406.2L375.2,406.5M376.3,406.2L374.2,408.8M385.7,405.6L382.7,407.9M390.2,405.6L393.5,409.3M393.1,405.9L396.0,408.9M395.3,405.1L398.5,407.6M412.0,405.5L415.2,408.4M416.7,407.6L421.4,407.5M424.2,405.6L427.5,408.1M426.9,405.9L430.0,408.8M443.2,407.7L447.4,407.5M450.2,406.1L446.6,409.1M449.4,406.3L452.8,406.2M449.8,407.2L454.0,406.9M456.2,405.9L454.2,408.3M382.8,408.1L386.1,411.3M384.5,406.8L387.5,410.6M419.2,409.2L423.7,408.6M425.0,407.6L422.0,410.4M424.7,408.9L427.9,408.5M427.3,407.7L430.0,410.9M433.6,409.3L437.1,409.3M437.6,409.6L441.0,409.9M440.1,408.1L442.7,410.7M447.9,408.4L445.3,411.3M446.4,407.2L449.3,409.7M370.9,409.8L367.8,412.8M382.5,411.9L386.0,411.7M386.9,410.6L390.8,411.1M426.1,412.1L429.5,412.3M448.3,411.2L452.2,411.0M450.7,409.7L453.8,413.0M371.2,413.2L376.1,413.7M375.0,411.8L377.8,415.2M375.6,411.4L379.1,414.1M380.3,413.5L384.8,414.1M422.7,414.2L426.5,413.7M430.6,412.9L435.4,413.5M438.8,412.8L436.3,415.3M439.2,413.0L444.1,413.1M370.7,415.5L375.7,415.2M372.9,415.7L376.8,416.3M376.9,416.4L380.0,416.1M380.2,415.7L383.4,415.6M428.3,416.4L431.6,416.1M434.7,414.9L438.2,414.9M444.0,414.6L446.9,417.8M447.2,415.1L450.7,418.1M373.3,417.2L377.0,417.1M426.9,418.8L430.8,418.9M429.9,417.7L433.0,417.9M433.6,417.8L437.3,417.9M434.8,418.3L439.1,418.3M446.9,417.3L444.1,420.4M424.5,419.3L426.4,421.6M426.8,420.3L431.5,420.3M430.7,419.6L434.3,420.0M437.0,418.4L433.4,421.7M435.5,419.3L438.9,419.4M440.4,419.3L443.3,421.7M442.3,421.0L446.7,421.0M424.6,422.7L429.5,422.7M427.5,422.2L432.4,422.1M432.6,422.9L436.8,422.5M440.1,421.2L437.9,423.5M446.7,420.3L443.6,423.1M445.8,423.0L449.7,423.5M431.4,424.5L434.5,424.5M435.7,425.1L439.5,425.2M439.4,425.2L443.5,425.4M441.7,423.4L444.6,425.8M444.6,425.4L448.0,425.5M431.6,426.2L434.0,428.6M438.7,425.9L443.0,426.0M445.1,426.1L442.1,428.9M446.8,425.4L444.4,427.6M442.9,429.3L440.1,432.6" stroke="#f2f25a" stroke-width="1.4" stroke-linecap="round" fill="none"/>
<path d="M400.4,367.4L403.5,367.4M406.8,366.3L408.1,368.0M410.0,365.9L412.1,367.7M400.4,370.2L398.6,371.7M423.0,369.0L426.2,369.3M391.4,372.1L388.8,374.9M393.3,372.2L391.7,373.5M404.6,373.2L406.3,375.0M409.5,373.7L411.5,376.2M394.7,377.5L398.5,377.6M399.3,375.8L401.5,378.3M404.0,378.1L407.1,377.9M407.0,376.7L409.6,376.9M410.6,377.7L413.6,377.6M425.1,376.3L427.6,376.1M432.0,376.0L429.8,378.6M388.9,379.2L390.5,381.3M415.7,379.3L412.7,381.8M418.4,381.2L420.9,380.8M434.8,381.1L436.7,382.8M387.7,383.4L385.8,385.1M392.9,383.0L390.0,385.6M391.5,383.9L393.3,386.2M400.3,383.3L402.6,385.1M403.7,381.9L405.9,384.3M435.3,383.0L433.9,384.5M444.5,384.3L442.9,386.3M394.5,388.5L397.8,388.9M399.2,385.3L401.1,387.2M413.0,386.5L415.4,386.3M418.0,386.4L420.2,386.3M420.5,387.0L423.8,386.6M438.0,386.6L439.8,388.1M446.1,389.1L448.9,389.1M375.8,392.1L378.1,392.3M382.5,390.8L385.4,391.0M384.2,390.0L387.8,390.2M387.7,391.1L391.1,391.5M392.3,389.0L394.7,392.1M396.8,389.6L398.7,392.0M401.5,388.4L403.9,391.4M420.0,392.1L423.9,391.9M442.1,389.7L444.2,389.6M452.3,390.2L454.5,390.4M377.1,392.6L374.7,395.4M377.0,396.0L379.2,396.0M386.9,392.4L385.1,394.0M405.2,392.7L408.2,395.0M431.8,393.1L434.7,393.3M435.2,393.3L437.0,394.9M446.0,394.1L449.8,393.9M452.3,394.4L450.2,396.8M453.9,394.2L451.4,396.1M370.3,396.4L371.9,398.3M383.5,396.7L380.9,399.0M384.2,399.6L387.4,399.8M402.9,398.5L400.6,400.7M403.3,398.8L405.4,398.6M410.6,398.0L412.6,398.0M413.7,396.1L415.7,398.6M416.1,397.5L419.7,397.9M454.9,398.4L457.1,400.9M373.7,399.9L376.5,402.1M395.7,401.6L399.0,401.2M419.8,400.9L418.4,402.7M435.0,401.4L437.9,401.7M437.3,401.7L441.0,401.5M452.5,403.0L456.3,402.9M374.3,404.4L377.3,404.6M380.6,406.8L383.2,406.6M388.2,405.2L390.9,405.3M399.9,404.4L402.1,404.1M408.8,402.8L406.4,405.3M414.4,405.2L412.6,407.1M424.8,404.8L427.9,404.6M429.5,403.0L426.8,405.0M438.5,403.9L442.4,404.2M442.9,403.2L441.2,404.5M445.2,405.0L449.1,405.5M453.1,406.3L456.0,406.0M371.9,406.9L373.4,408.5M386.6,409.2L388.9,409.1M393.5,407.3L396.1,407.4M421.5,409.1L424.4,409.2M435.5,408.8L438.6,408.3M439.6,407.2L441.4,408.9M440.9,409.1L444.3,408.9M446.8,408.5L450.7,408.5M454.2,406.4L451.5,408.9M370.3,411.9L372.7,411.6M376.6,412.3L374.4,414.3M377.4,411.6L380.8,411.6M426.5,411.8L424.3,414.5M440.8,413.4L444.2,413.4M449.6,411.3L452.5,410.9M371.5,414.4L374.6,414.8M433.6,415.6L437.1,415.3M445.2,413.6L442.9,415.9M428.8,423.0L426.4,425.7M437.2,423.2L439.5,423.0M444.6,421.5L447.3,421.4M430.6,427.1L433.3,427.5M443.2,426.5L441.5,428.0M438.5,430.8L442.3,430.4M440.9,428.3L443.3,431.3" stroke="#70702a" stroke-width="0.8" stroke-linecap="round" fill="none"/>
<path d="M405.4,361.8L405.3,366.3M400.4,367.0L405.2,367.0M402.1,365.2L405.7,365.3M405.6,367.4L411.3,366.7M420.3,364.9L420.5,368.8M390.7,369.2L395.1,369.3M393.3,368.2L398.8,367.8M402.3,367.3L402.5,370.4M402.3,368.7L407.1,368.1M422.3,369.3L427.9,369.5M390.4,371.4L394.1,371.4M405.8,371.7L410.1,372.2M408.8,371.2L415.4,371.6M413.6,370.8L414.0,375.1M421.0,370.7L425.1,371.0M386.7,376.2L393.1,375.6M398.0,374.0L401.3,373.8M399.9,375.0L404.2,374.5M414.5,375.6L421.1,375.0M420.9,373.7L424.9,374.1M395.6,375.0L395.6,380.6M397.8,375.4L398.1,379.8M406.2,373.9L405.4,380.5M404.5,377.3L410.6,377.0M417.9,377.6L422.8,377.4M420.5,378.9L426.1,378.9M389.5,380.5L394.7,380.2M402.8,378.7L402.8,381.8M401.3,380.6L406.7,380.5M408.0,380.3L414.5,381.1M415.1,380.6L419.5,381.1M429.2,381.4L434.8,382.0M431.9,381.9L436.1,381.7M376.1,385.2L380.3,385.2M383.6,384.1L388.8,383.8M387.0,383.0L393.6,383.8M404.8,379.9L404.5,386.0M405.9,384.0L409.8,383.6M415.0,383.2L421.4,382.6M421.0,384.7L425.4,384.2M424.6,385.0L428.2,384.7M431.0,382.7L431.0,387.5M434.2,383.9L439.8,384.1M442.5,384.8L449.3,385.0M388.0,384.4L387.2,390.9M392.4,385.4L393.0,389.9M397.2,387.8L402.6,388.5M399.6,386.9L403.0,386.9M410.1,383.1L410.4,389.4M419.3,386.9L424.3,387.5M424.4,386.8L428.5,387.4M436.0,384.0L436.0,390.0M435.5,387.2L440.7,386.7M447.1,385.6L446.5,390.3M369.7,390.1L373.1,389.9M372.6,389.1L376.8,389.3M374.9,389.9L379.1,390.3M377.0,389.8L383.0,390.3M381.4,390.5L385.8,390.1M393.9,390.6L400.4,390.9M400.5,390.5L404.4,390.9M418.0,390.6L423.1,390.8M430.8,388.8L437.0,389.4M444.2,387.6L443.7,392.2M372.7,391.1L372.9,395.8M381.9,391.3L381.8,395.4M382.4,392.4L386.6,392.8M387.3,390.5L386.9,397.1M394.0,393.2L398.6,393.5M401.3,394.2L406.8,393.9M412.0,390.5L411.8,394.1M417.2,388.7L417.6,395.2M426.9,393.3L433.4,392.5M429.6,393.3L434.3,393.1M367.7,395.9L372.6,396.1M369.7,395.6L373.1,395.6M380.2,396.6L387.2,396.5M397.8,394.8L401.8,394.9M399.9,396.8L406.1,396.2M410.4,392.6L410.5,398.3M413.8,395.7L418.7,395.9M420.7,393.4L420.8,398.1M420.3,396.2L423.7,396.2M422.7,396.9L426.9,397.2M424.8,397.6L431.7,396.7M435.8,394.9L442.4,395.8M440.5,395.9L445.2,395.5M451.7,396.6L458.0,396.4M371.0,395.0L371.6,401.8M376.6,399.2L380.9,398.8M382.0,399.8L387.1,399.3M384.0,400.2L388.8,399.7M388.2,398.2L393.7,398.3M393.0,397.4L392.5,401.8M392.9,398.1L398.0,398.5M416.7,396.1L417.0,399.7M417.1,398.6L423.0,398.7M423.6,396.8L423.0,401.6M424.5,397.9L428.4,398.0M427.4,399.6L431.8,399.9M431.2,394.6L431.0,401.1M440.7,399.3L446.1,398.9M446.2,397.7L452.2,398.4M369.2,402.8L373.9,402.4M372.2,402.2L375.7,401.7M382.1,401.5L388.2,401.8M383.7,402.5L388.7,402.6M393.1,398.3L393.3,403.5M412.8,402.1L416.6,402.5M419.9,401.0L419.5,405.1M422.0,401.9L428.8,402.0M431.9,401.8L438.9,401.7M439.6,401.9L444.4,402.3M444.3,402.3L450.3,401.7M369.1,404.3L375.4,404.1M376.9,401.8L377.0,407.3M380.1,404.3L386.7,404.6M384.7,404.1L389.0,404.4M395.4,406.0L400.4,405.6M404.8,404.5L411.3,404.6M407.0,405.4L413.5,404.7M412.2,405.8L417.3,405.9M415.5,405.6L419.7,405.2M418.1,405.5L422.5,405.6M425.9,403.8L430.1,403.9M435.5,406.1L442.2,406.3M438.4,405.3L441.9,405.1M445.2,405.7L450.9,405.6M450.8,402.3L451.3,407.5M450.8,403.6L454.0,404.0M371.6,406.3L372.0,409.7M385.1,405.1L385.0,409.5M382.9,408.6L389.0,408.8M390.7,408.3L395.9,408.1M425.3,408.1L431.6,408.2M432.6,405.8L433.0,412.1M438.1,406.2L438.5,411.8M451.0,407.2L455.6,407.7M369.4,407.9L368.7,414.8M375.6,410.6L380.1,410.9M378.3,411.4L383.4,411.9M389.3,408.2L388.9,413.2M388.5,410.2L395.3,409.7M424.0,411.8L430.0,412.1M425.3,411.0L432.1,410.6M438.8,410.5L445.1,410.2M369.3,413.3L374.8,413.3M384.6,411.7L384.6,416.0M421.6,413.4L426.8,413.4M425.5,412.7L424.9,417.6M432.1,414.8L437.6,414.3M436.6,413.6L440.4,413.9M444.5,414.9L447.5,414.5M449.3,412.4L448.7,417.7M374.1,413.7L374.6,419.0M426.1,418.1L429.7,417.9M421.8,420.3L428.8,420.4M427.9,416.8L428.2,423.3M430.8,419.3L435.4,419.2M432.0,420.3L437.8,420.7M436.0,420.0L440.6,420.1M442.9,420.2L446.1,420.2M449.2,418.0L449.3,422.9M427.1,420.0L426.6,426.2M426.6,423.6L433.0,423.4M431.3,421.0L431.4,425.8M431.9,422.6L437.6,421.9M436.7,423.1L440.6,422.7M439.1,422.8L443.2,422.9M428.3,428.0L434.5,427.8M441.3,425.9L440.6,432.8M439.1,431.9L445.0,432.5" stroke="#ffffff" stroke-width="0.7" stroke-linecap="round" fill="none"/>
<path d="M383.4,388.1L388.7,388.0M386.7,387.4L390.5,387.8M388.6,387.8L394.6,387.7M380.5,390.5L385.8,390.9M382.3,389.9L387.9,389.4M384.9,389.7L389.9,390.0M378.1,393.4L382.7,393.3M391.6,392.5L394.7,392.6M395.7,393.1L401.2,393.1M375.3,395.6L380.9,396.1M395.8,394.6L399.8,394.8M375.6,398.0L380.8,397.8M383.1,397.2L387.2,397.4M389.3,397.1L393.4,397.5M394.1,398.0L397.5,397.8M375.6,400.6L380.3,400.9M391.2,400.5L394.3,400.3M399.3,400.7L402.3,400.8M403.8,400.6L407.6,400.7M377.6,403.3L383.0,403.0M380.1,403.3L385.1,403.6M388.3,403.8L393.2,403.6M396.0,403.3L401.4,403.8M406.8,403.8L412.6,403.6M376.2,406.2L380.9,405.8M390.3,405.3L395.1,405.5M398.4,406.2L404.0,405.6M369.2,409.2L372.3,408.9M371.7,407.7L377.7,407.7M376.3,408.9L380.0,409.1M383.0,408.3L388.6,407.6M377.9,411.6L383.4,411.4M381.0,410.6L384.5,410.2M385.4,410.5L391.0,410.5M379.4,412.9L382.6,413.3" stroke="#6a6a28" stroke-width="0.6" stroke-linecap="round" fill="none"/>
<path d="M473.4,390.2L467.3,392.3M462.8,393.7L469.7,394.5M464.4,393.5L471.5,392.8M474.6,392.3L466.7,394.2M471.2,393.4L476.3,394.0M473.1,393.7L480.1,393.0M474.3,392.8L482.1,393.8M485.3,391.3L477.9,394.5M480.5,393.4L487.6,392.6M463.7,396.6L471.6,395.7M474.1,395.6L467.1,397.4M470.3,397.2L477.5,396.4M473.8,396.2L479.2,396.3M481.8,395.3L474.1,397.4M480.4,396.4L487.7,396.6M464.3,398.8L471.7,399.2M467.6,398.8L473.7,399.4M476.4,397.2L469.9,399.6M473.7,398.1L479.4,398.1M477.9,398.1L483.6,398.5M461.7,400.9L469.6,402.0M471.4,399.0L464.9,402.4M467.3,401.4L473.1,401.4M477.6,400.2L469.6,402.7M471.9,402.1L480.0,401.6M474.3,402.1L482.8,401.2M476.8,401.7L485.4,401.5M462.2,404.4L469.5,403.7M465.8,404.8L471.6,404.4M475.1,403.2L467.4,406.0M470.3,403.8L476.8,403.8M473.1,404.3L480.0,404.4M475.1,403.1L481.1,403.8M468.9,405.3L462.7,407.4M466.0,406.1L471.1,406.2M467.4,407.3L474.7,407.0M469.2,406.3L476.5,405.7M472.2,406.1L480.3,406.3" stroke="#14163a" stroke-width="1.7" stroke-linecap="round" fill="none"/>
<path d="M473.4,390.2L467.3,392.3M464.4,393.5L471.5,392.8M474.3,392.8L482.1,393.8M463.7,396.6L471.6,395.7M474.1,395.6L467.1,397.4M481.8,395.3L474.1,397.4M464.3,398.8L471.7,399.2M461.7,400.9L469.6,402.0M466.0,406.1L471.1,406.2M469.2,406.3L476.5,405.7M472.2,406.1L480.3,406.3" stroke="#1c1e50" stroke-width="1.2" stroke-linecap="round" fill="none"/>
<path d="M462.8,393.7L469.7,394.5M471.2,393.4L476.3,394.0M473.1,393.7L480.1,393.0M470.3,397.2L477.5,396.4M480.4,396.4L487.7,396.6M467.6,398.8L473.7,399.4M473.7,398.1L479.4,398.1M477.9,398.1L483.6,398.5M471.4,399.0L464.9,402.4M477.6,400.2L469.6,402.7M471.9,402.1L480.0,401.6M465.8,404.8L471.6,404.4M475.1,403.2L467.4,406.0M473.1,404.3L480.0,404.4" stroke="#2e3068" stroke-width="1.2" stroke-linecap="round" fill="none"/>
<path d="M474.6,392.3L466.7,394.2M485.3,391.3L477.9,394.5M480.5,393.4L487.6,392.6M473.8,396.2L479.2,396.3M476.4,397.2L469.9,399.6M467.3,401.4L473.1,401.4M474.3,402.1L482.8,401.2M476.8,401.7L485.4,401.5M462.2,404.4L469.5,403.7M470.3,403.8L476.8,403.8M475.1,403.1L481.1,403.8M468.9,405.3L462.7,407.4M467.4,407.3L474.7,407.0" stroke="#23265c" stroke-width="1.2" stroke-linecap="round" fill="none"/>
<path d="M460.0,442.0L464.9,442.5M465.9,439.4L462.9,443.4M462.9,441.1L469.5,441.8M465.5,442.0L471.7,441.8M473.0,439.3L470.7,444.0M476.2,439.6L471.0,443.5M458.3,443.9L462.7,443.4M464.7,441.6L461.2,446.3M466.6,440.6L463.2,446.2M468.3,442.6L465.4,446.6M470.8,441.3L466.2,446.0M471.1,444.6L475.6,444.3M478.1,441.3L476.1,445.5M459.8,443.2L455.7,448.7M457.6,445.1L462.9,445.7M465.3,442.7L460.9,448.1M465.7,442.6L463.1,448.2M468.2,444.5L464.5,448.1M470.7,443.6L467.0,447.8M467.8,445.9L473.9,445.3M472.9,446.0L477.9,445.9M475.0,445.8L479.5,446.0M457.1,446.3L453.6,450.6M459.7,445.6L457.3,450.1M461.9,446.7L459.0,450.2M460.4,449.1L465.7,448.6M466.7,446.2L464.0,450.8M467.6,446.2L465.9,450.0M471.0,446.2L468.6,450.8M473.3,446.9L470.8,451.0M470.0,448.1L476.0,447.4M477.2,446.8L474.3,451.0M482.7,446.2L479.0,451.1M478.9,448.5L484.7,447.7M456.6,449.3L452.3,452.9M457.1,447.1L454.6,452.4M460.4,448.6L457.2,453.0M462.7,448.4L458.6,454.0M459.5,449.7L465.4,450.2M465.6,448.8L462.4,451.4M469.6,449.1L464.8,452.9M473.6,447.8L468.5,452.2M476.0,449.2L472.6,452.1M477.3,448.7L474.8,452.6M478.8,448.1L475.9,454.2M481.4,448.2L479.2,453.7M484.8,448.6L481.2,451.7M455.1,449.6L451.9,454.9M458.0,451.3L454.3,454.6M459.4,450.5L455.2,454.8M462.5,451.1L458.9,454.4M464.5,451.6L460.9,455.1M462.6,451.9L468.2,452.3M468.0,450.4L465.4,455.4M466.1,453.1L471.1,453.6M469.1,453.0L474.2,453.1M477.8,451.4L474.3,455.3M481.2,451.8L478.2,454.4M478.3,452.5L485.0,452.0" stroke="#14163a" stroke-width="1.8" stroke-linecap="round" fill="none"/>
<path d="M460.0,442.0L464.9,442.5M465.5,442.0L471.7,441.8M476.2,439.6L471.0,443.5M458.3,443.9L462.7,443.4M464.7,441.6L461.2,446.3M457.6,445.1L462.9,445.7M468.2,444.5L464.5,448.1M472.9,446.0L477.9,445.9M459.7,445.6L457.3,450.1M460.4,449.1L465.7,448.6M466.7,446.2L464.0,450.8M471.0,446.2L468.6,450.8M457.1,447.1L454.6,452.4M459.5,449.7L465.4,450.2M473.6,447.8L468.5,452.2M476.0,449.2L472.6,452.1M477.3,448.7L474.8,452.6M478.8,448.1L475.9,454.2M481.4,448.2L479.2,453.7M462.5,451.1L458.9,454.4M464.5,451.6L460.9,455.1M462.6,451.9L468.2,452.3M468.0,450.4L465.4,455.4M477.8,451.4L474.3,455.3" stroke="#2e3068" stroke-width="1.3" stroke-linecap="round" fill="none"/>
<path d="M465.9,439.4L462.9,443.4M473.0,439.3L470.7,444.0M468.3,442.6L465.4,446.6M465.3,442.7L460.9,448.1M465.7,442.6L463.1,448.2M470.7,443.6L467.0,447.8M475.0,445.8L479.5,446.0M457.1,446.3L453.6,450.6M461.9,446.7L459.0,450.2M467.6,446.2L465.9,450.0M470.0,448.1L476.0,447.4M477.2,446.8L474.3,451.0M478.9,448.5L484.7,447.7M465.6,448.8L462.4,451.4M469.6,449.1L464.8,452.9M484.8,448.6L481.2,451.7M455.1,449.6L451.9,454.9M459.4,450.5L455.2,454.8M466.1,453.1L471.1,453.6M469.1,453.0L474.2,453.1M478.3,452.5L485.0,452.0" stroke="#1c1e50" stroke-width="1.3" stroke-linecap="round" fill="none"/>
<path d="M462.9,441.1L469.5,441.8M466.6,440.6L463.2,446.2M470.8,441.3L466.2,446.0M471.1,444.6L475.6,444.3M478.1,441.3L476.1,445.5M459.8,443.2L455.7,448.7M467.8,445.9L473.9,445.3M473.3,446.9L470.8,451.0M482.7,446.2L479.0,451.1M456.6,449.3L452.3,452.9M460.4,448.6L457.2,453.0M462.7,448.4L458.6,454.0M458.0,451.3L454.3,454.6M481.2,451.8L478.2,454.4" stroke="#23265c" stroke-width="1.3" stroke-linecap="round" fill="none"/>
<path d="M464.4,332.3L461.6,334.8M461.9,334.7L458.9,338.7M464.0,335.5L461.0,338.0M467.1,334.5L465.4,337.5M468.3,333.8L466.3,337.0M470.8,333.7L468.5,337.5M457.5,335.8L454.6,338.5M458.4,337.5L455.2,340.2M460.7,336.2L458.2,338.5M463.1,336.3L461.0,338.7M467.0,336.5L465.1,338.9M471.5,336.1L469.3,339.4M459.8,339.1L457.6,342.4M462.5,339.5L459.7,342.4M467.4,338.4L465.0,341.9" stroke="#14163a" stroke-width="1.8" stroke-linecap="round" fill="none"/>
<path d="M464.4,332.3L461.6,334.8M461.9,334.7L458.9,338.7M464.0,335.5L461.0,338.0M457.5,335.8L454.6,338.5M459.8,339.1L457.6,342.4M467.4,338.4L465.0,341.9" stroke="#2e3068" stroke-width="1.3" stroke-linecap="round" fill="none"/>
<path d="M467.1,334.5L465.4,337.5M468.3,333.8L466.3,337.0M458.4,337.5L455.2,340.2M463.1,336.3L461.0,338.7M467.0,336.5L465.1,338.9M471.5,336.1L469.3,339.4" stroke="#1c1e50" stroke-width="1.3" stroke-linecap="round" fill="none"/>
<path d="M470.8,333.7L468.5,337.5M460.7,336.2L458.2,338.5M462.5,339.5L459.7,342.4" stroke="#23265c" stroke-width="1.3" stroke-linecap="round" fill="none"/>
<path d="M64.7,541.8 L73.3,540.9 L81.9,534.2 L86.7,526.5 L96.3,522.7 L104.0,520.7 L113.6,526.5 L117.4,534.2 L128.9,538.0 L131.8,545.7 L138.5,545.7 L148.0,549.5 L150.0,555.2 L142.3,559.1 L146.1,570.6 L150.0,582.0 L146.1,589.7 L138.5,595.5 L130.8,591.6 L123.1,587.8 L119.3,580.1 L115.5,568.6 L107.8,561.0 L100.1,562.9 L92.5,568.6 L81.0,572.5 L71.4,576.3 L65.7,572.5 L62.8,561.0 L63.7,549.5Z" fill="#b8b844"/>
<path d="M95.7,522.3L92.9,525.2M94.6,524.8L98.0,525.1M98.6,523.2L96.6,525.7M106.6,524.8L110.1,524.8M87.0,528.0L91.6,528.4M92.5,528.1L97.5,527.7M96.4,528.1L99.9,528.1M107.4,525.2L110.7,528.0M85.4,528.5L89.6,529.0M92.4,528.2L95.0,531.1M95.6,528.6L99.0,529.0M111.6,529.6L115.0,529.2M90.8,530.8L87.4,534.1M89.6,532.5L94.4,532.4M98.1,532.3L102.6,532.5M105.9,529.8L103.1,532.9M108.7,530.4L106.1,532.5M106.1,530.8L110.6,531.0M112.5,532.8L115.7,532.4M80.6,534.4L85.4,534.0M86.2,532.4L83.2,536.0M91.1,533.0L88.5,535.7M89.0,534.5L92.6,534.2M95.8,534.3L100.5,533.8M110.2,533.1L107.5,535.8M111.7,533.6L114.8,533.3M78.2,536.9L81.2,536.7M80.6,536.2L83.9,536.1M88.2,536.0L85.7,537.9M89.9,536.6L94.6,537.0M97.6,534.6L93.8,537.7M80.7,537.4L84.2,537.7M84.3,539.0L89.1,539.2M90.4,536.4L93.5,540.1M112.9,537.6L116.7,537.4M126.0,539.5L130.9,538.9M81.7,539.1L79.5,541.8M81.0,539.9L84.4,539.7M83.0,538.5L85.5,541.3M92.7,538.7L90.2,541.3M96.3,540.4L100.3,540.8M98.1,541.0L101.8,540.8M108.6,539.7L113.5,539.9M114.7,538.8L111.7,542.4M117.0,539.7L113.8,542.2M120.7,540.3L124.1,540.1M125.2,539.5L127.6,542.4M127.4,541.2L131.4,541.3M72.6,541.7L74.6,544.0M79.7,541.6L82.1,543.8M81.4,541.0L83.8,544.1M84.8,541.2L87.6,544.7M89.3,542.6L92.3,542.3M104.7,542.0L101.2,545.1M105.2,543.4L108.2,543.0M113.2,542.7L117.7,542.6M117.2,542.5L122.0,542.2M122.6,541.5L125.2,544.7M126.9,541.4L129.8,543.7M66.5,543.7L68.7,546.5M77.2,544.8L80.5,544.9M84.9,545.1L89.8,544.7M87.4,545.0L90.4,544.7M110.1,544.3L113.8,544.0M110.8,545.4L115.4,544.9M115.1,545.4L119.1,545.9M124.1,543.0L121.2,546.1M127.8,544.1L131.2,544.5M65.6,546.5L62.6,548.8M68.2,546.1L64.8,549.2M82.0,546.4L86.7,546.1M87.7,547.4L91.6,547.6M93.4,546.7L96.5,546.8M97.5,547.5L102.3,547.8M104.2,546.4L107.9,546.3M114.6,546.4L111.6,548.9M116.0,546.5L119.5,546.7M117.5,546.4L121.2,546.3M130.5,547.3L134.9,547.6M139.5,547.0L144.3,547.2M71.0,548.5L68.5,550.5M75.6,550.2L79.8,549.8M82.9,548.9L85.6,551.4M95.8,548.6L100.5,548.4M100.4,547.9L103.2,550.9M103.4,548.9L106.1,551.4M107.5,549.1L111.0,548.8M108.7,548.6L112.0,549.1M112.3,548.0L114.6,550.6M114.3,548.6L117.2,550.9M118.7,548.7L122.2,551.5M123.3,546.9L120.4,550.2M126.7,548.9L130.4,549.1M133.4,548.4L130.2,551.6M134.0,547.5L131.8,549.7M132.4,548.8L136.8,549.3M135.0,549.6L139.9,550.3M63.6,551.8L67.6,551.9M76.8,549.2L74.1,552.4M98.6,551.4L102.3,551.4M114.1,551.9L118.3,551.5M123.3,551.8L127.1,551.9M125.0,551.8L129.7,551.8M133.9,551.5L137.6,551.8M135.5,550.7L139.5,551.2M138.7,551.5L141.9,551.1M139.7,551.4L144.2,551.3M65.8,552.6L68.1,554.8M71.7,552.5L76.7,553.1M74.8,552.0L77.7,555.4M90.5,552.6L87.7,554.8M92.6,552.6L95.8,555.3M96.7,553.3L101.0,553.5M113.4,553.4L117.9,553.6M128.7,553.8L132.9,553.5M133.3,554.5L136.8,554.1M147.3,551.2L149.9,554.6M66.9,556.4L71.4,556.1M72.1,556.6L76.8,556.5M74.4,556.3L77.7,556.7M80.1,554.2L77.7,556.3M85.6,554.8L82.9,557.2M86.4,555.8L90.9,556.3M98.1,555.3L102.2,555.9M104.5,554.7L101.5,557.2M106.6,555.9L110.7,555.5M108.6,555.7L112.6,555.6M116.2,555.6L120.2,555.9M118.1,556.2L121.9,555.9M121.2,555.5L123.9,557.6M126.6,555.0L129.7,558.3M132.3,554.3L129.0,557.2M134.5,554.4L136.8,557.2M136.1,555.2L138.7,557.7M65.4,557.1L68.8,560.0M69.8,558.6L73.5,558.2M76.8,556.5L79.5,558.8M77.8,557.4L82.2,557.2M80.7,558.0L85.4,558.1M99.5,558.2L103.6,558.7M102.7,558.3L106.1,558.5M116.0,557.1L119.1,559.8M117.7,557.7L120.8,557.4M120.4,557.8L124.2,557.5M124.4,558.6L127.5,558.3M130.7,558.6L134.6,558.9M71.2,560.0L75.8,560.5M79.1,559.4L76.5,562.8M91.4,561.4L95.6,561.0M97.2,559.9L94.4,562.1M105.7,561.1L109.4,561.0M119.5,558.3L117.1,560.5M133.5,558.1L129.9,561.1M140.0,560.1L143.7,559.9M73.2,560.6L71.2,563.1M84.3,561.0L81.4,563.4M83.9,562.4L87.0,562.4M88.3,560.6L91.0,563.6M96.6,560.0L93.8,563.7M96.7,562.2L99.4,564.5M110.7,562.3L115.4,562.8M115.5,563.0L120.3,562.9M121.3,561.8L117.7,564.8M120.6,561.3L124.1,564.2M128.2,563.0L132.2,563.1M63.1,564.2L66.9,564.3M71.8,564.7L75.8,564.2M78.4,565.2L81.8,565.7M84.1,562.5L87.0,565.2M87.2,564.9L92.2,565.1M94.1,565.4L98.0,565.7M126.1,563.3L122.8,566.4M125.0,564.1L129.5,564.1M67.2,565.3L64.2,568.0M64.8,567.1L68.1,566.6M70.1,567.1L73.7,567.1M77.4,566.1L82.2,566.6M80.7,567.7L85.1,567.8M115.4,566.3L119.4,566.6M125.4,565.8L123.4,568.2M127.6,566.3L130.9,569.2M129.1,567.3L133.4,566.9M131.2,567.7L134.8,567.4M141.2,565.9L144.1,569.6M141.2,566.1L145.7,566.6M70.3,568.3L73.6,571.4M77.9,569.7L82.8,569.2M81.2,566.7L84.5,569.9M123.4,568.7L126.5,568.6M129.5,568.8L134.2,568.3M142.8,568.6L140.4,571.2M66.3,571.2L71.1,571.9M74.8,569.9L77.2,572.8M75.4,571.5L79.5,571.3M80.8,570.6L84.9,570.3M82.7,569.6L85.5,572.1M116.5,570.4L119.1,573.1M124.3,570.0L121.9,572.5M126.0,569.9L123.3,572.7M130.7,569.5L127.5,572.4M133.6,570.6L137.0,570.7M137.9,569.9L135.8,572.2M137.6,571.9L142.2,571.6M143.4,569.0L140.0,572.1M69.9,574.5L73.3,574.1M74.3,573.9L78.4,573.4M115.9,573.3L120.1,573.7M118.1,572.8L121.7,573.1M124.9,571.4L127.9,573.8M133.4,572.5L131.4,575.0M143.0,571.4L140.3,575.0M141.4,573.4L146.0,573.1M148.3,572.5L145.0,575.5M118.4,575.3L121.7,575.7M121.2,575.1L123.7,577.9M128.8,574.9L132.3,575.1M133.5,574.2L136.4,577.8M139.4,574.2L136.9,577.4M140.6,574.7L137.9,576.9M122.1,575.9L118.4,579.1M124.6,578.3L129.4,577.9M140.2,580.3L143.3,580.4M145.8,578.1L142.6,580.5M134.4,581.3L131.9,583.3M135.7,580.8L138.8,583.7M142.9,582.2L147.2,582.2M119.9,583.9L123.8,584.3M125.2,584.4L129.0,584.4M127.2,583.9L131.5,583.6M135.1,585.3L140.0,585.5M142.1,582.5L138.9,585.6M142.1,583.5L144.7,585.7M149.8,582.2L146.5,586.0M121.2,584.6L124.2,587.6M123.5,586.9L128.4,587.1M138.0,586.6L142.2,586.1M142.9,585.0L140.2,588.4M145.1,585.4L148.2,589.2M126.3,587.2L128.6,589.5M128.0,588.6L132.6,588.3M140.7,588.3L144.8,588.8M143.1,589.2L146.1,589.2M143.5,589.8L148.3,589.8M136.9,591.8L140.0,591.8M138.5,590.5L142.8,589.9M143.0,589.6L139.5,593.0M134.6,593.8L139.2,593.4" stroke="#f6f670" stroke-width="1.4" stroke-linecap="round" fill="none"/>
<path d="M93.7,523.8L97.6,523.6M104.2,521.5L101.3,524.9M106.7,521.8L103.7,524.6M92.5,524.4L96.1,524.6M97.8,525.4L102.0,525.7M100.6,524.5L105.2,524.2M92.5,525.7L95.4,528.2M101.1,526.5L98.8,528.7M100.2,527.6L104.8,527.8M103.5,527.6L106.9,527.8M113.1,525.8L111.0,528.4M87.0,530.5L91.5,530.1M101.5,527.7L98.2,530.7M94.7,531.2L98.6,531.4M96.9,530.8L99.3,534.0M104.2,529.3L100.7,532.8M108.8,531.1L112.3,534.0M88.3,532.1L85.5,534.6M99.6,533.5L104.4,533.4M105.0,533.4L102.6,535.6M113.4,533.1L110.6,535.6M117.0,533.5L114.8,535.9M86.1,534.6L83.1,537.0M87.1,536.2L90.2,536.0M98.3,535.1L96.3,537.6M98.8,535.7L103.2,535.8M101.3,536.3L104.6,536.6M109.7,534.6L112.8,538.2M115.2,534.4L112.1,538.1M114.9,535.5L117.5,537.5M119.3,536.7L124.1,536.1M78.7,536.8L81.5,539.1M86.2,537.7L90.6,537.7M92.4,537.4L96.1,540.5M99.6,538.0L103.4,537.8M105.6,537.5L102.7,540.3M106.2,539.1L110.6,538.9M113.1,537.4L109.3,540.4M116.5,538.7L120.4,538.4M120.1,538.7L123.5,539.0M74.2,540.4L78.1,540.1M84.9,541.6L89.7,541.0M88.5,539.5L90.6,542.1M91.8,539.8L95.8,539.6M102.5,540.8L106.0,541.0M106.5,539.8L108.7,542.3M107.2,539.8L110.7,540.1M117.9,541.3L122.7,540.8M68.3,542.5L70.7,544.4M72.9,542.3L70.7,544.5M82.9,541.6L86.9,542.0M90.6,542.1L95.1,542.4M96.2,543.0L99.5,542.7M101.7,542.2L105.7,542.5M109.5,541.1L112.4,543.3M110.5,542.6L114.6,542.2M116.3,541.5L119.3,544.8M124.3,540.6L121.5,543.3M63.2,544.2L66.5,544.5M68.8,543.0L71.7,546.9M73.8,543.0L70.6,546.2M74.0,545.1L77.9,544.9M80.8,545.4L84.2,545.0M86.4,544.0L83.7,546.3M89.2,544.8L92.6,545.0M91.9,544.6L95.4,544.4M97.9,543.2L94.8,546.0M95.6,545.6L99.2,545.9M99.8,545.7L104.1,545.2M106.4,544.7L110.8,544.3M121.1,542.8L118.5,545.9M123.9,545.5L128.5,546.0M129.2,543.6L131.6,545.6M68.1,546.9L71.2,546.9M70.8,546.0L75.3,546.5M82.5,545.8L79.5,548.8M85.7,546.3L89.8,546.3M91.2,547.2L95.5,547.0M103.7,545.7L100.8,549.0M106.3,546.5L110.9,546.3M113.4,547.5L117.2,547.8M120.5,546.1L125.1,546.5M127.6,546.7L130.6,546.9M129.5,546.4L132.8,546.3M134.4,546.9L137.7,546.8M135.2,547.2L138.7,546.8M63.0,548.6L66.1,551.7M69.3,548.5L72.3,548.9M75.9,548.0L72.5,551.4M78.9,548.6L82.7,548.6M87.2,549.7L91.0,550.0M92.6,549.9L96.2,550.1M104.3,549.6L108.7,549.3M125.4,548.0L128.6,551.0M138.0,548.9L140.6,551.3M139.3,549.8L144.1,549.5M142.4,547.0L145.7,550.4M144.6,549.1L147.8,549.2M65.8,551.7L69.6,551.3M68.1,550.6L72.3,550.8M71.9,551.2L74.7,553.4M77.9,550.5L81.7,550.7M85.1,550.5L88.7,550.7M92.3,551.6L96.1,551.6M110.7,549.8L107.8,552.0M109.2,552.3L112.9,551.9M114.5,550.4L112.3,552.8M127.3,551.5L131.6,551.8M62.7,553.4L66.2,553.8M67.7,553.6L72.4,553.7M69.6,553.6L73.5,553.1M81.2,552.0L78.3,555.7M81.3,554.2L85.7,554.2M82.3,552.9L85.5,553.0M97.7,552.3L101.5,555.5M109.0,551.7L105.5,554.4M110.4,554.2L113.4,554.2M121.3,551.6L124.3,554.3M123.3,552.9L128.3,553.3M134.3,553.0L132.0,555.9M138.5,552.1L136.0,554.3M138.5,554.7L141.8,554.3M141.3,553.3L143.3,555.7M148.1,552.4L145.7,555.1M64.4,555.3L67.4,557.8M64.5,556.5L69.3,556.9M71.1,554.4L73.8,556.9M82.8,554.6L79.5,557.2M91.5,555.6L96.3,555.3M95.7,555.4L98.7,555.4M103.1,556.0L106.4,555.6M121.7,555.7L125.6,555.8M125.7,555.6L128.7,555.5M147.3,553.2L150.4,556.9M66.4,557.4L63.0,560.4M83.2,557.7L88.1,557.7M87.0,557.6L90.2,560.4M90.1,558.6L93.2,558.8M96.1,557.1L92.9,560.0M114.2,557.4L118.0,557.4M121.5,558.5L126.4,558.1M127.9,557.6L130.8,559.8M129.4,558.4L133.0,558.2M133.0,559.0L136.1,558.9M138.3,558.4L141.9,558.8M68.9,558.6L66.1,561.7M67.6,559.1L70.0,561.2M70.3,558.9L72.7,561.9M85.3,559.2L88.4,561.9M95.5,561.0L99.6,561.4M97.5,560.8L101.5,561.1M100.7,561.0L104.6,561.0M102.8,560.4L107.7,561.0M109.6,559.3L113.6,559.5M116.7,557.9L113.5,561.3M118.7,560.5L122.1,560.0M125.4,560.0L129.1,560.4M127.3,560.9L130.9,561.4M140.8,559.1L137.6,562.5M70.7,561.4L67.7,564.7M71.7,562.2L75.4,562.3M79.7,561.2L76.2,564.4M81.6,561.3L79.4,564.1M88.4,560.6L84.7,563.8M98.6,562.8L101.6,562.6M123.0,561.1L125.5,563.2M136.3,560.8L139.9,563.8M69.2,564.3L74.1,564.6M77.2,563.3L74.4,565.7M76.8,562.5L79.4,565.7M89.5,563.8L91.7,566.5M92.7,563.3L95.7,567.0M112.2,565.3L115.6,565.0M113.4,564.3L116.7,564.1M127.3,565.4L130.8,565.4M134.1,565.1L138.0,565.0M139.2,563.2L136.6,566.3M138.2,563.8L142.3,564.1M142.2,565.0L145.3,564.9M68.2,566.4L71.4,566.1M71.9,564.8L75.1,568.1M78.9,565.2L75.7,567.7M89.1,567.3L92.8,567.3M94.6,565.1L92.0,567.6M117.3,566.2L121.1,566.4M123.8,566.8L128.4,567.4M133.9,566.1L138.2,566.0M139.0,564.8L141.7,567.4M69.3,568.1L66.4,571.1M74.9,569.7L78.1,569.7M75.8,568.7L80.3,568.2M84.0,568.8L87.3,568.9M86.4,567.9L88.9,571.0M116.0,568.1L119.7,568.4M123.2,567.5L119.8,570.9M124.8,569.0L128.6,568.9M126.4,568.5L130.3,568.7M132.8,568.8L137.0,568.6M143.1,568.4L145.4,570.7M70.0,571.3L73.5,570.9M118.0,571.4L122.0,571.7M72.3,573.4L75.5,572.9M126.8,573.5L130.3,573.1M129.4,573.8L132.4,573.7M133.8,572.6L137.4,572.7M122.0,576.5L126.8,575.9M129.4,575.3L127.3,577.6M131.7,574.9L135.5,575.2M140.0,574.8L142.8,578.0M144.5,575.1L148.1,575.0M125.4,576.4L123.1,578.8M126.9,576.3L130.4,579.2M142.1,576.0L145.8,578.9M148.0,575.8L145.8,578.3M145.9,578.5L150.9,578.9M126.0,578.5L122.8,582.2M130.8,580.4L134.9,580.4M133.1,580.4L136.9,580.3M135.4,579.2L139.6,579.4M138.2,579.6L142.4,579.6M120.8,582.6L124.7,582.5M129.2,582.2L132.3,582.2M138.6,580.8L141.2,582.8M139.2,581.6L143.6,582.2M145.3,581.7L147.4,584.1M128.6,584.2L133.1,584.1M130.7,585.2L134.6,585.3M138.8,584.5L143.5,584.4M148.1,583.1L145.3,586.3M126.8,586.2L129.5,588.4M128.8,586.0L133.2,586.1M135.2,586.3L132.7,588.5M123.0,588.4L127.0,588.5M126.9,588.3L130.9,588.2M131.2,589.4L135.3,589.4M135.6,589.0L139.4,589.4M128.2,591.4L132.9,590.8M133.1,592.1L137.3,591.6M142.4,589.1L145.2,592.5M140.1,590.6L143.3,594.3" stroke="#e8e850" stroke-width="1.4" stroke-linecap="round" fill="none"/>
<path d="M95.9,521.0L98.5,524.0M98.5,522.9L101.9,522.8M105.7,522.3L108.3,524.6M102.5,524.7L106.9,524.2M104.7,523.9L108.0,526.7M108.8,525.4L112.5,525.4M86.3,525.6L88.8,528.5M89.1,526.5L92.9,526.4M105.0,527.0L109.3,526.9M89.4,529.1L91.8,531.3M98.3,527.0L95.0,530.4M104.0,528.7L101.1,531.5M104.6,527.5L102.8,529.9M105.3,528.9L109.8,528.7M107.7,528.6L110.7,531.0M112.2,527.8L108.6,530.6M82.4,532.3L85.8,532.4M89.2,530.8L86.1,534.1M94.3,530.6L91.3,533.7M114.6,530.2L117.6,533.0M94.4,532.2L92.3,534.7M94.1,534.4L98.3,534.1M99.1,533.0L102.3,533.1M104.5,533.5L108.7,533.6M95.6,534.7L92.3,537.7M103.8,534.7L107.1,537.3M104.8,535.5L107.5,538.4M107.1,536.8L111.5,537.2M115.6,535.9L119.7,535.3M118.5,535.1L120.7,538.0M79.3,536.4L76.6,539.3M84.0,536.1L86.5,539.1M96.9,536.6L94.1,539.1M100.6,537.5L97.0,540.2M99.2,537.4L103.0,537.5M104.6,537.1L107.7,540.2M112.0,537.7L115.4,537.5M121.7,536.2L118.5,539.1M122.3,538.9L127.0,539.4M127.5,537.4L125.1,540.1M75.6,540.3L80.5,539.9M98.3,539.0L95.0,541.6M100.4,540.8L104.1,540.5M116.3,539.8L121.0,540.3M122.9,540.0L127.6,540.0M66.4,541.8L69.0,543.9M78.0,542.0L74.2,545.1M77.0,542.2L80.6,542.0M88.4,540.8L91.6,543.5M93.4,540.5L97.0,543.6M101.3,540.7L99.1,543.0M107.2,543.2L111.9,543.8M125.8,542.2L128.9,541.8M75.9,543.9L73.2,546.2M80.7,544.0L78.3,546.5M99.8,544.6L102.0,546.8M106.1,543.1L103.7,545.9M105.0,545.0L109.7,544.9M114.2,543.2L117.9,546.2M125.5,543.1L123.5,545.3M69.9,546.3L73.6,546.5M73.5,547.8L77.3,547.9M77.4,546.5L80.5,546.2M80.2,547.7L83.8,548.0M89.1,547.8L93.5,547.9M96.5,546.4L100.1,546.4M102.5,547.6L107.3,548.1M108.3,546.9L112.5,546.8M125.8,546.0L123.4,548.7M124.4,545.9L127.8,548.7M141.4,545.5L139.2,547.7M67.9,547.2L65.8,549.9M73.9,550.2L77.6,550.0M79.8,550.1L84.3,549.7M85.1,549.1L89.0,548.9M92.9,547.3L90.4,549.9M97.7,547.4L94.5,551.0M96.9,548.8L101.8,548.8M115.0,549.3L119.9,549.2M123.1,548.4L126.9,548.6M70.1,550.5L73.4,553.7M79.6,550.6L77.4,553.6M80.8,551.1L84.4,551.4M83.1,552.0L87.5,552.4M87.6,552.3L92.1,552.5M89.9,552.4L94.0,551.8M95.5,550.5L97.8,553.1M97.0,549.4L99.5,552.4M99.3,551.2L104.0,550.9M101.9,551.5L106.3,552.1M105.3,551.4L109.5,551.6M116.5,549.6L119.5,553.4M117.7,551.1L121.7,551.1M120.1,550.9L124.0,550.6M129.4,550.3L132.5,553.9M132.6,550.0L135.3,553.2M143.0,550.1L145.6,553.0M145.8,550.5L148.5,554.0M149.0,550.9L146.4,553.6M76.7,553.8L81.4,553.4M86.0,550.9L89.0,554.7M92.2,552.2L89.6,554.5M94.3,554.7L97.4,554.3M100.8,554.6L104.4,554.1M102.7,551.9L105.8,555.3M107.3,552.6L112.0,553.1M111.3,554.0L115.6,553.5M116.1,554.1L120.6,554.1M118.4,553.6L121.5,553.3M122.6,553.5L125.9,553.7M126.7,552.6L129.2,554.8M146.1,553.0L143.9,555.3M80.2,556.2L85.0,556.4M84.9,554.1L88.0,557.8M92.4,554.1L89.4,557.7M93.6,556.7L97.2,556.3M104.4,555.7L108.0,556.2M111.1,555.4L114.6,555.3M114.3,555.3L116.8,557.4M131.1,555.2L135.9,555.1M137.8,555.8L141.7,556.2M141.1,555.9L144.4,555.6M143.1,554.5L146.3,557.6M145.0,555.2L148.3,554.8M68.7,556.4L70.8,559.0M76.1,556.8L72.8,560.1M75.8,556.2L77.9,558.8M85.0,557.5L88.5,557.7M94.3,558.7L97.6,558.7M98.6,557.1L96.0,559.5M98.3,558.2L102.3,558.6M107.7,556.7L105.5,559.1M107.7,559.0L111.2,558.5M109.6,557.6L113.0,557.5M112.1,558.6L115.7,558.3M139.7,556.3L137.2,559.3M140.3,557.1L143.9,560.3M67.2,559.5L64.3,562.2M74.6,559.5L78.7,559.9M77.5,560.4L82.5,561.0M83.9,558.7L81.1,560.9M82.4,558.2L85.9,561.7M89.4,558.4L87.3,560.6M91.8,559.6L89.7,561.9M107.8,559.4L110.6,562.3M110.7,559.6L114.6,562.6M120.1,559.0L123.1,562.3M125.9,558.9L122.9,562.1M131.2,559.2L134.0,561.9M132.9,560.9L137.2,560.8M134.7,559.7L139.6,559.2M63.5,561.0L66.5,563.8M64.9,563.5L68.6,563.2M72.9,562.6L77.4,562.1M90.6,562.4L94.0,562.3M94.7,561.8L92.2,563.9M109.4,561.9L111.6,564.0M113.5,560.7L116.0,563.0M125.1,563.3L129.6,563.3M127.1,563.0L131.2,562.8M131.7,562.9L135.5,562.4M132.8,563.1L136.5,563.1M141.9,561.4L139.5,564.1M140.2,562.4L143.5,562.1M65.0,565.3L68.9,565.3M67.4,563.9L71.4,563.7M81.7,563.9L85.2,566.8M84.4,565.5L88.9,565.2M119.1,564.0L116.5,566.4M117.4,564.2L121.4,563.8M120.5,564.2L125.5,564.5M128.0,564.4L132.4,564.6M131.7,564.3L134.8,564.2M141.3,564.7L144.4,565.0M74.2,565.3L77.6,569.0M83.1,564.9L85.4,567.2M85.1,566.3L89.8,565.9M90.4,566.2L87.4,569.2M114.5,564.9L117.9,568.1M120.0,566.9L123.8,566.7M135.4,565.9L138.8,566.1M68.3,567.3L71.2,570.3M72.4,569.9L75.4,570.0M87.0,569.6L90.3,569.7M113.2,568.2L118.1,568.5M119.3,568.5L121.6,570.6M131.5,568.4L134.6,571.2M135.0,569.7L138.6,570.1M140.7,566.8L138.0,570.1M65.6,571.3L69.9,571.3M71.4,571.5L75.3,571.0M79.4,571.2L82.7,571.5M124.3,571.1L128.9,571.7M129.3,570.4L132.3,573.8M131.8,571.6L136.2,571.4M142.3,570.8L146.7,571.1M144.0,571.8L148.3,571.7M67.8,571.3L65.1,574.6M68.1,571.6L70.8,574.7M120.0,571.7L123.1,575.4M121.7,574.0L126.6,574.1M136.0,571.3L139.0,575.1M141.5,571.8L139.1,574.8M124.7,575.0L129.5,574.9M142.1,576.3L145.6,575.8M120.4,578.6L124.6,578.9M132.0,576.6L128.7,580.0M130.9,577.7L135.0,577.4M134.0,576.7L137.4,580.1M138.5,576.2L136.4,578.8M138.5,578.3L142.5,578.8M143.0,575.8L139.6,579.2M118.2,578.6L120.3,580.8M122.8,577.6L119.9,581.0M125.3,580.3L129.3,579.8M126.3,580.1L131.2,580.2M128.7,580.3L132.1,580.1M145.0,578.8L148.1,582.2M147.5,579.1L150.8,582.0M122.4,581.7L124.9,583.9M127.4,580.3L124.5,583.2M126.5,582.1L129.5,582.2M133.9,583.1L138.5,582.7M146.6,582.0L150.9,581.9M121.6,584.2L125.9,583.8M132.7,582.2L136.3,585.1M123.3,587.4L127.3,586.9M136.0,584.7L133.3,588.0M134.9,586.4L139.6,587.0M142.1,585.7L146.7,586.4M134.9,587.7L137.6,589.9M137.6,587.1L141.3,590.5M131.9,591.6L136.1,591.8M138.0,592.0L141.1,594.8" stroke="#f2f25a" stroke-width="1.4" stroke-linecap="round" fill="none"/>
<path d="M98.6,525.5L96.8,527.3M103.8,528.4L101.7,530.1M110.4,529.1L112.9,529.1M103.7,532.2L106.6,532.0M81.5,535.2L83.6,535.4M89.7,533.6L87.1,536.5M111.6,532.8L109.8,534.2M82.9,536.8L86.6,537.2M86.9,538.7L89.8,539.0M105.5,537.2L103.1,539.2M111.0,538.4L114.2,538.7M127.7,538.3L125.9,540.4M71.3,541.8L74.6,542.0M74.0,540.9L77.0,543.2M79.6,541.7L82.5,542.0M92.8,539.7L90.2,542.5M96.6,541.8L94.1,544.8M107.0,541.4L110.5,541.8M114.7,540.8L112.2,543.9M126.2,540.9L124.6,542.9M84.0,543.7L85.9,546.0M85.4,545.0L87.5,545.1M95.1,543.6L92.8,545.6M101.3,543.9L103.5,546.1M106.8,544.8L109.7,547.3M122.0,544.6L124.1,546.3M83.4,547.3L85.6,549.3M89.6,547.3L87.1,550.0M93.0,547.6L90.2,550.3M95.6,549.4L93.4,551.2M100.3,549.3L103.9,549.1M107.5,547.6L111.4,547.8M115.8,548.7L118.2,550.7M119.6,548.2L117.7,550.0M131.1,547.4L132.7,548.7M136.3,547.4L139.1,547.6M139.5,548.7L142.3,548.8M64.2,553.4L67.9,553.2M76.0,553.0L79.7,552.5M95.0,551.9L96.4,553.7M96.5,551.7L99.1,552.0M101.8,553.0L103.9,553.2M108.6,552.4L111.2,552.4M112.7,553.6L115.8,553.2M124.3,552.6L127.2,555.2M141.9,551.5L140.2,553.5M145.1,551.8L148.5,551.3M63.0,554.0L65.0,555.5M69.9,553.5L71.4,555.4M76.6,553.5L79.1,555.9M80.5,556.7L83.2,556.5M82.1,556.5L85.6,556.5M95.9,554.6L93.7,556.4M112.1,555.7L114.4,555.5M113.8,556.4L116.5,556.6M126.8,556.3L128.5,558.0M129.5,555.7L132.1,557.8M130.7,557.0L134.3,556.6M133.5,554.8L137.0,554.8M140.2,555.6L137.3,557.9M67.6,558.0L71.6,558.0M71.5,559.5L73.5,561.6M93.5,559.6L95.6,562.2M103.5,560.4L106.7,560.6M107.2,558.6L109.1,560.5M113.6,558.9L111.6,560.5M121.3,560.5L124.7,560.9M140.2,557.5L141.7,559.1M72.0,563.9L75.0,564.1M80.1,561.7L83.0,564.4M84.9,563.0L82.8,565.5M92.8,562.7L91.2,564.2M94.8,562.2L97.0,562.2M102.0,560.8L100.6,562.2M102.9,561.5L105.7,561.4M111.2,563.0L114.1,562.9M117.2,561.2L115.0,563.5M118.0,563.0L120.9,563.4M135.7,562.0L138.0,562.2M62.9,565.1L65.6,565.2M76.4,564.3L78.1,565.6M81.3,564.4L79.0,567.3M85.2,566.4L83.0,568.7M128.1,565.9L130.5,568.7M137.4,567.2L140.6,566.8M75.5,567.9L73.7,569.4M74.1,571.6L77.1,571.3M85.2,569.4L87.8,569.1M121.9,569.2L119.2,571.3M74.4,573.9L76.7,573.9M134.4,572.9L132.5,574.8M118.7,576.1L121.2,578.6M136.6,576.3L138.7,576.6M142.7,575.6L145.0,577.8M129.7,579.1L131.9,579.3M128.6,584.1L131.8,584.3M132.7,582.7L136.4,582.9M142.3,584.6L144.3,584.4M124.7,587.5L126.7,587.3M133.0,585.5L134.9,587.8M138.9,587.5L136.5,590.3" stroke="#70702a" stroke-width="0.8" stroke-linecap="round" fill="none"/>
<path d="M96.9,522.8L101.2,523.0M99.6,523.8L103.6,524.3M89.9,527.7L94.0,528.0M95.4,526.8L102.1,526.9M98.7,525.8L103.4,526.3M102.2,527.1L108.7,527.3M89.8,528.7L96.0,528.3M94.7,528.5L100.8,529.3M108.1,529.1L112.7,528.7M87.2,529.7L87.1,535.2M102.1,529.5L102.8,536.0M105.8,530.0L105.8,534.0M105.9,533.3L112.0,532.8M110.2,529.4L109.6,534.1M79.9,535.8L86.0,535.5M85.1,535.4L90.3,536.0M88.5,535.1L91.6,534.7M92.2,536.9L97.4,536.3M94.9,536.5L100.3,536.9M99.3,536.8L103.0,536.4M108.3,535.4L114.9,535.1M113.2,535.5L118.2,535.7M84.2,539.0L88.6,539.1M92.0,538.3L95.8,538.4M95.6,537.7L100.1,538.0M99.6,539.2L104.1,538.9M102.3,539.8L108.6,539.6M109.5,539.9L113.3,539.5M116.5,538.9L121.3,538.4M122.2,537.4L128.7,537.7M65.3,540.3L65.0,544.4M72.7,539.0L71.9,545.6M71.9,542.3L76.3,542.9M79.5,542.3L84.4,542.2M83.0,539.6L82.9,543.6M88.3,541.0L93.4,541.3M91.2,541.0L94.2,540.7M94.7,540.3L98.3,540.7M99.0,539.0L99.3,542.4M101.8,539.3L102.0,546.0M108.2,541.6L113.7,542.0M110.8,542.4L117.4,542.9M115.5,542.7L118.9,543.0M119.2,537.8L119.4,544.5M119.7,541.0L126.2,541.7M64.9,543.2L65.1,547.1M69.8,545.4L74.1,545.7M73.3,544.1L78.0,544.6M80.4,541.3L80.2,546.2M87.5,543.7L92.5,543.5M97.0,543.2L97.0,548.0M99.0,545.4L103.7,545.5M102.8,544.7L107.4,545.0M104.0,544.0L110.0,544.3M108.7,545.8L113.3,546.0M113.8,543.8L118.9,543.3M119.2,542.4L119.9,547.9M66.3,548.7L71.1,548.7M76.7,548.7L80.9,548.1M81.3,545.9L81.6,549.6M85.3,547.0L88.8,547.0M87.0,548.4L92.1,548.9M93.0,548.1L99.8,548.2M98.5,545.4L98.8,549.9M101.9,547.7L108.6,547.8M106.3,549.1L109.3,548.7M110.1,544.7L110.4,548.8M116.7,546.5L116.5,550.4M119.9,546.8L123.8,546.6M124.4,544.5L125.0,549.4M131.6,545.9L131.8,549.6M134.3,547.7L140.1,547.8M69.5,550.7L74.8,550.8M77.2,549.6L82.2,550.2M87.5,549.7L87.5,552.9M87.2,551.0L90.3,550.8M98.7,550.6L103.5,550.4M111.9,549.4L117.9,549.7M116.7,551.2L122.5,551.5M122.7,551.6L128.8,551.4M132.6,550.3L135.9,550.3M137.5,547.9L138.3,553.8M140.2,547.1L140.2,553.4M63.9,554.0L69.9,553.1M66.5,553.7L70.1,553.7M69.0,554.5L73.7,554.6M78.0,552.6L82.2,552.8M83.5,554.8L88.0,554.7M89.2,551.3L89.0,554.4M92.5,553.6L98.3,552.9M95.4,552.6L99.9,552.5M99.9,552.8L104.4,553.2M101.9,554.2L106.7,554.2M114.4,554.4L118.1,554.3M125.3,553.9L128.5,553.9M126.1,552.6L131.6,552.5M132.7,552.1L133.0,555.5M141.5,554.9L145.1,554.7M148.4,550.3L148.9,554.9M67.1,556.2L72.8,556.9M107.6,553.3L107.6,559.0M124.7,556.3L128.8,556.0M126.0,555.5L130.1,555.8M131.8,557.5L136.7,557.5M136.7,556.2L140.7,555.9M139.8,557.7L144.1,557.9M59.9,559.7L66.1,560.5M71.5,558.1L71.2,562.1M74.6,556.6L75.1,561.3M75.4,560.6L81.6,560.1M79.8,557.6L80.1,563.3M95.9,556.4L96.4,562.0M101.2,558.3L106.8,558.8M107.2,556.7L107.2,562.2M109.2,558.8L112.9,558.4M115.3,558.7L120.2,558.9M127.4,559.0L131.4,558.9M134.4,557.0L134.0,561.5M139.8,558.8L143.1,558.4M62.2,563.2L68.0,562.8M64.9,562.9L70.9,563.3M68.9,561.6L74.5,562.2M114.7,561.6L120.7,562.1M120.0,559.0L120.6,564.4M123.2,562.1L126.7,562.0M126.6,562.9L133.2,563.0M138.6,562.7L145.2,563.0M63.3,564.4L67.8,564.7M69.8,564.1L69.4,569.1M80.1,565.4L86.8,565.7M86.3,565.5L92.0,565.6M112.3,564.3L115.9,564.7M113.4,565.4L119.5,565.7M129.1,566.6L136.1,566.8M130.7,566.5L137.2,565.6M142.6,562.8L142.6,566.6M68.4,567.8L74.1,567.5M75.5,569.2L81.1,568.4M80.4,568.4L87.3,567.5M84.1,569.6L88.6,569.3M87.3,567.9L92.5,567.3M113.8,568.8L118.6,568.8M132.5,565.8L132.3,571.8M68.1,571.3L71.2,571.2M68.4,573.0L73.8,572.2M75.5,567.1L75.8,573.9M126.0,572.1L130.6,572.3M132.8,568.4L132.8,573.2M117.5,575.5L123.1,575.8M122.6,573.2L122.3,578.6M121.6,573.8L128.3,573.5M129.3,576.1L135.0,575.6M138.8,573.7L144.7,573.4M120.5,577.9L125.6,577.7M122.4,577.0L129.1,577.0M130.2,578.8L133.2,578.9M131.3,579.0L137.2,578.7M140.0,576.9L145.6,576.6M142.9,577.8L148.4,578.2M120.4,580.5L126.0,580.7M124.2,580.1L129.5,580.4M131.4,580.4L137.7,581.0M146.7,580.8L151.3,580.9M122.1,584.7L125.4,585.1M125.9,579.7L126.1,586.2M124.8,583.0L131.2,583.8M121.2,586.1L126.5,586.3M126.0,586.9L132.4,587.4M128.7,585.9L134.8,585.9M137.8,582.6L138.1,589.2M140.4,586.7L143.5,586.7M140.2,587.1L146.7,587.8M137.4,591.9L142.8,592.1" stroke="#ffffff" stroke-width="0.7" stroke-linecap="round" fill="none"/>
<path d="M75.5,540.7L80.0,540.6M83.2,539.8L86.5,540.0M75.7,543.1L78.8,543.0M79.4,544.0L84.6,543.7M84.7,543.8L88.7,543.4M89.7,543.6L95.4,543.7M67.2,545.7L72.2,545.2M78.0,546.4L81.2,546.2M81.2,546.3L84.6,546.4M92.7,545.1L96.6,545.4M95.4,545.6L98.7,545.7M70.5,548.7L74.6,548.6M89.5,548.7L94.5,548.5M93.1,548.3L98.5,548.1M66.8,550.7L70.5,550.2M74.9,551.3L80.2,551.4M78.6,551.8L81.7,551.8M79.5,550.6L83.7,550.3M83.3,551.8L86.7,551.5M84.1,550.9L89.2,550.2M90.8,551.2L94.5,551.3M93.5,551.3L97.2,551.4M72.6,552.7L77.5,552.9M98.1,553.0L101.6,553.5M65.3,555.7L69.3,555.6M74.9,555.8L78.4,555.6M83.7,556.3L89.6,555.8M87.6,556.1L91.7,555.8M98.3,556.9L102.7,556.3M101.0,557.1L104.5,556.6M71.9,558.9L76.5,559.5M90.5,559.3L95.7,559.1M92.6,558.5L96.8,558.5M100.0,557.8L105.4,558.3M62.3,562.0L66.6,562.4M63.1,560.9L69.0,561.6M69.7,560.8L74.5,561.0M71.6,561.8L77.3,561.4M87.2,562.0L93.2,562.0M69.5,563.3L72.7,563.7M73.4,565.0L79.0,564.4M76.6,564.7L82.5,563.9M79.4,563.2L84.6,563.3M86.5,563.8L89.8,563.7M92.6,563.6L96.3,563.3M63.5,566.2L69.0,565.5M68.0,567.4L71.9,567.0M70.1,566.8L73.5,566.4M71.9,567.5L77.1,567.2M81.8,565.7L87.5,566.2M86.5,567.1L89.7,566.8M65.3,568.9L68.4,568.8M79.5,569.7L84.8,569.7M68.9,571.2L74.4,571.3" stroke="#6a6a28" stroke-width="0.6" stroke-linecap="round" fill="none"/>
<defs><clipPath id="clip5"><rect x="209.6" y="490.6" width="123.1" height="122.2"/></clipPath></defs><g clip-path="url(#clip5)">
<defs><linearGradient id="g5" x1="1" y1="0" x2="0" y2="1"><stop offset="0" stop-color="#d4d450"/><stop offset="0.5" stop-color="#b8b840"/><stop offset="1" stop-color="#909030"/></linearGradient></defs>
<path d="M216.5,492.5 L331.5,492.5 L331.0,580.0 L332.8,600.0 L332.8,613.0 L209.5,613.0 L211.0,595.0 L214.0,560.0 L215.5,520.0Z" fill="url(#g5)"/>
<path d="M216.3,493.0L218.4,495.1M219.7,492.6L219.7,496.1M221.7,493.1L223.6,495.0M226.1,492.5L228.7,495.1M228.7,494.0L231.4,494.0M232.0,492.8L234.4,495.2M235.7,492.5L235.7,495.8M237.1,493.0L239.8,495.8M239.9,493.1L241.8,495.0M243.3,492.2L243.3,495.5M244.6,493.2L246.6,495.2M249.6,492.8L252.4,495.6M251.9,494.1L255.5,494.1M254.5,494.3L258.0,494.3M257.6,493.1L259.7,495.2M260.6,493.2L262.6,495.1M262.9,493.2L265.0,495.3M266.4,492.6L266.4,496.2M273.1,494.2L275.8,494.2M275.7,494.0L279.1,494.0M277.8,494.2L281.2,494.2M282.4,492.0L282.4,495.4M284.7,493.0L284.7,495.8M287.6,492.3L287.6,495.2M289.2,492.5L291.8,495.1M296.2,492.4L298.8,495.0M300.6,492.6L300.6,496.1M302.2,492.5L304.7,495.0M307.2,493.8L309.9,493.8M310.8,492.9L310.8,495.7M311.7,493.8L315.4,493.8M314.4,492.6L317.2,495.3M317.5,492.6L319.9,495.0M321.4,492.8L321.4,495.9M322.7,494.0L325.7,494.0M326.5,492.5L326.5,496.3M328.1,493.1L330.4,495.3M216.2,495.4L218.6,497.9M218.8,496.5L221.7,496.5M222.2,495.0L222.2,498.5M225.1,494.9L225.1,497.8M227.3,495.4L227.3,498.0M228.8,495.7L231.5,498.3M230.8,496.8L234.7,496.8M234.9,495.9L236.8,497.8M236.6,497.1L239.8,497.1M239.1,495.0L241.9,497.8M242.1,495.4L244.2,497.4M244.6,496.7L247.7,496.7M247.7,495.8L249.8,497.9M250.0,496.6L252.8,496.6M252.6,496.6L255.2,496.6M255.0,495.7L257.8,498.5M257.6,496.6L260.4,496.6M259.7,496.4L263.5,496.4M265.4,495.4L268.0,497.9M268.0,495.7L270.8,498.5M271.0,495.6L273.5,498.2M273.1,496.3L276.4,496.3M278.4,495.7L280.9,498.2M281.1,496.1L283.1,498.1M283.8,495.4L286.5,498.2M286.2,496.5L288.9,496.5M292.5,495.5L292.5,498.5M294.1,495.4L296.5,497.8M296.0,496.7L299.9,496.7M300.9,494.9L300.9,498.0M301.8,495.6L303.8,497.6M304.5,495.5L306.7,497.7M310.0,495.3L312.3,497.6M316.4,495.2L316.4,498.3M319.0,495.4L319.0,498.4M321.4,495.0L321.4,498.5M322.6,495.8L325.2,498.3M329.2,494.7L329.2,498.1M215.9,497.8L218.7,500.6M222.7,497.6L222.7,500.5M223.9,498.1L225.9,500.2M226.7,497.8L229.5,500.6M232.8,497.3L232.8,501.2M234.6,498.1L236.9,500.4M236.5,499.0L240.2,499.0M239.2,498.0L241.9,500.7M245.0,497.8L247.5,500.4M247.2,499.0L250.3,499.0M249.6,499.3L253.0,499.3M253.8,497.8L253.8,501.1M254.7,499.1L257.9,499.1M257.7,498.2L260.0,500.6M259.7,499.6L262.5,499.6M265.8,498.4L268.1,500.8M267.4,499.2L271.1,499.2M271.1,498.0L273.5,500.3M278.8,498.3L281.0,500.4M281.2,498.6L283.1,500.6M283.7,499.0L286.6,499.0M287.9,497.9L287.9,500.9M291.2,498.2L293.5,500.5M294.0,498.7L295.9,500.6M296.6,498.2L299.3,500.9M298.2,499.6L302.1,499.6M303.2,498.1L303.2,501.2M304.3,498.1L307.1,500.9M307.3,497.6L310.0,500.3M312.0,497.9L314.6,500.5M315.8,497.7L315.8,501.5M317.3,498.2L319.3,500.2M319.9,498.6L322.1,500.7M322.7,498.2L325.2,500.8M329.2,498.1L329.2,500.7M221.5,501.0L223.4,502.8M224.0,501.8L227.0,501.8M227.6,500.7L227.6,503.6M231.8,501.2L233.9,503.3M234.0,500.2L236.8,503.0M239.5,500.9L242.0,503.4M243.6,500.5L243.6,503.0M244.6,501.1L246.8,503.3M247.4,500.7L249.9,503.2M249.8,502.2L253.0,502.2M252.3,501.1L254.5,503.3M256.4,500.0L256.4,503.4M257.9,501.8L260.4,501.8M264.7,502.1L268.7,502.1M270.6,502.0L273.3,502.0M273.2,500.8L275.8,503.5M275.9,500.5L277.8,502.5M277.8,501.8L281.1,501.8M282.3,500.2L282.3,503.1M283.3,501.6L287.2,501.6M286.6,500.5L288.7,502.6M290.1,500.2L290.1,503.2M294.4,500.8L296.3,502.7M296.7,502.0L299.4,502.0M300.6,500.2L300.6,503.1M301.8,501.1L303.8,503.2M306.0,500.3L306.0,503.8M307.0,501.2L308.9,503.2M310.6,500.0L310.6,503.2M312.0,500.4L314.3,502.7M314.3,502.1L317.4,502.1M317.7,500.3L320.4,502.9M319.2,502.2L322.8,502.2M323.0,501.3L324.8,503.1M324.9,500.8L327.4,503.3M329.0,500.0L329.0,504.0M217.1,503.2L217.1,506.4M218.3,503.2L221.1,506.0M220.6,504.6L224.2,504.6M223.8,503.6L225.8,505.6M227.6,503.2L227.6,505.7M232.0,504.8L234.6,504.8M234.4,503.5L237.0,506.1M236.3,504.4L239.7,504.4M239.4,503.4L241.5,505.5M243.0,502.9L243.0,505.6M245.3,503.7L247.2,505.6M246.7,502.8L249.5,505.6M249.6,504.7L252.4,504.7M252.3,503.2L254.6,505.5M256.7,502.3L256.7,506.3M257.7,503.5L259.5,505.3M260.4,503.2L262.3,505.1M265.3,503.2L267.6,505.5M268.5,503.2L270.9,505.6M272.2,503.1L272.2,506.6M274.1,502.6L274.1,506.1M276.1,503.6L278.3,505.8M278.3,503.3L280.9,505.9M280.2,504.4L283.7,504.4M285.0,502.8L285.0,506.0M287.3,502.6L287.3,506.5M288.6,503.0L290.9,505.3M291.9,503.8L293.8,505.7M293.8,503.7L296.1,505.9M299.2,503.3L301.6,505.8M301.9,503.5L303.9,505.5M305.6,502.9L305.6,506.9M307.0,503.2L309.3,505.5M312.4,503.3L315.0,505.9M315.0,503.5L317.0,505.5M319.0,503.0L319.0,506.0M319.8,503.3L322.0,505.5M322.4,504.3L325.7,504.3M325.1,504.7L328.3,504.7M328.2,503.6L330.0,505.4M219.0,505.8L221.0,507.8M222.4,505.6L222.4,508.5M224.2,506.1L226.5,508.5M226.4,505.9L228.9,508.4M228.6,507.1L231.7,507.1M234.7,506.0L236.6,507.8M238.7,506.9L242.1,506.9M243.2,505.2L243.2,508.9M244.9,506.2L247.1,508.4M247.4,505.8L250.2,508.6M249.7,506.8L253.3,506.8M254.7,506.8L258.1,506.8M257.3,507.3L260.3,507.3M260.4,506.1L263.1,508.8M263.0,505.8L265.2,508.0M268.5,506.3L270.6,508.3M271.1,505.7L273.2,507.7M274.4,505.8L274.4,509.0M278.9,505.7L281.1,507.9M281.4,506.1L283.4,508.0M283.2,506.9L285.9,506.9M286.1,506.1L288.7,508.7M290.0,505.4L290.0,508.0M291.0,506.8L295.0,506.8M293.7,507.0L296.6,507.0M296.7,506.5L298.5,508.3M298.3,507.2L301.9,507.2M301.4,505.9L304.1,508.7M307.1,505.6L309.5,508.0M310.1,505.9L312.3,508.1M312.1,505.9L314.2,507.9M314.8,506.1L316.9,508.1M318.0,505.8L319.9,507.7M324.0,505.6L324.0,508.4M325.4,505.8L327.6,508.0M329.1,505.3L329.1,508.7M215.6,508.1L218.4,510.8M218.6,508.6L220.6,510.7M222.4,508.0L222.4,511.0M224.2,508.7L226.1,510.6M226.1,509.6L229.1,509.6M230.0,508.1L230.0,511.5M234.3,508.0L237.0,510.7M237.9,508.5L237.9,511.2M241.3,509.4L244.9,509.4M245.7,508.0L245.7,511.4M248.5,508.6L248.5,511.4M250.2,508.8L252.4,511.1M254.1,507.7L254.1,511.3M258.8,508.1L258.8,510.6M261.4,507.7L261.4,511.5M262.2,509.4L265.9,509.4M265.1,508.3L267.6,510.8M268.5,508.7L270.6,510.8M274.2,508.3L274.2,510.9M278.5,508.6L280.8,510.8M283.8,508.7L286.5,511.4M286.0,509.3L288.9,509.3M288.8,508.5L290.7,510.4M291.4,508.6L293.8,511.0M294.4,508.4L296.8,510.9M296.8,508.2L299.0,510.4M298.5,509.3L301.8,509.3M300.9,509.5L304.6,509.5M304.8,508.4L306.6,510.2M308.3,508.0L308.3,510.7M309.5,508.8L311.9,511.1M315.2,508.7L317.3,510.9M317.5,508.4L319.9,510.8M320.5,508.7L322.8,511.0M322.8,508.0L325.4,510.6M326.7,508.2L326.7,511.4M328.1,508.5L330.7,511.1M217.6,510.6L217.6,513.5M219.9,510.8L219.9,514.3M220.8,512.6L223.7,512.6M227.6,510.7L227.6,514.5M229.0,510.9L231.2,513.1M230.9,512.3L234.8,512.3M234.7,511.0L236.9,513.2M239.0,512.0L242.1,512.0M246.9,510.6L249.5,513.2M249.6,512.0L252.7,512.0M258.8,511.1L258.8,514.2M260.2,510.8L263.0,513.6M265.6,511.3L267.6,513.2M267.5,512.7L270.9,512.7M270.3,512.6L273.8,512.6M275.8,510.9L278.0,513.1M278.3,510.9L281.1,513.6M281.0,510.9L283.1,513.0M284.2,511.5L286.1,513.5M286.7,511.7L288.5,513.5M289.0,511.1L290.8,513.0M291.6,511.0L294.0,513.4M294.0,512.1L296.6,512.1M295.8,512.5L299.7,512.5M302.2,511.6L304.4,513.8M309.3,512.2L312.0,512.2M312.4,511.2L315.2,514.0M314.8,510.8L317.1,513.2M317.2,512.0L320.5,512.0M319.2,512.3L323.1,512.3M322.6,510.8L325.0,513.2M325.8,511.5L327.6,513.4M327.7,512.1L330.3,512.1M216.0,514.8L218.5,514.8M218.4,513.6L221.0,516.1M221.4,513.5L223.4,515.6M226.5,515.1L229.7,515.1M229.3,513.7L231.9,516.3M234.8,513.7L236.8,515.7M237.8,513.6L237.8,516.6M240.7,513.4L240.7,517.0M242.1,513.5L244.8,516.2M245.0,513.6L247.0,515.6M249.9,514.1L251.9,516.2M255.9,513.1L255.9,516.9M257.6,513.6L260.0,516.0M260.2,513.2L262.9,516.0M262.9,513.5L265.5,516.1M265.4,513.7L268.0,516.3M269.1,513.5L269.1,517.0M270.4,514.7L273.4,514.7M274.5,513.4L274.5,516.7M277.4,513.4L277.4,516.4M278.4,515.0L281.4,515.0M282.1,513.5L282.1,516.6M282.7,514.9L286.4,514.9M286.0,515.3L289.6,515.3M291.7,513.6L294.2,516.1M295.4,513.1L295.4,516.8M296.8,513.7L299.3,516.1M299.2,513.5L301.7,515.9M301.7,514.2L303.8,516.2M305.6,512.8L305.6,516.7M306.9,514.8L309.6,514.8M309.6,513.2L312.2,515.8M312.6,513.9L314.8,516.2M314.8,513.6L316.9,515.8M320.6,513.9L322.7,516.0M322.7,513.5L325.3,516.1M325.3,513.4L327.9,516.0M327.1,515.1L330.7,515.1M216.3,516.0L218.5,518.2M220.1,515.2L220.1,519.1M220.2,517.6L224.2,517.6M223.1,517.5L226.5,517.5M226.0,517.8L229.6,517.8M230.2,516.5L230.2,519.2M235.7,515.9L235.7,519.7M236.7,516.3L239.2,518.8M239.9,516.6L241.9,518.5M241.4,517.1L245.1,517.1M244.9,515.9L247.4,518.4M250.3,516.4L252.7,518.9M252.1,516.3L254.8,519.1M262.5,516.4L265.2,519.1M266.8,515.9L266.8,519.8M268.8,516.7L270.6,518.6M270.6,516.5L273.3,519.2M283.5,516.2L285.9,518.6M287.6,515.7L287.6,519.6M290.3,515.5L290.3,519.5M291.0,517.7L293.9,517.7M294.1,517.2L297.3,517.2M297.1,516.4L298.9,518.2M300.6,516.0L300.6,519.2M301.8,516.2L304.6,519.0M304.3,516.8L306.3,518.8M306.8,517.9L309.7,517.9M310.9,515.7L310.9,518.6M312.0,517.6L314.8,517.6M315.2,516.8L317.0,518.6M316.9,517.2L320.8,517.2M321.4,515.5L321.4,519.2M324.0,515.6L324.0,518.6M326.1,515.9L326.1,518.6M327.6,517.6L330.6,517.6M215.7,518.9L218.2,521.5M227.4,518.3L227.4,521.8M231.7,518.6L234.3,521.2M234.1,518.7L236.7,521.4M236.8,518.9L238.8,520.8M243.2,518.3L243.2,521.4M244.3,520.0L248.2,520.0M249.7,520.4L252.6,520.4M254.0,518.9L254.0,521.7M261.7,518.5L261.7,521.5M266.6,518.6L266.6,521.6M269.6,518.9L269.6,522.1M271.2,519.3L273.3,521.5M277.0,518.2L277.0,522.0M278.4,519.4L280.6,521.5M282.5,518.1L282.5,521.8M283.3,520.3L286.1,520.3M285.3,519.9L288.9,519.9M288.8,519.4L290.6,521.2M291.1,518.5L293.7,521.1M293.6,519.8L297.1,519.8M299.7,519.4L301.8,521.5M303.4,518.2L303.4,521.6M304.0,520.0L307.6,520.0M306.7,520.3L309.6,520.3M309.2,520.2L312.2,520.2M312.3,519.0L314.8,521.4M318.0,519.2L320.1,521.3M320.4,519.2L322.3,521.0M322.3,519.7L325.6,519.7M325.4,520.1L328.0,520.1M328.1,518.7L330.7,521.4M215.7,523.1L219.5,523.1M218.5,522.6L221.4,522.6M221.1,522.9L223.6,522.9M228.0,521.3L228.0,524.7M231.2,522.4L234.7,522.4M234.3,522.2L236.1,524.0M238.1,521.0L238.1,525.0M241.0,520.8L241.0,524.7M241.6,522.8L244.3,522.8M244.9,521.1L247.5,523.7M251.3,520.8L251.3,524.7M252.5,521.1L254.9,523.6M256.8,522.6L260.3,522.6M260.4,521.5L262.7,523.8M262.3,522.4L265.9,522.4M265.2,522.8L268.7,522.8M267.5,522.8L270.9,522.8M271.1,521.5L273.5,523.9M274.5,521.6L274.5,524.4M276.0,522.0L278.0,524.0M279.5,521.0L279.5,524.5M281.4,521.2L283.8,523.6M283.4,521.3L285.8,523.7M287.3,520.9L287.3,523.8M289.7,521.3L289.7,524.0M292.7,521.5L292.7,524.4M294.4,521.6L296.7,523.9M296.7,522.1L298.6,524.0M299.2,521.3L301.3,523.4M302.1,521.1L304.7,523.7M304.7,521.6L306.6,523.4M307.5,522.0L309.6,524.1M309.4,521.8L311.7,524.1M311.9,521.7L314.5,524.2M314.8,522.9L318.0,522.9M320.5,521.8L322.8,524.1M322.8,521.9L324.8,523.9M325.7,521.6L328.0,523.9M328.7,521.4L328.7,524.2M216.1,524.1L217.9,525.9M218.7,524.1L220.9,526.2M221.1,524.3L223.7,526.8M224.5,524.2L226.3,526.1M225.6,525.6L229.5,525.6M228.0,525.0L231.8,525.0M231.4,525.4L234.4,525.4M234.6,524.1L236.8,526.4M236.8,525.5L239.7,525.5M240.0,524.4L242.2,526.5M246.8,525.1L249.9,525.1M250.1,524.6L252.1,526.5M253.9,523.6L253.9,527.1M255.0,524.0L257.3,526.3M260.5,524.3L262.5,526.4M261.9,525.2L265.8,525.2M265.4,523.9L267.6,526.2M267.5,525.7L271.5,525.7M270.8,523.6L273.6,526.4M273.6,524.6L275.7,526.6M276.8,523.3L276.8,527.3M280.0,523.6L280.0,526.2M282.2,523.8L282.2,527.3M287.6,523.8L287.6,527.0M287.9,525.7L291.9,525.7M292.0,524.0L294.1,526.1M294.4,525.7L297.0,525.7M297.2,524.6L299.1,526.5M299.3,523.9L301.8,526.4M301.4,525.6L304.8,525.6M304.2,523.7L306.7,526.3M307.1,524.5L309.1,526.5M309.0,525.4L313.0,525.4M313.3,523.5L313.3,526.8M314.6,525.5L318.0,525.5M317.0,524.3L319.7,527.0M319.9,523.9L322.3,526.3M324.2,523.6L324.2,527.2M325.2,524.2L327.3,526.2M327.6,524.2L329.9,526.5M215.4,527.9L219.3,527.9M218.1,526.3L220.9,529.2M224.9,526.7L224.9,529.3M226.8,527.0L228.7,529.0M228.3,528.2L231.6,528.2M233.9,527.6L236.4,527.6M236.8,526.4L239.1,528.6M238.9,528.2L241.9,528.2M242.7,526.9L244.5,528.7M244.2,527.8L247.4,527.8M250.2,526.4L252.8,529.0M254.9,526.2L257.5,528.9M258.6,526.6L258.6,529.3M262.7,526.4L265.2,528.8M266.0,526.7L267.8,528.6M269.2,526.4L269.2,529.0M278.2,527.8L281.7,527.8M280.6,527.7L284.0,527.7M285.1,527.8L289.1,527.8M287.8,528.2L291.8,528.2M291.3,526.5L294.0,529.2M295.2,526.4L295.2,529.7M296.7,526.4L299.3,529.0M298.9,527.7L302.5,527.7M304.1,527.7L306.7,527.7M308.1,525.6L308.1,529.5M310.5,526.2L310.5,529.8M312.5,527.7L315.1,527.7M319.2,528.1L322.7,528.1M322.9,527.7L325.4,527.7M326.3,526.2L326.3,529.9M327.9,527.5L330.8,527.5M216.4,529.8L218.3,531.7M218.3,528.8L221.1,531.6M222.7,529.0L222.7,531.7M223.8,529.4L226.1,531.7M227.7,528.2L227.7,532.1M229.6,529.4L231.7,531.5M233.1,528.5L233.1,531.8M237.1,529.0L239.7,531.6M242.0,529.0L244.4,531.3M244.9,529.3L246.8,531.2M248.7,528.8L248.7,532.5M249.0,530.2L252.7,530.2M254.9,529.7L256.9,531.7M257.2,529.0L259.9,531.7M259.7,530.5L263.5,530.5M262.7,529.1L264.8,531.2M264.8,530.7L268.4,530.7M267.6,529.5L270.3,532.2M270.9,529.6L273.3,532.1M274.5,529.1L274.5,531.7M275.7,529.3L278.5,532.1M279.0,529.6L281.2,531.9M282.3,529.1L282.3,531.7M283.9,529.7L286.1,532.0M285.9,529.5L288.3,531.8M288.9,529.6L291.1,531.7M291.4,529.0L294.1,531.8M294.2,528.8L296.9,531.5M296.2,529.0L298.8,531.5M299.3,529.1L302.1,532.0M301.6,529.4L304.3,532.1M307.2,529.3L309.8,531.8M310.5,528.7L310.5,532.1M315.9,528.5L315.9,532.2M317.5,529.3L319.4,531.2M319.4,530.3L323.3,530.3M322.9,529.4L324.9,531.4M325.5,530.5L328.2,530.5M327.4,530.3L330.4,530.3M217.5,531.4L217.5,535.0M220.0,531.6L220.0,535.4M224.0,531.9L226.0,533.9M226.5,531.8L228.8,534.1M230.6,532.1L230.6,534.8M236.2,533.0L239.9,533.0M239.3,532.1L241.8,534.7M241.4,532.9L245.2,532.9M246.0,530.9L246.0,534.8M250.8,531.0L250.8,535.0M253.1,532.0L255.0,533.9M254.5,533.3L257.7,533.3M259.7,533.4L263.5,533.4M264.1,531.5L264.1,535.0M265.2,531.7L267.5,534.0M273.2,533.3L276.3,533.3M275.6,533.3L278.3,533.3M278.3,533.3L281.5,533.3M280.8,531.6L283.5,534.3M285.1,531.3L285.1,534.3M293.7,532.1L296.5,534.9M296.7,532.0L298.6,534.0M301.6,533.4L305.1,533.4M304.4,531.8L307.2,534.6M308.6,531.8L308.6,534.6M311.0,530.8L311.0,534.7M315.1,531.5L317.7,534.1M317.3,533.4L320.3,533.4M321.0,531.2L321.0,534.4M323.8,531.8L323.8,534.6M325.7,531.9L327.9,534.1M327.6,532.1L330.0,534.6M215.7,535.5L218.8,535.5M218.4,536.0L221.5,536.0M223.7,535.5L226.3,535.5M226.0,534.0L228.7,536.7M229.3,536.0L231.9,536.0M230.9,536.1L234.5,536.1M236.3,535.9L240.2,535.9M239.7,534.3L242.4,537.1M241.5,535.5L245.0,535.5M246.2,534.5L246.2,537.5M246.7,535.7L249.9,535.7M249.5,534.4L252.1,537.0M252.5,534.2L255.2,536.9M254.8,534.7L257.3,537.2M258.2,535.2L260.0,536.9M261.3,534.4L261.3,537.1M263.1,534.6L265.1,536.6M265.8,534.6L268.0,536.7M268.4,534.3L271.0,536.9M273.5,534.1L275.9,536.5M279.8,534.3L279.8,537.7M283.5,535.5L286.6,535.5M286.5,535.0L288.3,536.8M289.4,534.8L291.6,537.0M291.7,534.8L293.7,536.8M294.7,535.0L296.6,536.9M297.8,534.1L297.8,537.4M298.8,534.7L301.5,537.4M301.8,534.7L304.2,537.1M304.7,534.6L307.4,537.3M309.4,534.4L311.9,536.9M312.9,534.8L314.7,536.5M316.4,533.8L316.4,537.4M317.6,534.3L319.9,536.6M321.2,534.3L321.2,537.0M324.2,534.0L324.2,537.8M328.8,534.0L328.8,537.8M215.5,538.5L219.5,538.5M218.9,537.7L220.7,539.5M222.7,536.7L222.7,540.3M224.9,536.7L224.9,539.4M228.0,536.4L228.0,539.6M233.2,536.8L233.2,540.2M233.4,538.4L236.9,538.4M236.3,538.6L239.5,538.6M242.2,538.5L245.1,538.5M244.9,537.3L247.5,539.9M246.7,538.0L250.3,538.0M253.9,536.3L253.9,539.9M255.5,537.6L257.4,539.5M258.6,537.0L258.6,540.2M259.7,537.9L263.2,537.9M262.6,537.5L264.8,539.8M265.3,537.1L268.0,539.7M268.0,537.5L270.0,539.5M270.6,538.1L273.5,538.1M272.4,538.2L276.1,538.2M276.3,537.6L278.1,539.4M278.6,537.3L280.9,539.6M283.4,536.9L285.8,539.3M286.3,537.2L288.7,539.5M291.6,537.5L293.8,539.7M295.0,536.5L295.0,540.1M297.8,535.9L297.8,539.9M300.7,537.1L300.7,539.8M301.9,537.4L303.8,539.3M305.4,536.1L305.4,539.9M307.0,537.4L309.3,539.6M309.1,538.6L312.3,538.6M313.6,536.2L313.6,539.8M314.4,538.2L318.1,538.2M317.7,537.6L319.9,539.7M321.6,536.8L321.6,540.4M324.0,536.5L324.0,539.9M325.1,536.8L327.4,539.1M327.6,536.9L330.4,539.7M217.3,539.0L217.3,542.6M219.1,539.8L221.0,541.7M221.6,540.0L224.0,542.4M225.2,539.1L225.2,542.1M231.6,540.1L233.5,542.1M235.4,539.0L235.4,542.1M238.2,539.8L238.2,542.7M241.7,539.5L244.2,542.0M245.7,539.6L245.7,542.7M248.8,538.6L248.8,542.6M250.1,539.8L252.0,541.8M252.7,539.8L255.3,542.5M263.2,539.7L265.1,541.6M265.5,541.3L268.0,541.3M267.6,539.8L270.2,542.4M277.4,539.5L277.4,543.0M278.1,540.7L281.1,540.7M282.3,539.2L282.3,543.1M284.9,539.0L284.9,542.8M286.4,540.0L288.8,542.4M287.8,541.2L291.7,541.2M291.3,539.6L294.0,542.4M294.5,539.9L296.6,542.1M303.9,541.2L307.4,541.2M306.5,540.5L309.6,540.5M309.5,539.6L311.6,541.7M313.3,539.3L313.3,541.9M315.2,539.5L317.8,542.1M318.6,539.6L318.6,542.7M319.8,539.9L322.1,542.3M322.9,539.5L325.7,542.3M325.4,539.7L328.0,542.3M329.1,539.5L329.1,542.1M216.1,542.8L218.1,544.8M219.2,542.6L221.3,544.6M222.9,543.8L226.9,543.8M226.0,543.7L228.6,543.7M229.7,542.2L231.6,544.1M231.5,543.3L234.2,543.3M234.7,542.7L236.7,544.7M240.7,542.1L240.7,545.4M241.1,543.2L244.9,543.2M245.1,542.9L247.1,544.8M247.7,542.5L249.8,544.5M249.2,543.4L252.4,543.4M252.9,542.5L255.3,544.9M254.2,543.2L257.7,543.2M257.4,543.8L260.5,543.8M259.9,543.4L262.5,543.4M264.1,542.1L264.1,545.7M269.6,541.5L269.6,545.0M272.8,541.8L275.6,544.5M277.1,541.9L277.1,545.4M279.8,541.5L279.8,544.7M281.1,543.7L283.9,543.7M287.3,541.7L287.3,545.4M288.5,543.9L292.5,543.9M291.2,543.2L294.5,543.2M294.2,542.3L296.6,544.7M298.1,541.8L298.1,544.5M299.6,542.9L301.4,544.7M305.9,542.1L305.9,545.0M308.7,543.6L312.6,543.6M312.3,542.9L314.2,544.8M315.1,542.5L316.9,544.4M317.3,542.0L319.9,544.7M321.4,541.8L321.4,545.7M323.7,541.6L323.7,545.1M326.4,541.6L326.4,544.8M327.5,542.6L329.9,545.1M213.5,545.2L215.5,547.2M216.3,545.0L218.8,547.4M222.3,544.3L222.3,547.4M226.1,546.2L229.1,546.2M235.4,544.3L235.4,547.3M239.2,545.9L242.4,545.9M241.5,546.2L244.5,546.2M245.3,545.2L247.2,547.2M250.2,545.2L252.4,547.4M253.0,544.7L255.2,546.9M256.6,544.3L256.6,547.9M258.0,545.0L260.3,547.2M260.7,545.2L262.6,547.0M262.9,545.0L265.1,547.3M266.5,544.5L266.5,547.4M268.1,545.0L269.9,546.8M270.6,544.8L272.8,547.1M273.1,544.5L275.7,547.1M276.3,545.4L278.1,547.3M279.8,544.2L279.8,547.2M283.1,546.0L286.8,546.0M285.4,546.1L288.9,546.1M289.3,545.0L291.4,547.2M292.3,544.6L292.3,547.8M293.8,546.4L297.5,546.4M296.8,546.4L299.3,546.4M300.2,544.3L300.2,547.5M302.2,544.9L304.4,547.1M304.0,546.5L308.0,546.5M308.4,544.4L308.4,547.6M310.9,544.2L310.9,547.4M315.5,544.9L317.4,546.9M318.4,544.4L318.4,548.2M322.7,545.1L325.2,547.6M215.6,547.0L218.2,549.6M220.0,547.1L220.0,551.0M221.1,548.5L224.6,548.5M223.8,548.5L227.0,548.5M226.1,547.0L228.9,549.8M228.8,547.6L231.5,550.2M234.5,547.9L236.3,549.7M237.8,546.7L237.8,550.6M240.3,547.3L240.3,550.5M243.5,546.4L243.5,550.2M246.2,547.5L246.2,550.2M248.3,547.5L248.3,550.2M250.2,547.9L252.6,550.3M254.0,547.1L254.0,549.8M256.6,547.1L256.6,550.8M260.2,547.9L262.0,549.7M262.4,547.2L265.1,549.9M265.3,548.8L268.5,548.8M269.5,547.1L269.5,550.4M270.1,548.8L273.4,548.8M277.1,547.1L277.1,551.0M282.4,547.5L282.4,550.6M283.7,547.6L285.8,549.8M287.1,547.1L287.1,550.8M291.6,547.7L293.4,549.5M293.7,547.7L296.3,550.3M298.2,546.8L298.2,549.9M301.1,549.1L304.9,549.1M304.7,547.7L307.0,550.0M307.5,547.7L309.6,549.7M310.1,547.4L312.4,549.7M313.7,546.8L313.7,550.3M316.3,547.0L316.3,549.7M317.2,548.5L320.8,548.5M320.1,547.9L322.0,549.8M322.9,547.5L325.4,550.0M328.1,547.0L330.8,549.7M213.5,550.9L216.3,550.9M217.5,549.3L217.5,552.8M222.5,549.4L222.5,553.0M224.4,549.9L226.5,552.0M228.6,551.3L232.4,551.3M232.0,550.3L234.5,552.8M234.8,550.7L236.6,552.6M237.7,549.4L237.7,553.2M239.8,550.4L241.8,552.5M242.4,550.4L244.9,552.8M250.3,550.2L252.2,552.1M254.0,549.3L254.0,553.1M254.3,551.3L258.1,551.3M262.7,549.9L265.5,552.6M265.1,549.8L267.7,552.4M268.0,550.4L270.2,552.7M270.8,550.6L272.9,552.7M273.2,549.9L275.9,552.6M275.7,551.5L278.3,551.5M279.0,550.1L280.8,552.0M281.0,550.7L282.9,552.6M285.3,550.0L285.3,553.2M289.2,550.1L291.1,552.0M292.7,549.2L292.7,553.2M293.7,551.6L297.0,551.6M298.0,549.2L298.0,552.8M300.3,549.9L300.3,552.8M302.9,549.7L302.9,552.8M304.4,550.0L306.8,552.4M307.2,550.3L309.2,552.3M309.3,551.0L312.3,551.0M317.7,550.2L319.7,552.3M321.7,550.0L321.7,553.2M322.6,550.6L324.8,552.7M325.2,551.7L327.8,551.7M329.0,549.2L329.0,552.7M214.3,552.7L214.3,555.3M217.3,552.2L217.3,554.8M221.9,552.6L223.8,554.5M224.1,552.7L226.7,555.3M227.7,551.7L227.7,555.6M232.2,552.9L234.2,554.9M236.6,553.6L239.3,553.6M239.5,553.5L242.1,553.5M242.1,554.1L245.0,554.1M245.7,552.8L245.7,555.3M247.8,552.7L249.6,554.5M251.4,552.6L251.4,555.2M253.8,552.4L253.8,555.2M254.2,553.7L257.9,553.7M257.3,552.9L259.8,555.4M259.8,553.5L262.9,553.5M262.6,553.6L266.1,553.6M269.6,551.8L269.6,555.7M274.2,552.3L274.2,555.8M275.6,552.5L278.3,555.2M278.7,552.9L280.9,555.1M282.5,552.1L282.5,555.0M283.4,552.8L286.1,555.5M286.0,552.4L288.8,555.2M291.3,552.4L293.6,554.7M293.7,552.6L296.4,555.3M299.0,554.2L301.7,554.2M305.6,552.4L305.6,555.6M306.4,553.6L310.0,553.6M311.3,552.0L311.3,555.3M312.1,552.6L314.7,555.1M315.8,552.3L315.8,555.7M317.3,552.4L319.9,555.0M319.1,553.7L322.8,553.7M321.9,554.1L325.6,554.1M325.3,552.7L327.8,555.1M327.8,552.3L330.5,554.9M213.2,556.6L216.2,556.6M216.5,555.3L218.8,557.6M220.1,554.9L220.1,558.5M223.3,556.2L226.8,556.2M225.9,556.3L228.7,556.3M229.0,556.3L232.0,556.3M231.2,556.8L234.0,556.8M233.8,556.4L236.7,556.4M237.5,555.5L239.4,557.4M241.1,554.7L241.1,557.7M242.0,555.7L243.9,557.6M244.2,556.5L247.5,556.5M247.5,555.6L249.9,558.1M249.4,556.2L252.2,556.2M253.9,554.6L253.9,558.3M255.3,555.0L257.5,557.2M260.5,555.6L262.4,557.5M264.0,554.4L264.0,558.3M265.8,555.8L267.5,557.6M268.2,555.0L271.0,557.8M270.4,555.5L272.6,557.7M274.6,554.7L274.6,558.1M276.2,555.7L278.7,558.1M286.6,555.3L288.7,557.3M288.7,556.6L291.6,556.6M295.3,554.5L295.3,558.4M296.5,555.1L298.8,557.4M300.5,555.2L300.5,558.3M304.6,555.5L306.6,557.5M308.2,555.1L308.2,558.6M309.0,556.8L312.6,556.8M312.2,556.3L315.3,556.3M315.0,556.3L317.5,556.3M317.7,555.2L319.6,557.1M320.5,555.5L322.9,557.9M325.0,556.5L328.4,556.5M328.4,555.4L330.4,557.3M215.7,558.0L218.1,560.4M221.3,559.3L224.0,559.3M224.1,558.9L226.6,558.9M227.7,557.3L227.7,560.1M230.3,557.2L230.3,560.6M231.3,559.3L235.1,559.3M234.5,557.7L237.0,560.2M241.9,559.4L244.5,559.4M244.3,559.3L247.4,559.3M249.5,559.0L253.2,559.0M255.1,557.7L257.5,560.0M260.4,557.8L262.4,559.8M264.2,557.4L264.2,560.8M265.8,557.7L267.8,559.7M268.3,559.2L270.9,559.2M270.7,558.9L273.4,558.9M274.8,557.6L274.8,560.1M274.9,559.4L278.6,559.4M279.7,557.2L279.7,560.4M281.0,558.2L283.0,560.3M284.5,557.5L284.5,561.4M287.8,559.4L291.7,559.4M290.9,559.0L293.8,559.0M293.7,559.0L296.3,559.0M298.9,559.5L302.3,559.5M301.4,558.8L305.1,558.8M304.3,558.2L306.6,560.5M312.4,557.9L314.3,559.8M318.7,557.2L318.7,560.7M321.5,557.5L321.5,560.9M322.8,558.0L324.8,560.1M326.4,557.5L326.4,560.0M328.0,558.5L329.9,560.4M212.6,561.6L216.0,561.6M216.1,560.4L218.8,563.1M219.8,560.1L219.8,563.2M228.1,560.0L228.1,563.0M232.9,560.6L232.9,563.5M234.4,560.9L236.8,563.2M236.4,562.0L239.3,562.0M239.1,560.5L241.7,563.1M241.8,561.4L244.9,561.4M248.2,559.9L248.2,563.6M251.2,560.5L251.2,563.5M256.5,560.2L256.5,563.6M258.2,560.3L260.4,562.5M261.8,560.6L261.8,563.6M265.4,560.2L268.1,563.0M269.4,559.5L269.4,563.4M270.9,560.3L273.0,562.4M273.2,560.1L275.7,562.6M275.6,560.6L278.3,563.2M278.5,560.4L280.3,562.2M280.7,562.0L284.6,562.0M284.1,561.0L286.0,562.9M286.9,560.3L288.9,562.3M288.5,561.9L291.3,561.9M295.4,560.3L295.4,563.9M300.5,559.8L300.5,563.0M302.2,562.0L304.7,562.0M305.4,559.9L305.4,563.7M308.2,559.7L308.2,563.4M309.7,560.4L311.9,562.6M311.4,561.4L315.4,561.4M316.3,560.2L316.3,563.4M317.5,560.5L319.3,562.4M319.5,559.9L322.3,562.7M326.6,560.4L326.6,563.0M328.0,560.3L330.4,562.7M213.5,563.4L215.8,565.7M216.3,562.6L219.1,565.4M222.4,562.5L222.4,566.4M225.3,562.3L225.3,565.9M230.4,562.8L230.4,565.4M232.5,562.8L232.5,566.4M235.2,562.7L235.2,565.5M236.6,564.2L240.2,564.2M238.9,564.6L242.2,564.6M242.2,564.1L244.8,564.1M244.7,563.4L246.9,565.6M248.9,564.6L252.8,564.6M252.6,563.2L255.4,565.9M255.0,564.6L258.0,564.6M257.2,564.3L261.1,564.3M259.4,564.2L263.0,564.2M265.8,564.3L268.3,564.3M272.1,562.9L272.1,565.5M273.8,563.3L275.7,565.2M277.1,563.2L277.1,566.1M278.8,563.5L280.6,565.4M286.0,564.2L289.4,564.2M291.4,562.7L294.1,565.4M293.4,564.0L296.6,564.0M300.3,562.6L300.3,565.6M301.8,564.3L304.5,564.3M304.4,562.7L307.1,565.4M307.4,563.5L309.6,565.8M309.4,564.2L312.0,564.2M313.2,562.6L313.2,565.4M315.4,563.7L317.2,565.5M318.6,563.0L318.6,565.9M320.2,563.5L322.1,565.4M323.2,563.3L325.3,565.4M325.3,563.1L327.7,565.5M329.3,562.6L329.3,565.6M212.8,566.8L216.8,566.8M224.8,565.7L224.8,568.3M230.1,565.2L230.1,568.5M244.6,565.8L246.7,567.9M248.3,565.5L248.3,568.6M253.4,565.3L253.4,567.8M254.7,565.7L257.2,568.2M261.6,565.5L261.6,568.3M263.8,565.6L263.8,568.6M265.0,565.2L267.7,567.9M267.3,567.2L270.8,567.2M270.8,566.0L273.1,568.3M273.3,565.8L276.1,568.5M281.0,566.0L283.0,568.1M284.5,565.1L284.5,567.9M286.0,565.4L288.7,568.1M292.6,565.6L292.6,568.6M297.5,565.0L297.5,568.5M299.7,566.0L301.7,567.9M304.4,565.3L307.1,568.0M310.8,564.9L310.8,568.8M313.8,565.4L313.8,568.4M314.9,565.7L317.7,568.4M318.9,565.5L318.9,568.5M320.4,565.7L322.9,568.2M326.7,565.6L326.7,568.6M327.6,566.8L330.3,566.8M215.0,567.7L215.0,571.1M219.6,568.3L219.6,570.9M231.0,569.7L234.9,569.7M234.2,568.1L236.5,570.4M236.0,569.4L239.7,569.4M243.1,568.1L243.1,570.9M244.7,569.3L247.6,569.3M247.1,569.2L250.7,569.2M250.2,568.4L252.6,570.8M257.7,567.8L260.2,570.4M264.2,567.9L264.2,571.6M264.9,569.4L268.3,569.4M269.0,567.8L269.0,571.6M271.0,568.1L273.2,570.3M273.2,569.0L275.0,570.8M278.2,569.4L281.9,569.4M282.1,567.3L282.1,571.0M286.6,568.7L288.8,570.9M288.5,568.0L290.9,570.4M291.9,568.2L293.7,570.0M295.4,568.4L295.4,570.9M295.7,569.6L299.6,569.6M304.0,569.4L307.4,569.4M307.7,568.4L309.6,570.4M310.7,568.4L310.7,571.3M312.4,568.4L314.8,570.7M314.7,569.5L318.1,569.5M316.8,569.4L320.5,569.4M320.0,568.1L322.5,570.6M322.6,568.4L324.8,570.5M326.8,568.1L326.8,571.1M327.6,567.8L330.4,570.6M215.0,570.6L215.0,573.8M216.2,572.2L218.8,572.2M217.8,572.1L221.5,572.1M224.3,571.2L226.6,573.6M232.8,570.4L232.8,574.1M235.5,570.1L235.5,573.8M237.9,570.7L237.9,574.0M239.7,572.3L242.3,572.3M246.1,570.1L246.1,573.5M250.1,571.2L252.0,573.0M256.5,570.0L256.5,573.6M258.0,571.3L259.9,573.1M259.8,572.3L262.9,572.3M264.3,570.0L264.3,573.8M266.4,570.7L266.4,573.7M270.6,570.9L272.7,573.0M276.1,570.9L278.0,572.7M278.2,570.6L280.5,572.9M280.5,572.5L284.5,572.5M283.5,572.0L286.8,572.0M286.6,570.9L288.7,572.9M288.9,571.6L290.8,573.4M291.6,571.1L293.7,573.2M295.2,570.7L295.2,573.6M295.7,572.2L299.6,572.2M299.3,570.7L302.1,573.4M301.6,572.2L304.5,572.2M304.7,571.2L306.5,573.0M307.2,571.4L309.2,573.5M309.4,572.4L313.2,572.4M313.4,570.8L313.4,574.1M314.8,570.8L316.9,573.0M317.1,571.0L319.7,573.6M320.3,570.8L322.4,572.9M323.0,570.8L324.9,572.7M324.9,571.8L328.9,571.8M327.7,571.0L329.8,573.1M213.4,574.4L216.0,574.4M217.0,573.4L217.0,576.3M219.9,572.9L219.9,576.1M221.1,574.5L224.5,574.5M227.4,573.3L227.4,576.8M233.3,573.2L233.3,576.2M235.5,572.6L235.5,576.2M236.8,574.8L239.5,574.8M240.4,573.1L240.4,575.7M242.0,574.6L245.4,574.6M244.5,574.4L247.7,574.4M251.0,572.4L251.0,576.2M252.3,573.4L255.1,576.2M258.7,573.1L258.7,576.7M260.0,574.8L262.7,574.8M265.2,575.0L268.7,575.0M269.1,572.9L269.1,576.3M270.6,574.8L273.8,574.8M273.5,573.6L275.3,575.4M276.9,572.9L276.9,576.2M277.6,574.5L281.3,574.5M281.9,572.7L281.9,576.2M284.7,573.0L284.7,575.8M286.4,573.7L289.1,576.4M288.3,574.6L291.9,574.6M291.0,574.7L294.5,574.7M294.1,573.6L296.6,576.0M296.9,573.6L299.0,575.6M299.1,573.1L301.7,575.7M302.8,572.4L302.8,576.3M304.1,573.2L306.5,575.5M307.1,574.1L309.0,576.0M309.5,573.7L311.6,575.8M313.5,573.2L313.5,576.3M316.7,575.0L320.4,575.0M321.6,573.4L321.6,576.1M323.7,572.8L323.7,575.8M326.5,573.2L326.5,576.4M212.8,577.7L216.4,577.7M217.6,575.6L217.6,579.3M225.3,575.6L225.3,578.9M230.5,575.2L230.5,579.1M231.4,577.3L233.9,577.3M237.4,576.1L239.5,578.1M238.5,577.5L242.2,577.5M246.3,576.0L246.3,578.9M247.4,577.6L250.1,577.6M249.8,577.1L252.8,577.1M253.7,575.2L253.7,579.2M256.0,576.2L256.0,578.7M257.1,577.6L260.9,577.6M260.2,577.1L263.0,577.1M262.5,577.1L265.9,577.1M274.4,575.4L274.4,578.9M276.1,576.6L277.9,578.5M278.1,576.4L280.7,578.9M281.0,577.3L284.3,577.3M283.8,576.4L285.6,578.2M285.8,577.0L289.4,577.0M289.2,576.1L291.6,578.5M298.3,575.8L298.3,579.5M299.6,576.0L301.6,577.9M304.8,576.1L306.6,578.0M308.3,575.9L308.3,579.3M312.5,576.3L314.7,578.6M314.4,577.3L317.5,577.3M317.3,576.3L319.9,578.9M321.3,575.7L321.3,578.3M322.6,576.1L324.9,578.4M326.1,575.9L326.1,578.7M327.5,576.3L330.3,579.1M219.3,579.1L221.1,580.9M221.5,578.7L224.1,581.3M224.0,578.2L226.6,580.9M227.3,578.5L227.3,581.7M228.9,580.3L231.9,580.3M231.6,580.2L234.6,580.2M234.0,578.6L236.7,581.3M238.4,578.2L238.4,582.2M241.0,578.3L241.0,582.0M241.1,580.0L244.8,580.0M248.2,578.0L248.2,582.0M249.9,579.6L252.5,579.6M254.1,578.6L254.1,581.2M255.0,579.0L257.3,581.2M257.3,579.7L259.8,579.7M265.1,580.1L268.5,580.1M267.2,579.5L271.0,579.5M271.2,579.2L273.1,581.1M275.8,579.9L278.5,579.9M279.5,578.4L279.5,581.3M282.0,578.1L282.0,582.0M283.7,579.0L286.2,581.5M285.4,579.8L289.1,579.8M291.8,578.3L294.3,580.9M294.5,579.2L296.3,580.9M295.9,579.9L299.5,579.9M300.4,578.1L300.4,581.8M302.0,578.5L304.2,580.7M311.2,578.4L311.2,581.7M311.7,579.8L315.6,579.8M316.4,578.4L316.4,581.8M320.0,578.6L322.5,581.1M322.2,578.6L324.8,581.2M325.2,579.1L327.3,581.1M327.9,578.5L330.4,581.0M210.5,582.8L214.2,582.8M212.9,582.7L216.9,582.7M217.0,580.8L217.0,583.8M227.8,580.9L227.8,584.6M228.6,582.7L231.9,582.7M231.6,581.4L234.2,583.9M235.2,580.9L235.2,584.5M237.8,581.1L237.8,584.2M240.5,580.7L240.5,584.0M243.1,581.1L243.1,584.4M244.2,582.4L247.7,582.4M246.6,582.5L250.0,582.5M254.8,581.2L257.4,583.7M258.2,582.0L260.0,583.8M260.5,581.6L262.3,583.5M263.9,580.9L263.9,584.7M269.0,581.2L269.0,583.7M270.3,582.6L273.9,582.6M273.3,581.0L275.7,583.4M276.5,581.3L278.4,583.2M278.4,582.4L281.2,582.4M280.6,582.8L283.8,582.8M285.3,582.2L289.3,582.2M293.2,582.6L297.2,582.6M297.0,581.1L299.2,583.3M299.1,582.4L302.2,582.4M301.2,582.4L305.1,582.4M310.6,580.8L310.6,584.0M315.0,581.4L317.4,583.9M317.1,582.3L320.0,582.3M320.0,582.4L322.6,582.4M322.4,581.6L324.9,584.1M325.7,581.5L328.0,583.8M328.1,582.4L330.8,582.4M214.8,583.0L214.8,586.6M216.4,583.6L219.0,586.2M218.2,583.9L220.8,586.5M220.1,584.7L224.1,584.7M230.0,583.3L230.0,587.1M231.4,583.9L234.2,586.7M234.3,584.0L236.2,585.9M238.3,583.5L238.3,587.3M239.3,583.7L241.6,586.0M241.8,584.9L245.0,584.9M244.2,585.0L247.6,585.0M247.1,585.3L249.8,585.3M253.8,583.5L253.8,586.3M258.9,583.6L258.9,586.6M262.6,585.5L266.0,585.5M266.5,583.2L266.5,586.9M268.4,584.1L270.3,586.1M270.6,584.9L273.4,584.9M273.5,584.1L275.3,585.9M275.8,584.0L278.3,586.5M277.8,585.1L281.8,585.1M282.1,583.4L282.1,586.2M283.7,584.5L285.7,586.5M287.2,582.9L287.2,586.9M288.7,585.1L292.2,585.1M291.4,583.8L293.6,586.0M293.9,583.6L296.3,586.0M296.8,584.0L298.8,586.0M301.7,585.3L304.8,585.3M305.6,582.9L305.6,586.5M307.3,584.5L309.2,586.4M310.0,584.1L312.2,586.3M312.3,584.2L314.5,586.4M314.7,583.8L317.0,586.1M316.9,585.4L320.1,585.4M320.4,584.2L322.3,586.1M323.0,584.2L325.5,586.6M325.4,584.1L327.3,586.0M328.0,583.6L330.3,585.9M213.7,586.3L216.2,588.7M217.1,586.0L217.1,589.5M218.2,587.8L222.2,587.8M220.5,587.4L224.0,587.4M226.0,586.2L228.8,589.0M229.3,586.7L231.9,589.3M235.2,586.1L235.2,589.8M236.1,587.3L239.3,587.3M240.3,586.1L240.3,589.3M241.5,587.6L244.4,587.6M244.7,586.8L247.1,589.2M248.2,586.5L248.2,589.2M250.8,585.8L250.8,589.1M254.1,585.6L254.1,589.0M256.7,586.2L256.7,588.9M263.2,586.4L265.3,588.6M268.0,586.7L270.0,588.8M270.3,586.5L273.1,589.3M272.9,587.7L276.4,587.7M280.0,586.3L280.0,589.6M282.4,586.1L282.4,590.0M284.6,585.9L284.6,589.7M285.8,586.4L288.5,589.0M288.5,587.5L291.3,587.5M298.1,585.4L298.1,589.3M298.7,588.0L302.2,588.0M301.9,587.7L304.6,587.7M306.4,588.0L309.6,588.0M311.8,587.9L315.4,587.9M314.3,587.5L317.3,587.5M316.9,587.5L320.6,587.5M320.0,587.0L321.9,588.8M323.1,586.9L325.3,589.1M324.7,588.0L327.8,588.0M328.5,586.8L330.4,588.7M217.6,588.9L217.6,592.3M218.5,589.0L221.3,591.8M221.0,590.3L223.6,590.3M224.1,589.2L226.0,591.1M228.6,590.0L232.6,590.0M231.4,588.8L234.2,591.6M234.2,588.9L236.4,591.0M236.9,590.4L239.4,590.4M239.4,589.3L241.3,591.2M247.0,589.1L249.3,591.4M252.1,588.7L254.8,591.4M254.3,590.5L258.2,590.5M258.7,588.4L258.7,592.1M260.4,589.2L262.6,591.4M266.9,589.1L266.9,591.7M267.7,589.3L270.1,591.8M269.6,590.5L273.6,590.5M273.4,589.7L275.3,591.6M277.3,588.6L277.3,592.2M280.9,590.3L283.8,590.3M286.5,588.7L289.0,591.1M290.3,588.6L290.3,591.7M290.9,590.2L293.9,590.2M294.2,588.9L296.8,591.6M296.6,588.6L299.3,591.3M306.4,590.6L309.9,590.6M310.6,588.3L310.6,591.7M312.4,589.4L315.1,592.0M314.9,589.1L317.2,591.4M317.6,589.0L320.4,591.8M321.0,589.0L321.0,592.4M322.3,589.5L324.7,591.8M326.9,588.3L326.9,592.0M329.1,588.5L329.1,592.0M330.9,589.0L332.8,590.9M212.4,591.6L212.4,594.4M214.3,591.3L214.3,594.5M218.7,592.1L220.6,594.1M224.0,591.8L226.8,594.6M229.0,592.0L231.0,594.0M233.8,592.9L237.5,592.9M243.2,591.2L243.2,594.2M254.0,591.3L254.0,594.1M258.8,591.0L258.8,594.6M260.1,593.0L262.7,593.0M265.5,592.9L268.2,592.9M269.6,590.6L269.6,594.5M276.1,591.4L278.5,593.8M278.3,591.4L280.6,593.6M282.0,591.4L282.0,595.0M288.7,591.4L291.3,594.1M291.2,593.1L294.2,593.1M295.5,591.2L295.5,594.6M299.7,592.4L301.5,594.1M302.8,591.3L302.8,595.3M304.0,591.9L306.8,594.7M308.5,591.2L308.5,595.1M310.1,591.7L311.9,593.5M312.5,591.7L315.2,594.3M315.1,591.6L317.5,594.1M317.4,592.3L319.3,594.2M319.9,591.7L322.7,594.5M324.8,593.0L327.4,593.0M328.8,591.7L328.8,594.7M331.0,591.9L333.1,594.0M213.9,594.3L215.9,596.3M215.9,594.3L218.0,596.4M219.9,594.0L219.9,597.6M222.6,594.1L222.6,597.3M223.3,595.3L226.6,595.3M225.9,595.2L229.6,595.2M230.6,594.3L230.6,597.1M235.8,594.1L235.8,597.7M240.4,593.5L240.4,597.0M245.7,594.3L245.7,597.2M247.3,594.5L249.7,596.9M249.5,595.9L252.4,595.9M253.8,593.8L253.8,597.2M255.0,594.7L257.0,596.7M258.6,593.7L258.6,596.9M262.8,594.5L264.9,596.7M267.6,595.8L271.4,595.8M270.3,595.7L274.1,595.7M272.5,595.6L275.8,595.6M277.4,594.0L277.4,597.1M277.5,595.7L281.4,595.7M281.1,594.5L283.6,597.0M291.3,595.1L294.5,595.1M294.2,594.4L296.1,596.3M296.1,595.3L300.0,595.3M300.4,594.6L300.4,597.2M304.1,595.3L306.8,595.3M312.1,594.4L314.5,596.8M314.3,595.4L317.6,595.4M317.6,594.4L319.5,596.3M323.0,594.4L325.3,596.8M328.2,594.1L330.6,596.5M329.9,594.2L332.7,596.9M211.8,596.3L211.8,599.9M228.9,597.0L231.4,599.5M232.8,596.4L232.8,599.0M235.4,596.3L235.4,599.4M239.5,597.1L241.7,599.3M241.8,598.0L244.6,598.0M245.7,596.1L245.7,599.6M252.6,597.0L254.5,598.9M262.2,598.3L266.2,598.3M265.5,596.3L268.3,599.1M267.2,598.2L271.1,598.2M271.0,597.2L273.3,599.5M273.0,598.4L276.3,598.4M275.4,596.9L278.0,599.5M282.5,596.3L282.5,599.1M289.9,596.7L289.9,599.4M291.5,597.0L294.3,599.8M294.5,596.7L296.6,598.8M298.2,596.6L298.2,599.5M301.4,597.9L304.1,597.9M304.5,597.7L307.4,597.7M307.4,597.2L309.3,599.0M311.1,596.8L311.1,599.4M311.7,598.2L315.3,598.2M315.3,597.1L317.2,599.0M317.9,596.7L320.2,599.1M321.2,596.6L321.2,599.6M322.3,598.3L326.0,598.3M325.1,598.2L327.8,598.2M327.3,598.3L331.2,598.3M214.9,599.4L214.9,602.4M215.6,600.7L218.5,600.7M218.9,599.8L221.1,602.0M224.8,598.8L224.8,601.9M227.5,599.0L227.5,602.5M229.2,600.5L231.7,600.5M234.5,599.4L236.6,601.5M237.0,600.5L239.6,600.5M240.3,598.9L240.3,601.8M243.5,598.8L243.5,602.0M247.4,600.5L250.2,600.5M252.2,601.0L254.7,601.0M256.5,598.7L256.5,602.0M258.9,599.4L258.9,602.4M260.0,600.8L262.6,600.8M262.7,599.7L265.3,602.3M265.2,600.6L267.9,600.6M267.9,600.9L270.6,600.9M270.5,600.9L273.6,600.9M274.5,599.2L274.5,602.0M277.3,598.9L277.3,602.1M278.1,600.3L281.9,600.3M283.5,600.9L286.0,600.9M289.8,599.4L289.8,602.1M295.4,598.8L295.4,602.3M296.7,600.7L299.6,600.7M300.2,598.8L300.2,602.2M306.6,599.5L309.4,602.2M310.5,599.2L310.5,602.5M313.6,599.2L313.6,602.6M315.0,599.6L316.9,601.5M318.1,599.5L320.0,601.3M325.3,600.4L328.0,600.4M330.8,599.8L333.2,602.2M213.3,602.5L215.6,604.8M218.7,602.5L220.5,604.3M220.2,603.3L224.1,603.3M230.0,602.0L230.0,605.0M232.7,601.2L232.7,604.8M239.9,602.0L242.0,604.1M243.6,601.6L243.6,604.5M246.6,603.1L250.3,603.1M249.4,602.9L252.7,602.9M252.7,602.1L254.9,604.4M262.5,603.6L265.5,603.6M268.3,601.7L271.1,604.4M284.3,602.3L286.2,604.2M287.1,602.0L287.1,604.7M290.2,602.2L290.2,604.8M292.9,602.3L292.9,604.9M297.6,601.8L297.6,604.8M299.4,602.5L301.5,604.7M302.4,602.2L304.5,604.3M305.9,601.7L305.9,604.8M307.4,602.7L309.2,604.5M312.3,601.7L314.8,604.3M315.0,601.9L317.3,604.2M319.9,602.6L321.9,604.5M322.1,603.6L325.7,603.6M325.0,602.3L327.5,604.8M327.1,603.5L330.6,603.5M214.7,603.9L214.7,607.3M216.2,604.8L218.5,607.2M218.1,606.2L221.9,606.2M222.6,603.9L222.6,607.8M231.9,604.8L234.0,607.0M237.4,604.8L239.3,606.6M240.6,603.8L240.6,607.3M241.9,605.6L245.1,605.6M247.1,605.6L249.9,605.6M254.0,604.5L254.0,608.0M260.5,604.7L263.2,607.4M266.6,604.6L266.6,607.8M269.5,604.5L269.5,607.7M283.6,604.9L285.8,607.2M287.6,604.4L287.6,607.4M290.3,604.2L290.3,607.8M291.9,604.8L293.9,606.8M293.6,606.2L296.2,606.2M295.9,605.9L299.2,605.9M303.3,604.4L303.3,607.0M306.8,604.3L309.3,606.8M309.1,605.6L312.9,605.6M312.0,605.7L315.6,605.7M316.8,606.2L320.5,606.2M319.9,604.6L322.4,607.1M325.3,604.6L327.8,607.1M329.4,604.6L329.4,607.5M330.7,604.8L332.9,607.0M212.5,607.2L212.5,610.5M212.8,608.6L216.7,608.6M221.4,608.2L224.0,608.2M224.4,607.4L226.5,609.5M226.4,607.3L228.3,609.2M229.6,607.4L231.6,609.3M230.9,608.8L234.4,608.8M236.1,608.3L239.4,608.3M240.7,607.1L240.7,609.9M242.3,607.1L245.0,609.8M244.6,608.3L247.2,608.3M248.6,606.9L248.6,609.7M249.6,606.9L252.3,609.6M252.3,608.3L255.9,608.3M254.8,608.7L258.2,608.7M258.0,607.8L259.9,609.7M260.1,608.3L263.2,608.3M265.5,607.4L267.5,609.4M269.2,607.3L269.2,610.2M269.9,608.8L273.1,608.8M289.4,607.2L291.5,609.3M291.5,608.8L294.4,608.8M295.3,606.9L295.3,609.8M296.8,607.4L299.0,609.5M298.9,608.3L302.1,608.3M303.0,607.1L303.0,609.9M304.6,607.1L307.0,609.5M307.1,607.3L309.5,609.7M309.3,608.3L312.4,608.3M312.7,607.8L314.5,609.6M315.1,607.7L317.3,609.9M317.7,607.2L320.0,609.5M320.7,607.4L322.6,609.3M323.2,607.7L325.1,609.6M325.3,608.8L328.5,608.8M328.4,607.9L330.4,609.9M331.0,607.7L333.1,609.7M209.7,609.1L209.7,612.7M210.4,610.9L213.6,610.9M219.6,609.7L219.6,613.1M221.0,609.7L223.3,612.0M232.1,610.3L234.4,612.5M233.9,609.8L236.3,612.2M236.5,610.9L239.7,610.9M242.2,609.6L244.9,612.3M245.9,609.3L245.9,612.7M247.7,610.2L249.7,612.1M249.4,611.4L253.3,611.4M256.1,609.6L256.1,613.3M257.9,610.1L259.7,612.0M260.3,610.4L262.5,612.5M264.2,609.2L264.2,612.3M267.1,609.5L267.1,612.8M269.2,609.5L269.2,613.2M272.2,609.5L272.2,613.4M274.6,609.8L274.6,612.5M275.3,611.3L278.6,611.3M278.4,610.9L281.3,610.9M281.4,609.9L283.5,612.0M289.3,610.0L291.4,612.1M291.0,611.3L294.3,611.3M293.7,611.1L296.3,611.1M298.2,609.4L298.2,613.2M300.5,609.6L300.5,612.7M302.9,609.3L302.9,613.1M306.1,609.2L306.1,612.4M306.9,609.5L309.5,612.1M309.5,610.0L312.1,612.6M312.3,609.8L314.4,611.9M316.5,608.9L316.5,612.7M317.8,609.8L320.2,612.2M324.2,611.1L328.1,611.1M329.0,609.5L329.0,612.8M330.6,609.9L332.4,611.7" stroke="#eeee58" stroke-width="1.7" stroke-linecap="round" fill="none"/>
<path d="M226.1,542.1h3.1M233.1,575.9h5.3M289.9,575.9h2.9M248.4,518.7h3.5M271.7,555.4v4.3M328.1,529.1h4.4M318.4,560.3h3.8M231.4,575.9h4.1M300.3,541.6v5.5M255.4,542.1h4.7M229.2,539.5h4.3M324.8,534.3h4.4M279.5,600.1v4.3M212.9,560.3h5.1M245.1,552.5h5.2M269.1,526.8v3.0M266.5,529.6v5.1M228.7,549.9h4.6M278.5,531.7h2.3M276.9,568.2v2.1M228.0,575.9h5.2M246.9,581.1h4.2M269.1,599.7v4.1M279.5,529.6v2.7M263.9,576.5v3.5M232.2,568.1h2.2M266.5,588.8v3.8M329.5,565.5h3.5M301.3,534.3h5.2M282.0,536.9h2.1M279.5,554.0v4.0M263.9,532.1v4.1M276.9,605.6v4.5M248.3,598.4v5.5M318.9,549.9h3.9M249.4,549.9h2.8M327.8,539.5h3.0M253.8,565.5h4.2M301.0,555.1h4.8M309.3,565.5h5.5M263.9,555.1h2.8M303.1,539.5h5.0M274.3,523.2v5.8M270.9,555.1h5.7M274.3,564.3v3.3M321.3,557.7h4.2M292.5,504.6v2.2M282.1,575.1v2.1M274.3,583.6v4.3M282.9,557.7h5.6M243.0,536.9h4.8M276.5,526.5h3.9M248.3,539.1v3.3M271.7,510.7v3.4M256.1,548.1v3.5M305.7,560.3h3.2M256.1,533.0v2.3M310.1,544.7h2.5M265.8,547.3h2.7M266.5,502.8v3.5M282.1,553.1v2.4M278.8,547.3h2.3M303.1,549.9h4.7M272.8,529.1h4.5M242.9,549.9h3.5M284.7,537.0v5.0M287.3,534.1v2.9M289.1,547.3h5.7M266.5,596.8v4.9M331.1,544.7h3.4M319.7,539.5h5.7M279.5,538.6v5.9M287.3,568.4v4.2M289.5,552.5h4.6M274.3,611.9v5.7M237.9,572.3v4.7M261.3,605.3v4.1M302.9,541.0v3.9M214.6,547.3h2.3M287.3,533.7v5.1M223.8,539.5h4.4M274.3,559.5v3.6M297.7,502.4v4.2M248.3,499.7v2.3M284.7,600.5v5.3M253.5,597.9v4.0M263.9,569.8v3.0M217.9,565.5h4.6M276.9,584.2v3.9M256.1,533.2v3.0M292.5,586.5v4.9M248.3,564.6v5.5M295.1,575.1v4.7M298.2,565.5h2.1M261.3,532.8v3.8M274.3,508.8v5.8M216.4,583.7h4.0M269.1,590.8v2.2M242.7,568.1h5.5M306.6,505.7h2.3M291.8,562.9h5.1M220.7,539.5h4.8M269.1,570.2v4.3M326.6,521.3h2.8M251.0,565.5h2.8M266.5,518.7v2.4M322.1,591.5h4.3M312.4,555.1h2.9M284.7,525.4v2.0M237.9,541.4v5.0M291.3,560.3h2.5M258.7,515.0v4.2M222.8,578.5h5.8M248.3,525.8v4.6M287.3,590.2v3.8M248.3,522.0v5.5M258.7,528.2v2.7M299.8,552.5h5.9M287.3,498.5v5.0M287.3,507.2v2.7M274.3,526.0v5.6M326.5,526.5h4.8M258.7,568.9v2.3M284.7,594.1v5.9M262.7,549.9h5.3M214.4,539.5h4.7M252.5,591.5h6.0M239.9,513.5h5.9M296.0,536.9h5.9M266.5,542.3v4.5M295.1,604.8v2.8M252.6,547.3h5.4M269.1,608.8v3.8M291.4,562.9h4.6M240.1,552.5h2.9M213.2,586.3h4.1M295.8,539.5h2.7M274.3,593.9v5.6M308.1,496.0v3.2M269.1,517.8v5.9M325.4,565.5h5.3M237.7,557.7h3.2M282.1,495.9v2.2M292.9,539.5h3.6M258.7,525.6v5.0M253.3,562.9h3.5M271.7,561.2v4.2M279.5,594.2v2.5M290.5,542.1h4.9M231.7,581.1h3.6M272.0,547.3h5.6M284.7,502.6v4.6M261.3,542.3v2.9M282.1,514.2v4.0M222.0,539.5h3.5M285.9,575.9h3.9M255.5,575.9h2.5M271.7,603.8v3.0M318.3,544.7h4.0M331.2,562.9h5.7M295.5,560.3h5.9M248.3,547.0v5.2M236.4,552.5h3.7M310.7,517.9v3.2M261.3,532.2v4.1M328.2,560.3h2.9M312.3,547.3h3.4M261.8,568.1h5.0M305.1,565.5h5.7M279.5,519.6v5.7M250.1,531.7h3.5M274.3,585.1v4.0M294.0,557.7h3.1M266.5,603.1v5.8M258.7,565.6v4.1M304.8,534.3h2.3M292.4,531.7h5.5M312.0,565.5h4.1M276.1,544.7h3.8M276.9,609.1v3.6M314.1,529.1h3.6M232.7,605.0v4.7M274.3,577.6v3.4M248.3,558.7v3.8M300.3,501.3v2.3M276.9,583.4v4.3M266.5,530.2v5.2M253.5,601.8v3.2M250.0,562.9h2.1M332.2,565.5h5.3M258.7,588.2v4.3M300.3,518.2v3.8M284.7,546.3v3.1M276.9,558.8v5.9M250.0,578.5h3.0M304.5,526.5h5.6M258.7,572.1v4.3M269.1,606.7v3.8M306.5,557.7h2.2M279.5,575.9h3.7M271.7,507.5v4.3M297.7,545.9v2.1M246.0,581.1h3.1M282.1,555.4v2.9M315.5,549.9h5.6M288.0,573.3h2.3M237.9,606.1v4.8M332.9,573.3h2.3M281.5,573.3h4.6M276.9,497.1v3.6M239.5,560.3h5.9M222.9,562.9h3.0M240.5,548.9v4.8M321.2,549.9h3.7M253.5,536.8v3.2M217.5,552.5h5.2M274.3,537.0v4.4M282.1,610.1v5.2M261.3,497.3v3.7M253.3,542.1h5.7" stroke="#ffffff" stroke-width="0.7" fill="none" opacity="0.9"/>
<path d="M263.2,609.5l1.5,1.5M285.8,519.7l1.2,1.2M287.6,583.9l1.9,1.9M287.0,496.9l1.7,1.7M324.9,596.9l1.6,1.6M238.8,537.4l1.1,1.1M307.4,603.1l1.8,1.8M261.3,505.4l1.4,1.4M266.2,569.1l2.1,2.1M331.1,596.1l1.9,1.9M302.1,595.8l1.6,1.6M267.5,554.9l1.8,1.8M267.8,548.1l1.6,1.6M252.3,597.6l1.1,1.1M247.9,540.4l1.2,1.2M231.4,522.2l1.5,1.5M250.0,537.3l1.5,1.5M240.3,538.3l1.8,1.8M260.5,609.0l1.6,1.6M303.9,517.1l1.7,1.7M308.8,589.3l2.0,2.0M239.1,499.0l1.3,1.3M303.9,503.6l1.3,1.3M284.7,608.6l1.6,1.6M311.0,600.4l1.4,1.4M277.9,559.5l1.8,1.8M239.6,578.8l2.0,2.0M225.0,519.8l1.4,1.4M267.2,576.2l1.9,1.9M302.6,580.8l1.7,1.7M298.3,533.6l1.1,1.1M235.3,507.6l1.9,1.9M287.9,566.3l2.0,2.0M222.1,517.1l1.1,1.1M248.0,598.0l2.0,2.0M298.9,571.4l2.0,2.0M219.9,578.9l1.5,1.5M249.3,568.6l2.0,2.0M223.6,519.1l1.2,1.2M230.0,596.8l1.5,1.5M264.3,529.5l1.3,1.3M314.0,584.8l1.6,1.6M224.4,557.9l1.8,1.8M299.0,518.2l1.3,1.3M237.5,520.2l1.5,1.5M268.3,584.0l2.1,2.1M326.4,540.6l1.4,1.4M326.1,526.1l1.8,1.8M223.1,526.6l1.4,1.4M321.4,502.5l1.8,1.8M252.0,504.9l1.2,1.2M222.9,539.8l2.1,2.1M285.7,571.4l1.2,1.2M327.1,587.2l1.2,1.2M324.8,499.6l1.7,1.7M302.4,561.5l2.0,2.0M254.8,573.2l2.1,2.1M239.0,569.9l1.1,1.1M321.9,496.7l1.8,1.8M285.3,554.1l1.1,1.1M231.6,587.7l1.7,1.7M318.9,572.7l1.9,1.9M249.7,580.8l1.6,1.6M309.3,502.9l2.0,2.0M250.8,506.8l1.6,1.6M277.8,528.8l2.0,2.0M243.8,532.7l1.6,1.6M230.5,563.8l1.4,1.4M310.1,552.1l1.6,1.6M270.6,551.9l1.2,1.2M283.5,552.8l1.7,1.7M223.7,564.4l1.4,1.4M322.6,563.7l1.1,1.1M248.8,520.8l1.7,1.7M305.5,576.5l1.2,1.2M327.7,608.3l2.0,2.0M217.3,581.7l1.2,1.2M315.2,509.3l1.1,1.1M286.2,538.8l1.2,1.2M323.1,583.5l1.5,1.5M280.7,525.8l1.1,1.1M279.2,587.2l1.5,1.5M265.4,572.8l1.6,1.6M263.4,574.8l2.0,2.0M289.4,544.6l1.2,1.2M327.9,507.0l2.0,2.0M249.9,584.2l1.6,1.6M308.4,557.5l1.1,1.1M327.0,574.6l2.0,2.0M221.5,578.7l1.6,1.6M326.8,533.3l1.7,1.7M235.3,497.7l1.4,1.4M227.8,541.6l1.2,1.2M313.8,599.5l1.4,1.4M232.1,587.3l1.6,1.6M217.1,497.0l1.7,1.7M263.6,495.0l1.4,1.4M263.9,494.9l1.9,1.9M274.2,569.2l1.7,1.7M253.8,612.0l1.5,1.5M323.1,601.7l1.2,1.2M219.9,525.9l1.3,1.3M216.6,554.8l1.5,1.5M278.6,544.9l2.0,2.0M260.0,511.3l2.0,2.0M276.1,522.5l1.2,1.2M241.5,515.0l1.6,1.6M220.5,513.0l2.0,2.0M221.1,549.6l1.6,1.6M217.3,520.6l1.3,1.3M278.6,515.8l1.9,1.9M316.4,544.4l1.5,1.5M293.6,581.0l1.9,1.9M258.0,599.7l2.0,2.0M325.7,597.0l1.6,1.6M233.9,611.4l1.9,1.9M245.4,537.7l1.4,1.4M254.7,525.6l1.9,1.9M250.2,601.2l1.8,1.8M291.1,552.4l1.2,1.2M250.6,533.5l1.4,1.4M300.8,570.1l1.7,1.7M300.1,515.5l1.3,1.3M246.4,493.9l2.0,2.0M219.2,571.8l2.0,2.0M254.3,585.3l1.6,1.6M256.9,553.6l1.4,1.4M254.8,594.6l1.5,1.5M285.7,535.3l1.9,1.9M293.0,580.0l1.7,1.7M285.0,565.5l2.1,2.1M291.9,583.9l1.9,1.9M266.7,515.5l1.3,1.3M235.0,610.7l1.7,1.7M238.4,555.6l1.8,1.8M315.9,532.4l1.9,1.9M254.6,570.9l1.9,1.9M320.1,493.2l1.6,1.6M258.5,557.3l1.4,1.4M273.0,590.0l1.8,1.8M318.2,510.4l1.7,1.7M221.8,595.0l2.1,2.1M302.4,539.5l1.1,1.1M236.5,536.4l2.0,2.0M225.8,544.2l1.7,1.7M219.3,579.6l1.1,1.1M268.0,600.5l2.0,2.0M246.7,492.7l1.9,1.9M307.8,588.2l1.7,1.7" stroke="#5a5a1c" stroke-width="0.9" fill="none"/>
</g>
<rect x="57.2" y="331.1" width="124.5" height="124.0" fill="none" stroke="#1212f2" stroke-width="1.65"/>
<rect x="208.8" y="331.0" width="124.7" height="124.0" fill="none" stroke="#1212f2" stroke-width="1.65"/>
<rect x="361.8" y="330.7" width="124.6" height="123.8" fill="none" stroke="#1212f2" stroke-width="1.65"/>
<rect x="56.9" y="489.0" width="124.7" height="123.6" fill="none" stroke="#1212f2" stroke-width="1.65"/>
<rect x="208.8" y="489.8" width="124.7" height="123.8" fill="none" stroke="#1212f2" stroke-width="1.65"/>
<line x1="361.7" y1="488.1" x2="361.7" y2="615.7" stroke="#111" stroke-width="1.1"/>
<line x1="382.6" y1="488.1" x2="382.6" y2="615.7" stroke="#111" stroke-width="1.1"/>
<line x1="465.8" y1="488.1" x2="465.8" y2="615.7" stroke="#111" stroke-width="1.1"/>
<line x1="486.4" y1="488.1" x2="486.4" y2="615.7" stroke="#111" stroke-width="1.1"/>
<path d="M361.5,549.7 L483.8,549.7 L483.8,573.0 L476.0,576.5 L462.0,579.5 L440.0,581.5 L420.0,584.0 L408.0,586.0 L396.0,582.0 L382.0,577.0 L370.0,572.0 L361.5,569.0Z" fill="#756c26"/>
<path d="M367.4,544.7L368.3,555.4M370.3,545.1L371.3,555.3M385.2,545.6L384.9,555.4M402.6,545.5L403.6,554.9M471.9,544.7L472.3,555.4M362.9,548.3L363.5,556.4M365.5,547.4L364.9,555.2M368.7,549.0L368.3,555.4M369.5,546.5L369.9,555.8M377.9,548.0L376.9,557.6M386.8,546.8L385.8,557.6M392.1,547.6L391.3,556.4M395.6,548.7L396.5,556.6M400.2,549.1L400.9,556.0M402.4,548.0L403.0,556.5M407.0,545.9L408.3,556.5M411.6,547.7L411.5,555.6M423.3,547.9L423.9,557.4M425.0,546.5L424.0,555.6M458.4,546.7L459.2,556.3M469.0,548.0L468.3,555.6M477.3,548.5L477.6,554.5M480.3,546.6L480.6,557.6M379.9,551.6L379.5,558.2M386.7,550.3L386.3,557.2M387.4,549.3L387.3,559.5M389.6,550.4L389.9,557.2M391.6,549.3L391.2,559.0M406.1,550.3L406.5,558.4M414.5,550.1L414.0,557.7M416.7,549.4L417.6,557.5M418.4,550.6L417.7,556.6M437.0,549.5L437.3,560.2M444.7,550.2L444.4,557.1M459.3,549.9L460.5,560.1M466.9,549.6L466.7,557.1M478.4,549.6L478.4,558.5M483.5,550.2L482.8,556.5M364.2,553.0L364.5,560.0M366.0,552.1L366.3,560.4M375.4,553.3L374.9,559.7M384.2,552.0L383.4,559.2M388.1,553.6L388.9,560.5M392.6,553.6L393.4,560.2M402.9,551.4L403.7,560.1M422.3,551.2L423.7,562.1M430.6,552.4L430.2,561.8M438.7,550.8L438.0,561.2M449.7,550.5L449.7,560.9M461.1,551.3L460.7,559.5M463.3,551.7L462.2,561.9M468.2,552.3L467.5,560.9M471.8,551.7L471.1,562.0M479.6,553.1L479.5,559.4M361.8,554.9L361.9,561.5M391.2,554.8L390.4,560.8M401.5,554.5L402.3,561.3M415.6,554.9L416.0,560.9M419.1,554.3L418.2,561.1M421.1,553.8L420.6,562.3M423.1,553.9L424.2,563.8M433.6,554.7L434.3,560.9M435.8,553.6L436.2,562.8M463.4,553.4L462.5,563.8M471.8,554.1L470.5,564.1M480.5,554.7L481.4,563.2M367.2,557.2L366.4,564.4M375.6,555.1L375.4,565.2M389.7,557.3L389.7,564.2M392.4,556.8L392.4,563.2M395.8,555.7L396.5,564.5M401.3,556.8L400.8,564.0M414.0,555.4L415.4,566.2M440.6,556.0L441.5,566.1M444.7,556.8L444.2,565.0M448.6,557.8L449.4,564.2M471.2,555.6L470.5,564.6M481.0,557.1L480.5,564.1M482.0,555.0L482.1,565.9M380.5,557.7L379.2,567.4M380.2,558.7L381.0,568.2M386.8,558.1L386.2,568.1M388.1,557.9L387.6,566.5M390.9,558.3L390.0,567.1M405.4,558.6L405.4,567.1M427.3,560.0L427.5,567.1M447.0,557.7L446.2,566.8M449.9,560.0L449.7,567.3M451.9,557.9L451.8,567.5M467.5,557.7L467.6,567.4M471.6,559.1L471.2,566.1M473.9,559.4L474.8,566.5M477.7,559.6L478.5,565.8M362.8,560.1L363.7,568.6M368.5,560.9L367.7,569.8M396.6,561.9L396.9,569.1M401.6,561.3L401.6,568.9M419.2,560.6L418.9,569.2M420.6,562.8L421.0,568.9M431.4,560.4L432.4,568.3M445.2,561.7L444.9,568.4M449.3,560.1L448.9,569.0M452.1,560.3L452.9,568.2M474.4,560.6L474.0,570.9M362.7,563.4L363.2,571.9M385.7,562.5L386.3,573.1M388.1,564.4L388.3,571.8M390.5,562.7L389.3,572.6M393.1,562.5L392.0,572.0M396.0,564.2L396.1,570.8M421.1,564.1L421.3,571.3M437.0,564.1L436.2,572.2M442.5,562.8L443.3,572.2M445.2,562.7L445.8,573.6M449.0,563.8L448.7,571.0M455.0,561.5L454.6,572.0M459.2,563.4L458.4,570.3M461.5,563.5L461.3,570.9M468.3,563.0L469.4,570.5M470.5,564.5L471.2,571.2M482.9,564.7L483.7,571.6M369.5,566.2L369.8,572.8M399.4,566.0L399.7,573.3M425.8,567.1L426.6,573.5M427.0,565.8L427.8,572.4M441.7,566.0L442.3,572.1M448.3,565.8L447.9,572.3M450.3,567.0L450.4,573.6M452.2,566.3L451.4,573.8M469.4,565.7L470.0,574.0M475.5,564.1L476.4,573.7M477.7,563.8L478.1,574.7M371.7,568.0L372.7,575.1M374.6,568.6L374.6,575.3M401.4,569.0L402.1,575.6M416.0,567.7L415.5,575.5M424.3,568.0L425.0,575.2M439.0,565.6L438.0,576.2M442.6,567.7L441.8,574.4M451.9,569.3L451.5,575.5M457.7,567.3L458.1,575.1M461.3,567.9L460.9,574.8M482.0,567.1L481.8,576.0M382.1,569.9L381.3,577.9M383.6,570.0L384.2,576.1M388.2,569.3L387.9,579.5M407.2,569.7L406.9,577.8M412.2,569.9L411.6,576.9M417.3,569.4L417.4,576.8M420.7,568.9L421.8,579.8M441.5,569.7L441.7,578.9M453.9,568.2L454.5,579.1M465.2,569.5L465.7,578.8M391.3,572.0L391.9,579.1M394.4,570.8L393.4,581.5M401.9,572.9L401.3,580.2M421.1,571.5L420.2,580.5M432.2,571.6L432.7,581.6M440.4,572.0L440.7,578.5M458.3,572.0L459.5,580.9M464.7,570.9L465.0,580.2M391.9,574.4L392.4,583.4M397.0,573.6L396.5,583.6M399.8,575.1L399.3,583.2M407.8,573.9L407.0,584.5M410.5,574.1L410.0,583.2M429.3,573.4L429.9,581.8M436.0,573.5L436.0,582.3M438.4,575.7L438.8,581.8M442.9,573.7L443.1,583.9M457.0,573.8L456.2,581.6M460.2,575.2L460.0,581.4M394.1,575.2L394.6,584.6M397.2,575.2L396.2,584.7M399.9,576.5L399.5,582.9M400.3,577.5L401.2,585.2M403.1,574.8L402.2,585.0M405.5,574.8L405.5,585.0M408.7,577.2L409.7,585.2M411.5,577.0L411.8,585.5M416.7,575.7L416.5,586.0M439.0,576.6L438.6,582.7M440.4,576.6L440.7,583.2M453.3,576.8L453.6,583.2M396.0,577.1L397.1,586.8M403.1,579.2L402.8,586.5M416.8,578.1L416.9,586.3M405.5,579.0L406.6,589.5M407.8,581.6L407.2,587.9M416.0,579.1L416.7,589.6" stroke="#ccc454" stroke-width="1.6" stroke-linecap="round" fill="none"/>
<path d="M375.0,545.6L376.0,553.9M432.7,546.1L432.1,554.0M449.9,546.6L449.6,553.7M458.0,544.9L458.8,555.0M373.8,547.1L374.5,555.6M415.9,549.1L415.4,556.3M434.4,547.0L434.8,555.3M436.4,547.8L436.9,554.4M444.2,549.1L445.1,556.4M454.5,547.1L454.3,557.0M455.5,548.0L454.9,554.4M459.6,546.1L459.9,556.3M462.4,548.2L462.8,557.3M365.0,550.6L365.8,558.1M369.2,549.6L368.5,558.8M373.8,548.4L374.4,558.4M399.9,548.3L401.1,559.0M403.6,549.8L403.8,556.9M438.4,551.5L439.2,557.9M441.4,549.6L440.6,557.2M449.4,551.2L448.7,558.5M457.7,549.1L458.9,559.9M469.8,548.4L469.5,558.1M471.1,550.9L471.1,557.5M480.7,550.7L480.1,558.4M379.4,551.4L378.1,561.2M380.8,553.4L381.6,560.5M390.5,552.2L389.8,561.0M399.3,552.9L399.2,559.1M413.4,551.1L412.4,562.1M413.7,552.0L415.0,562.0M418.9,552.4L418.7,560.4M420.4,550.8L421.4,560.6M425.3,551.6L424.9,562.2M435.1,551.8L434.1,562.2M448.1,551.6L447.2,560.5M458.1,551.7L458.8,559.8M465.2,552.6L466.0,558.6M365.0,552.5L365.5,563.3M373.1,555.8L373.2,562.5M378.1,556.0L378.9,562.5M381.6,553.9L381.3,561.5M383.9,553.8L383.2,561.9M386.1,552.1L386.4,563.1M392.0,554.6L392.1,562.8M397.7,553.2L397.0,562.1M399.9,554.0L399.5,563.4M406.7,554.3L407.0,562.9M414.7,555.0L415.4,563.5M425.5,554.9L425.7,563.6M427.8,554.7L427.0,561.2M441.7,553.3L441.0,562.6M454.3,554.1L454.7,564.1M458.9,555.1L458.0,563.1M465.4,555.7L465.8,562.6M466.0,553.4L467.1,563.6M469.2,554.5L470.0,561.0M476.9,554.5L476.5,563.8M482.4,553.4L483.4,563.1M387.4,556.5L387.8,563.6M403.6,556.0L402.6,564.0M410.5,555.1L409.8,565.0M418.8,555.9L419.9,565.1M425.2,556.1L426.0,565.6M430.0,555.8L430.9,565.0M436.2,554.9L435.2,565.0M438.5,556.9L438.2,564.9M448.3,557.4L447.6,565.1M452.2,557.8L451.4,563.8M454.5,557.0L455.1,565.0M464.6,555.0L465.6,565.3M467.1,557.0L466.2,565.1M473.9,557.1L474.4,563.3M478.5,557.3L478.4,565.6M365.4,559.3L366.4,567.9M368.1,559.3L368.1,568.3M371.0,558.5L372.3,568.9M374.9,558.4L375.8,568.2M377.6,558.0L376.7,567.2M395.3,557.6L394.2,567.5M397.7,558.9L397.4,566.7M407.5,558.2L408.6,569.1M414.5,559.0L415.4,566.6M423.5,558.5L423.4,567.0M425.3,559.4L424.2,568.0M442.5,559.6L442.0,565.7M460.2,559.3L460.9,566.0M462.1,559.9L461.7,567.4M362.0,561.9L361.8,570.1M373.8,561.0L374.2,569.7M385.8,560.3L386.6,569.9M387.7,562.4L388.4,569.1M411.4,562.4L411.5,568.5M416.7,560.7L417.8,571.2M422.5,561.6L422.5,569.7M428.4,560.7L427.9,568.4M429.5,561.1L428.8,569.2M434.0,562.1L434.4,568.7M462.1,560.7L462.1,568.0M466.5,561.4L466.1,567.8M477.3,561.1L478.1,569.0M370.5,564.0L371.0,570.4M379.3,563.4L378.6,570.1M410.9,563.1L410.5,570.3M422.3,564.4L423.0,571.8M425.4,563.1L424.8,570.1M427.4,561.4L427.7,572.2M429.8,563.2L429.2,572.2M462.5,564.1L461.9,570.9M467.9,561.8L466.8,572.3M474.4,563.9L474.8,571.4M475.3,564.5L475.8,571.0M390.3,565.9L390.3,573.8M396.7,564.8L395.9,575.0M414.8,565.0L414.7,572.4M429.7,565.7L429.1,574.6M438.0,565.4L438.8,572.4M445.9,565.2L445.7,573.0M453.8,564.2L452.8,573.1M456.5,565.3L457.5,575.3M462.6,564.8L462.9,574.0M479.2,565.2L480.0,572.3M385.6,566.9L386.1,575.7M388.5,566.0L387.8,576.7M391.9,567.8L391.6,575.5M402.5,567.8L403.6,577.0M407.7,567.1L407.1,575.4M409.8,568.8L409.6,574.9M426.9,567.4L427.4,577.3M444.8,568.3L444.3,576.2M449.0,567.4L450.0,575.4M462.1,568.4L462.3,575.3M465.7,566.9L466.9,575.9M471.6,566.3L470.4,576.1M476.8,567.2L475.7,577.0M479.7,568.1L479.9,575.9M386.8,568.0L386.3,579.0M389.6,570.1L390.2,578.0M394.0,569.3L393.4,578.0M405.3,570.9L406.3,577.5M418.3,568.3L418.9,577.9M437.0,569.8L436.5,576.9M448.9,570.4L449.2,576.5M452.3,569.6L452.3,578.0M457.7,569.2L458.4,576.9M459.7,570.4L460.0,578.6M467.2,570.7L467.8,577.1M480.2,568.6L478.9,578.3M388.6,570.4L388.0,581.3M396.2,571.7L395.8,580.9M398.8,573.6L399.0,580.2M412.1,572.0L412.7,581.4M416.8,572.2L417.4,579.9M424.7,573.2L424.9,579.2M435.8,572.4L436.7,579.3M449.4,572.3L449.8,579.7M467.1,572.3L466.4,581.6M471.1,572.6L471.9,579.8M390.8,574.3L390.0,581.9M395.3,575.0L394.5,581.4M403.5,575.1L403.8,583.2M414.3,574.5L414.2,581.8M419.3,575.7L419.6,582.2M420.6,574.3L421.3,580.7M424.6,574.0L425.6,584.1M447.6,573.0L447.3,583.3M452.9,573.8L452.0,583.0M390.9,576.2L390.8,583.9M407.4,575.2L408.4,584.3M413.3,576.8L414.0,583.5M419.2,576.0L419.5,583.4M423.0,576.9L422.8,585.9M425.1,576.9L425.8,583.0M429.2,577.0L428.8,583.1M433.8,576.4L432.6,585.6M436.0,576.0L436.2,583.4M450.6,575.6L449.7,585.5M401.6,579.8L400.9,586.7M408.1,580.3L408.6,586.6M410.5,579.9L409.7,586.2M411.0,580.4L411.8,586.6M414.5,579.8L414.6,586.4M422.0,577.8L423.0,586.4M425.6,577.8L426.7,586.5M415.2,579.2L414.7,589.1" stroke="#d8d05c" stroke-width="1.6" stroke-linecap="round" fill="none"/>
<path d="M388.9,546.9L388.5,553.0M418.2,546.3L418.5,553.4M421.1,546.8L420.3,553.7M451.0,546.0L451.0,553.5M463.9,545.5L463.2,554.4M473.4,545.9L473.2,553.8M475.6,545.1L476.8,556.0M373.1,548.5L372.3,556.2M379.9,548.6L379.7,556.4M388.3,547.1L387.6,557.4M394.7,545.9L395.7,556.8M398.4,548.0L398.9,554.5M414.5,549.1L413.9,556.3M418.0,547.7L417.7,555.0M420.2,546.4L420.2,557.2M426.5,547.7L427.5,556.7M432.5,546.2L431.3,556.7M437.0,547.8L438.3,557.1M441.8,549.3L440.8,555.9M451.4,548.6L452.0,556.3M465.7,547.6L464.8,556.9M473.4,547.6L473.7,556.7M363.3,549.8L364.3,557.6M369.1,549.4L370.0,560.0M372.2,551.4L372.8,557.6M377.5,551.4L377.2,557.6M394.5,549.2L393.8,557.7M400.2,549.0L399.3,559.9M408.5,548.8L407.3,558.1M409.9,549.5L409.8,558.5M422.8,549.5L423.4,559.9M425.0,549.1L424.2,559.4M428.5,549.8L428.0,557.6M453.8,549.4L452.7,559.2M465.4,550.4L465.4,556.6M475.4,548.7L474.9,558.5M367.9,551.6L367.3,560.2M373.3,551.2L372.6,561.4M376.9,550.8L377.0,560.7M386.6,552.7L385.9,560.2M400.9,552.3L401.1,561.7M405.3,551.9L405.1,561.2M409.9,552.1L410.0,559.4M426.6,552.1L427.5,560.0M431.4,551.3L431.8,559.5M444.8,550.8L446.1,561.2M469.0,553.4L469.1,560.6M478.8,552.5L479.0,560.7M367.1,554.5L367.5,562.6M370.0,553.9L369.7,563.2M374.2,554.4L374.9,562.6M404.1,554.8L403.2,561.7M408.9,554.0L409.6,562.8M412.9,552.7L412.6,562.9M431.9,555.4L431.2,562.5M438.1,553.8L438.9,562.2M442.9,553.9L444.0,562.1M446.1,552.3L445.3,563.0M446.9,553.4L446.6,563.4M449.2,554.9L449.4,563.3M455.2,553.0L455.3,563.2M474.7,554.9L473.9,560.9M478.0,553.3L478.4,563.1M361.9,557.3L361.6,564.5M364.7,556.8L364.0,564.5M368.1,556.7L367.3,565.1M376.9,555.9L376.7,564.1M379.3,556.5L379.2,566.5M386.0,556.3L387.1,564.9M394.3,556.0L394.5,566.3M398.4,556.7L398.9,566.0M408.6,556.8L407.6,564.0M417.4,554.8L416.5,564.9M442.5,556.4L441.9,566.7M457.2,556.9L456.0,565.9M459.6,555.9L458.5,565.2M463.0,557.4L463.5,564.5M364.0,557.0L365.0,567.9M369.8,559.3L370.3,567.5M402.5,557.3L402.7,567.2M410.9,557.4L410.4,567.3M412.7,558.9L411.8,568.2M417.2,557.0L416.9,567.4M421.8,558.7L421.0,568.1M431.2,558.6L431.5,565.8M437.1,559.4L437.1,566.9M453.9,558.2L454.9,566.0M456.1,558.9L456.9,565.7M458.8,559.6L459.0,567.4M464.3,557.0L464.5,567.9M469.0,558.9L469.8,567.3M479.7,557.7L481.0,567.5M364.8,562.0L365.2,568.9M369.7,560.8L370.1,569.7M379.6,559.7L379.8,569.1M381.9,561.0L381.3,570.1M391.0,559.0L390.0,569.9M402.9,560.2L404.1,570.3M411.2,561.8L410.3,568.5M413.5,560.9L413.7,570.3M442.8,560.0L442.0,570.5M447.5,561.0L447.3,569.9M453.8,560.6L453.4,571.0M456.0,561.9L455.3,569.4M459.2,559.4L460.1,570.1M464.7,561.8L464.0,567.9M472.0,560.5L472.4,569.2M475.6,561.3L474.7,569.2M369.2,561.2L367.7,571.8M374.7,563.7L374.6,571.0M380.2,562.9L381.2,573.1M400.3,563.1L399.3,570.1M404.2,562.6L402.9,571.5M405.6,561.4L406.9,572.0M417.3,562.9L416.4,571.1M431.0,563.7L431.6,570.5M434.1,563.9L433.9,572.4M438.4,564.4L437.8,571.6M451.0,564.0L451.8,570.4M465.1,562.6L465.2,572.2M477.5,563.3L478.2,570.8M375.0,565.2L375.1,572.1M382.0,566.2L381.6,573.8M383.0,565.9L382.4,573.4M385.5,563.7L385.8,574.3M395.3,566.5L394.9,573.3M408.9,564.7L409.5,574.7M411.8,565.4L412.0,575.2M419.8,564.7L420.9,575.6M432.7,564.9L431.6,573.5M436.6,565.7L437.4,572.6M440.4,567.0L440.4,573.5M458.5,566.8L459.0,573.8M472.1,564.0L471.1,574.5M371.8,566.8L370.6,575.6M376.4,568.7L376.9,576.3M380.9,567.3L380.4,577.8M394.2,566.3L395.3,576.3M405.8,566.7L405.8,575.9M423.6,567.8L423.8,574.8M430.4,566.3L429.6,576.3M430.8,566.7L431.3,576.7M440.5,567.2L440.6,576.9M469.1,567.3L469.6,575.5M478.2,567.0L479.0,574.9M378.8,568.6L379.8,578.1M395.9,569.4L396.8,579.8M401.2,571.1L401.9,577.3M403.3,570.4L402.4,579.1M432.3,570.6L432.0,578.7M433.5,569.2L433.0,578.4M442.9,569.7L442.1,578.0M446.1,568.8L445.5,579.7M448.1,567.9L447.8,578.4M456.9,568.3L456.8,577.8M462.7,570.0L462.7,578.2M474.4,569.0L473.6,578.6M482.0,570.1L482.1,577.1M379.1,571.0L379.7,579.5M386.2,571.8L386.7,578.8M390.0,571.6L390.8,581.0M407.2,572.5L406.8,581.3M409.0,571.9L409.5,580.5M419.5,572.1L418.3,580.7M433.6,571.1L434.7,580.5M442.9,571.1L443.3,580.4M445.7,572.7L444.7,580.7M447.3,570.2L447.0,580.7M451.8,572.2L451.4,579.2M455.2,570.4L456.2,581.1M386.9,574.6L387.8,582.1M401.6,574.4L402.3,581.9M405.2,573.8L404.2,582.6M415.3,572.9L416.6,583.6M433.8,573.0L433.3,583.6M440.9,573.4L439.9,582.1M446.0,574.7L445.9,581.4M449.9,573.0L448.9,583.0M453.8,574.3L453.6,584.1M462.2,573.3L462.6,583.4M464.7,574.5L465.4,582.8M466.8,574.0L466.0,582.5M447.5,575.1L447.7,585.9M450.7,576.7L451.6,583.4M430.3,577.9L430.3,587.0" stroke="#c0b84c" stroke-width="1.6" stroke-linecap="round" fill="none"/>
<path d="M414.9,545.1L413.9,555.3M438.6,545.9L437.6,554.2M443.4,546.4L444.1,554.2M447.9,546.6L447.3,553.5M461.3,547.2L461.5,553.3M477.5,545.3L477.2,554.7M380.7,549.7L380.2,555.7M383.2,548.8L383.0,555.0M389.8,548.3L390.5,556.9M405.7,548.6L406.0,554.9M409.9,547.0L411.4,557.4M428.9,545.7L429.1,556.4M441.7,548.6L442.7,556.5M447.3,547.2L446.4,556.2M449.8,548.0L450.4,554.9M466.9,548.4L468.1,557.1M471.2,549.0L472.0,555.5M476.2,548.5L475.2,555.8M481.9,548.9L481.8,556.3M381.9,548.2L381.4,558.3M383.2,549.7L382.7,557.6M396.2,547.9L396.1,558.9M412.2,548.8L413.1,559.3M419.8,550.1L420.4,557.1M429.4,549.1L429.4,558.4M432.3,548.0L431.6,558.7M434.5,550.9L434.3,558.8M443.9,550.2L443.1,558.2M446.6,551.8L446.3,558.1M452.2,548.8L452.3,558.2M456.2,550.8L455.3,559.0M462.1,550.2L461.6,556.5M474.3,549.0L474.1,558.1M361.4,551.2L361.7,561.1M370.4,552.0L370.9,559.3M394.6,551.3L394.4,561.2M397.1,552.9L397.1,559.6M406.1,550.5L407.6,561.0M415.9,551.1L417.0,560.2M436.3,553.3L435.7,560.0M441.0,551.4L441.0,560.5M443.2,553.7L442.6,560.4M452.0,551.8L452.8,561.3M453.4,553.8L453.7,559.8M456.2,550.7L457.4,561.2M473.4,552.4L473.5,560.5M475.3,552.5L475.7,559.4M481.4,551.9L481.9,559.1M364.1,554.4L363.5,563.2M377.0,553.7L375.9,564.6M388.0,552.5L387.5,563.0M393.6,554.9L393.8,561.3M405.7,554.1L406.2,562.9M430.7,553.9L429.9,562.1M451.9,554.4L452.7,562.7M461.2,555.3L461.1,561.6M369.4,555.6L369.4,564.4M372.8,555.1L371.7,565.9M380.4,556.3L380.8,565.3M384.1,554.7L384.4,565.7M405.3,557.3L406.0,564.0M412.6,557.4L413.0,563.9M420.4,557.2L419.8,564.6M422.4,556.2L423.4,564.3M427.6,555.6L427.5,566.5M432.7,556.0L432.3,563.9M434.3,556.7L433.4,564.9M460.2,556.0L459.7,565.3M469.8,556.5L470.4,565.8M476.9,555.2L476.2,565.4M384.7,557.9L383.4,568.0M392.9,559.7L393.1,567.4M399.5,559.6L399.3,565.8M400.4,559.1L401.1,568.0M419.4,558.5L418.8,568.9M429.9,558.2L429.3,568.1M434.3,559.4L434.2,565.7M438.7,557.8L438.8,567.1M439.5,556.6L440.2,567.4M445.7,559.7L446.1,567.3M476.6,558.0L475.7,567.5M481.9,558.8L482.8,566.0M371.4,559.7L372.0,568.9M376.4,560.9L376.0,570.4M382.9,561.0L382.9,570.0M393.1,560.9L393.3,568.5M393.5,561.1L394.0,570.8M397.8,560.1L398.5,568.9M404.9,559.9L405.1,568.7M407.1,559.1L407.1,569.4M426.5,561.4L425.5,569.8M436.8,560.0L435.9,569.7M438.7,561.2L439.9,570.5M441.1,559.6L441.5,570.6M459.4,559.1L458.5,569.4M469.1,560.5L467.9,570.5M480.7,560.1L481.5,570.0M482.8,560.7L481.9,570.4M366.9,563.9L366.5,570.3M372.8,562.9L373.1,570.8M376.4,562.6L376.7,573.5M383.4,562.8L382.3,573.0M393.8,562.1L394.4,571.3M400.6,562.7L400.6,571.9M407.2,565.0L408.0,571.1M412.0,563.1L411.2,570.8M413.6,563.5L414.4,570.9M418.7,563.3L418.7,570.6M440.6,561.1L441.3,572.0M446.4,562.5L447.2,571.8M455.0,563.8L455.8,570.3M479.6,563.0L480.1,570.3M364.2,566.0L364.3,573.4M365.5,564.1L365.7,574.2M368.2,564.1L367.6,574.7M372.0,565.1L372.6,573.7M377.4,564.4L377.1,573.4M379.7,565.3L379.6,572.6M389.2,565.3L388.3,575.3M392.9,564.5L393.3,575.4M400.2,566.0L401.1,572.5M402.4,564.0L403.8,574.5M406.1,564.4L406.6,574.0M407.0,565.7L408.2,574.4M417.4,567.0L417.1,573.2M418.2,565.0L417.4,572.3M422.1,566.3L422.5,572.7M434.2,565.0L433.7,572.2M460.9,566.6L460.7,572.7M465.4,565.9L464.4,574.6M467.7,564.9L467.1,574.2M473.5,565.7L474.2,573.4M482.4,564.5L481.9,573.7M378.5,567.5L378.6,575.6M383.6,566.6L382.2,576.3M389.1,566.1L390.3,576.9M396.8,566.7L397.4,575.5M397.9,566.7L398.3,576.1M411.5,569.0L411.5,576.2M413.9,567.8L414.1,575.2M419.6,568.7L419.4,576.0M421.2,566.6L421.4,575.1M434.6,567.2L434.2,576.1M436.5,569.3L437.2,575.2M447.2,567.8L446.3,575.8M454.9,567.2L454.6,574.6M455.7,567.2L456.3,575.5M464.9,565.3L464.5,576.3M472.6,567.6L473.1,576.2M375.4,569.5L375.3,577.4M377.3,568.6L377.1,578.9M393.2,569.7L392.7,578.7M397.8,568.8L398.4,579.7M409.7,569.5L408.9,579.5M414.7,570.5L415.6,578.2M423.6,570.5L424.2,578.7M425.8,570.6L426.1,577.2M427.5,568.8L428.1,578.6M429.4,568.4L429.1,577.8M439.3,568.3L438.6,579.1M468.9,569.1L468.6,579.8M472.3,570.7L471.3,578.0M476.3,569.8L476.3,576.2M478.1,570.5L478.1,577.6M381.7,572.3L381.5,580.6M384.2,572.2L384.4,578.5M403.7,572.0L403.2,578.5M405.3,570.3L405.8,580.8M415.1,572.9L414.9,579.9M422.6,572.4L423.3,581.0M427.6,573.0L426.5,580.8M430.2,572.6L430.1,580.0M437.9,571.4L438.6,582.3M454.9,572.0L454.2,579.7M460.6,573.0L460.3,579.1M462.8,573.0L462.3,580.8M469.2,570.3L469.0,580.5M474.3,571.6L474.0,581.0M475.9,571.9L475.5,579.5M411.5,573.2L411.6,582.2M423.0,574.4L422.6,583.8M427.6,573.0L427.2,583.0M431.3,575.5L430.9,582.6M458.6,572.8L458.6,583.3M421.4,577.1L420.2,585.4M427.4,575.8L426.9,584.1M433.1,577.1L432.3,584.2M442.7,575.6L442.0,585.1M406.3,577.7L406.4,588.7M419.1,578.6L419.8,588.0M420.4,579.1L420.7,587.8M410.0,579.4L409.6,590.2" stroke="#e0d864" stroke-width="1.6" stroke-linecap="round" fill="none"/>
<path d="M419.8,548.6L417.2,550.9M431.3,549.1L433.9,552.0M367.3,554.2L370.0,554.0M379.8,552.0L383.1,555.4M399.9,550.7L403.0,553.7M405.0,551.5L403.1,553.6M439.7,552.7L441.7,554.6M443.1,554.4L447.2,554.8M446.5,555.0L450.1,555.2M456.3,552.7L453.6,555.2M368.1,557.2L370.1,559.3M399.7,556.6L397.7,558.3M402.2,558.1L406.2,558.3M417.3,555.4L415.4,557.7M439.4,557.9L444.1,558.2M377.0,559.6L375.2,561.8M393.8,558.9L391.2,562.1M399.0,560.7L401.6,563.2M455.4,559.9L457.3,561.6M463.1,561.0L461.2,562.6M364.5,565.3L368.5,565.5M392.8,564.6L397.0,564.2M428.5,565.4L433.2,565.6M449.1,563.9L451.3,566.4M381.1,570.4L384.6,570.0M385.3,569.4L382.9,572.0M394.9,571.0L397.9,570.8M400.9,570.0L402.8,572.1M408.1,568.6L405.8,571.5M444.1,568.5L447.8,568.1M454.4,569.3L458.2,569.7M464.4,567.8L467.2,571.0M474.4,569.9L472.4,571.8M479.3,569.1L476.9,571.6M392.7,573.0L395.3,576.4M400.2,573.2L397.6,575.8M439.6,573.3L437.4,575.6M445.2,572.5L448.5,575.0M475.6,571.6L478.5,573.8M479.3,571.9L481.1,574.0M382.3,577.8L386.9,577.6M398.6,574.9L396.0,578.4M404.3,578.9L401.4,582.1" stroke="#d8d05c" stroke-width="1.5" stroke-linecap="round" fill="none"/>
<path d="M436.8,549.1L438.9,550.8M378.7,551.6L376.0,554.2M420.3,554.8L424.3,555.4M428.4,554.0L432.9,554.2M458.3,553.0L456.4,555.1M480.6,552.9L482.7,554.7M387.0,559.2L390.8,558.9M392.1,556.7L394.8,557.0M409.0,557.2L413.0,556.9M422.9,557.0L425.4,557.3M427.7,557.1L429.8,559.9M467.0,555.4L464.9,557.9M388.1,559.5L389.8,561.6M411.4,561.8L414.6,561.8M425.2,561.3L428.2,561.5M447.3,562.4L452.0,562.7M453.3,558.6L456.3,561.8M468.8,562.3L471.9,561.9M483.9,561.1L480.7,564.7M405.9,566.0L403.9,567.8M410.6,563.7L407.6,566.6M461.0,566.8L464.3,566.3M470.9,565.6L468.0,568.6M483.2,565.4L480.5,568.9M390.6,569.9L394.9,570.4M416.5,568.8L420.2,572.1M423.0,567.2L425.4,570.4M427.3,569.2L430.2,569.1M432.3,569.8L436.3,569.6M447.0,569.8L451.5,569.6M388.7,575.1L391.7,575.2M407.4,571.4L403.8,574.6M431.4,570.9L428.2,573.8M464.0,572.3L467.1,572.1M473.8,572.3L470.8,575.6M380.3,575.1L383.2,578.2M391.7,577.1L389.6,579.3M428.3,576.6L432.8,576.3M439.0,578.0L443.0,578.2" stroke="#c8c050" stroke-width="1.5" stroke-linecap="round" fill="none"/>
<line x1="443.5" y1="575.5" x2="443.5" y2="580.5" stroke="#c4bc50" stroke-width="1.5"/>
<line x1="446.7" y1="578.4" x2="446.7" y2="583.4" stroke="#c4bc50" stroke-width="1.5"/>
<line x1="409.7" y1="580.8" x2="409.7" y2="585.8" stroke="#c4bc50" stroke-width="1.5"/>
<line x1="419.0" y1="582.1" x2="419.0" y2="587.1" stroke="#c4bc50" stroke-width="1.5"/>
<line x1="443.0" y1="575.7" x2="443.0" y2="580.7" stroke="#c4bc50" stroke-width="1.5"/>
<line x1="401.9" y1="585.0" x2="401.9" y2="590.0" stroke="#c4bc50" stroke-width="1.5"/>
<line x1="392.3" y1="580.2" x2="392.3" y2="585.2" stroke="#c4bc50" stroke-width="1.5"/>
<line x1="412.9" y1="586.3" x2="412.9" y2="591.3" stroke="#c4bc50" stroke-width="1.5"/>
<line x1="481.4" y1="570.8" x2="481.4" y2="575.8" stroke="#c4bc50" stroke-width="1.5"/>
<line x1="457.9" y1="576.6" x2="457.9" y2="581.6" stroke="#c4bc50" stroke-width="1.5"/>
<line x1="374.6" y1="573.2" x2="374.6" y2="578.2" stroke="#c4bc50" stroke-width="1.5"/>
<line x1="390.1" y1="583.2" x2="390.1" y2="588.2" stroke="#c4bc50" stroke-width="1.5"/>
<line x1="460.2" y1="571.6" x2="460.2" y2="576.6" stroke="#c4bc50" stroke-width="1.5"/>
<line x1="468.9" y1="573.1" x2="468.9" y2="578.1" stroke="#c4bc50" stroke-width="1.5"/>
<line x1="441.7" y1="576.3" x2="441.7" y2="581.3" stroke="#c4bc50" stroke-width="1.5"/>
<line x1="424.2" y1="579.7" x2="424.2" y2="584.7" stroke="#c4bc50" stroke-width="1.5"/>
<line x1="391.2" y1="581.6" x2="391.2" y2="586.6" stroke="#c4bc50" stroke-width="1.5"/>
<line x1="441.8" y1="580.5" x2="441.8" y2="585.5" stroke="#c4bc50" stroke-width="1.5"/>
<line x1="367.3" y1="573.2" x2="367.3" y2="578.2" stroke="#c4bc50" stroke-width="1.5"/>
<line x1="403.3" y1="584.8" x2="403.3" y2="589.8" stroke="#c4bc50" stroke-width="1.5"/>
<line x1="456.3" y1="571.8" x2="456.3" y2="576.8" stroke="#c4bc50" stroke-width="1.5"/>
<line x1="405.3" y1="581.4" x2="405.3" y2="586.4" stroke="#c4bc50" stroke-width="1.5"/>
<line x1="398.5" y1="585.2" x2="398.5" y2="590.2" stroke="#c4bc50" stroke-width="1.5"/>
<line x1="390.2" y1="583.4" x2="390.2" y2="588.4" stroke="#c4bc50" stroke-width="1.5"/>
<line x1="388.2" y1="578.2" x2="388.2" y2="583.2" stroke="#c4bc50" stroke-width="1.5"/>
<line x1="439.3" y1="576.9" x2="439.3" y2="581.9" stroke="#c4bc50" stroke-width="1.5"/>
<line x1="410.5" y1="582.2" x2="410.5" y2="587.2" stroke="#c4bc50" stroke-width="1.5"/>
<line x1="414.5" y1="585.1" x2="414.5" y2="590.1" stroke="#c4bc50" stroke-width="1.5"/>
<line x1="382.0" y1="576.4" x2="382.0" y2="581.4" stroke="#c4bc50" stroke-width="1.5"/>
<line x1="371.7" y1="573.3" x2="371.7" y2="578.3" stroke="#c4bc50" stroke-width="1.5"/>
<line x1="393.7" y1="584.2" x2="393.7" y2="589.2" stroke="#c4bc50" stroke-width="1.5"/>
<line x1="439.7" y1="575.6" x2="439.7" y2="580.6" stroke="#c4bc50" stroke-width="1.5"/>
<line x1="442.7" y1="580.3" x2="442.7" y2="585.3" stroke="#c4bc50" stroke-width="1.5"/>
<line x1="392.0" y1="579.9" x2="392.0" y2="584.9" stroke="#c4bc50" stroke-width="1.5"/>
<line x1="394.1" y1="582.7" x2="394.1" y2="587.7" stroke="#c4bc50" stroke-width="1.5"/>
<line x1="395.0" y1="582.0" x2="395.0" y2="587.0" stroke="#c4bc50" stroke-width="1.5"/>
<line x1="478.1" y1="570.1" x2="478.1" y2="575.1" stroke="#c4bc50" stroke-width="1.5"/>
<line x1="420.2" y1="585.2" x2="420.2" y2="590.2" stroke="#c4bc50" stroke-width="1.5"/>
<line x1="401.3" y1="580.1" x2="401.3" y2="585.1" stroke="#c4bc50" stroke-width="1.5"/>
<line x1="393.6" y1="580.9" x2="393.6" y2="585.9" stroke="#c4bc50" stroke-width="1.5"/>
<line x1="435.2" y1="581.1" x2="435.2" y2="586.1" stroke="#c4bc50" stroke-width="1.5"/>
<line x1="373.6" y1="573.8" x2="373.6" y2="578.8" stroke="#c4bc50" stroke-width="1.5"/>
<line x1="442.6" y1="579.4" x2="442.6" y2="584.4" stroke="#c4bc50" stroke-width="1.5"/>
<line x1="434.8" y1="582.8" x2="434.8" y2="587.8" stroke="#c4bc50" stroke-width="1.5"/>
<line x1="441.8" y1="578.4" x2="441.8" y2="583.4" stroke="#c4bc50" stroke-width="1.5"/>
<path d="M368.0,549.7 L378.0,541.5 L387.0,537.5 L462.0,537.0 L471.0,541.0 L482.0,549.7Z" fill="#857c2c"/>
<path d="M397.7,536.5L400.0,538.5M417.2,536.7L415.3,538.6M449.3,537.3L452.0,537.4M386.1,538.1L388.2,540.5M398.2,538.4L401.1,541.0M402.2,538.2L400.1,540.6M407.0,539.0L405.0,541.0M418.1,537.8L415.9,539.8M420.7,539.2L423.9,539.3M434.9,537.8L432.4,540.2M435.1,536.7L435.5,540.6M443.4,537.7L441.1,540.5M447.9,538.5L450.6,540.6M388.4,540.2L390.7,543.2M396.4,539.7L394.3,541.7M396.3,541.9L399.6,542.1M400.1,540.1L400.5,543.5M412.0,540.3L413.8,542.0M426.6,540.3L427.0,543.4M445.7,538.9L448.2,542.0M449.5,539.3L451.2,541.5M453.7,540.7L453.4,543.2M468.0,541.9L471.3,542.2M374.2,543.9L377.0,543.6M387.1,542.1L387.4,544.9M387.0,543.4L390.7,543.3M398.3,541.3L395.8,543.8M413.5,542.5L410.9,545.2M422.8,541.5L422.7,544.7M427.1,541.8L429.4,544.5M430.4,542.2L430.5,545.5M443.1,542.1L443.0,545.9M447.6,540.9L447.4,544.6M473.2,542.5L473.4,545.6M372.6,545.2L374.9,547.3M380.1,544.4L382.1,546.0M383.0,544.6L385.5,547.2M391.3,543.3L391.4,546.1M403.7,543.6L401.1,546.2M408.6,543.7L406.1,546.7M410.8,543.4L410.2,547.3M414.5,544.3L414.7,547.3M423.9,543.9L421.2,546.4M426.4,545.7L430.0,546.2M431.0,543.0L431.4,546.2M440.1,543.0L440.2,546.3M456.3,543.4L456.7,546.2M460.9,544.9L463.0,547.3M467.7,544.4L465.6,546.9M469.3,542.8L469.6,546.6M475.8,544.8L476.0,547.4M377.1,547.1L375.1,549.4M379.6,547.4L383.1,547.2M387.7,545.7L387.6,548.2M396.7,545.2L394.4,548.1M396.4,546.0L398.9,548.2M403.4,545.8L403.2,549.8M409.6,547.2L407.6,549.3M419.0,546.1L418.6,549.5M431.8,545.2L431.6,548.6M431.7,548.3L435.7,548.1M445.9,547.1L449.4,547.3M455.7,545.4L455.9,549.1M467.3,547.2L465.3,548.8M471.6,545.7L471.4,549.6M384.8,549.1L387.5,548.8M434.0,549.4L437.8,549.8M434.9,549.6L438.5,549.7M465.9,548.6L463.3,550.6M473.4,549.1L477.0,548.7" stroke="#d8d058" stroke-width="1.5" stroke-linecap="round" fill="none"/>
<path d="M417.8,535.6L418.1,539.5M422.6,535.9L425.0,538.6M433.9,536.2L436.2,539.1M439.0,536.0L436.3,538.7M453.3,536.2L451.0,538.9M460.8,536.2L459.2,538.3M384.6,537.2L384.9,539.9M389.7,538.1L391.6,540.0M398.8,538.9L397.2,541.0M402.7,538.9L405.2,538.6M432.5,537.7L430.1,540.7M438.6,538.3L438.9,541.3M445.3,538.1L443.1,540.3M459.6,536.3L459.8,540.2M461.9,539.6L465.7,539.2M379.1,540.1L379.5,543.7M384.5,539.7L382.6,542.0M386.7,539.7L384.5,541.9M387.6,540.1L387.9,543.0M392.3,541.7L395.1,541.5M405.2,539.3L405.3,543.2M417.6,539.1L419.8,541.5M429.9,540.7L433.7,540.9M441.4,540.4L441.2,543.3M454.5,540.8L457.1,540.9M456.3,541.9L458.9,542.1M397.0,542.4L394.6,545.3M397.5,541.8L400.3,543.9M413.5,542.5L416.3,542.3M415.8,544.2L419.2,544.0M428.8,542.2L426.3,544.4M456.5,542.4L459.5,542.5M465.2,542.2L467.2,544.2M387.5,544.5L387.0,547.9M397.1,544.9L399.0,547.2M404.8,543.9L407.0,546.8M418.9,543.7L421.4,545.8M435.2,543.4L435.4,547.4M448.9,543.7L451.5,545.8M450.9,546.3L453.6,546.2M461.1,543.2L460.9,546.6M471.0,543.1L470.8,546.8M375.2,546.3L372.8,548.7M376.0,548.4L379.6,548.0M390.0,548.0L393.2,548.1M392.5,546.7L395.5,546.6M412.4,546.3L410.6,548.3M414.0,548.2L417.4,548.2M422.3,545.5L422.1,549.1M427.9,546.7L431.5,547.0M439.5,546.3L437.5,547.9M442.5,546.4L442.3,549.7M448.1,547.5L451.7,547.2M452.0,546.6L454.7,548.7M460.9,546.5L463.6,548.7M468.1,545.1L468.0,548.7M477.9,546.0L475.2,548.2M374.0,548.7L376.1,550.6M374.7,547.9L376.6,550.4M398.0,547.5L400.5,550.5M406.2,549.7L408.9,549.4M433.0,547.6L430.3,549.8M444.0,548.1L444.2,551.0M459.4,547.7L461.3,550.0M469.0,547.0L468.7,550.8M468.9,548.1L471.4,551.0" stroke="#c8c050" stroke-width="1.5" stroke-linecap="round" fill="none"/>
<path d="M441.6,537.7L444.9,537.3M391.3,538.1L393.3,540.6M406.6,538.8L408.6,540.6M407.5,539.5L411.3,539.6M414.4,538.3L414.8,541.3M420.3,538.9L417.7,540.9M418.7,537.1L421.1,539.4M427.9,538.1L425.9,540.6M436.2,538.4L437.8,540.3M443.9,538.5L446.5,538.8M449.3,537.5L446.3,540.0M451.2,536.9L451.1,539.5M453.5,538.4L455.5,540.3M456.5,538.6L458.7,540.7M460.7,539.5L464.0,539.3M401.8,540.4L399.9,542.8M402.2,540.1L404.0,542.1M407.2,539.5L407.3,543.1M408.8,540.4L410.8,542.7M423.6,539.4L421.4,541.7M424.3,540.4L424.4,543.1M433.3,539.1L433.1,542.5M434.7,539.1L435.0,542.1M436.0,539.8L438.2,541.6M438.8,539.4L441.5,541.8M442.7,540.6L444.6,542.5M445.1,538.8L445.4,541.9M450.4,541.6L453.7,541.4M459.6,539.7L462.0,542.2M461.1,540.3L463.9,542.8M466.0,540.5L468.6,542.8M378.5,540.6L378.5,544.6M389.5,544.1L393.3,544.0M401.9,541.5L403.8,543.4M404.5,543.8L408.4,543.8M410.4,542.2L410.5,545.9M416.9,542.7L414.7,545.0M420.8,542.8L418.6,544.7M437.2,541.4L437.5,544.9M450.0,542.7L453.2,542.9M452.5,542.6L454.8,545.2M461.5,542.1L463.8,544.7M473.0,542.3L470.4,544.9M376.7,544.9L374.4,547.2M377.1,544.3L379.7,546.8M390.5,544.3L388.1,546.4M394.8,545.1L393.0,547.3M403.0,543.2L402.9,546.2M416.8,544.3L417.0,547.0M418.9,544.5L416.5,546.9M425.6,542.9L425.4,546.2M426.7,545.2L428.7,547.0M442.5,544.4L440.0,546.9M445.9,545.0L443.7,547.3M446.6,545.0L449.6,544.7M453.9,544.2L454.4,548.0M458.8,543.8L457.2,545.9M474.9,543.4L472.6,546.2M475.3,545.1L477.8,547.3M383.2,546.0L383.4,549.6M385.3,545.1L385.4,548.8M389.3,545.7L389.2,548.9M401.0,546.5L403.2,548.4M405.8,546.0L407.5,547.9M413.0,546.9L415.7,546.7M420.9,547.1L418.6,549.7M433.4,546.7L437.1,547.1M438.4,545.8L438.0,549.3M444.0,545.8L443.6,548.3M453.5,546.7L450.7,549.4M460.1,546.4L459.8,550.1M473.6,546.0L471.6,547.6M472.9,546.9L475.5,549.5M373.1,548.3L373.0,551.0M383.0,547.3L383.0,550.2M391.8,547.9L393.9,549.5M405.0,547.9L402.3,550.3M404.8,547.8L407.2,550.3M415.4,548.9L418.5,549.3M427.7,548.8L430.6,549.0M432.2,548.2L434.7,550.7M453.6,547.8L451.0,549.9M457.8,548.6L460.4,550.7" stroke="#e0d860" stroke-width="1.5" stroke-linecap="round" fill="none"/>
<polygon points="382.6,534.9 465.8,534.9 486.4,549.7 361.7,549.7" fill="none" stroke="#1818c8" stroke-width="1.3"/>
<line x1="462.7" y1="371.4" x2="470.5" y2="383" stroke="#ff0000" stroke-width="2"/>
<polygon points="474,388 466.5,382 472.5,378.5" fill="#ff0000"/>
<g stroke="#0c0cff" stroke-width="1.8" fill="#0c0cff">
<line x1="444.5" y1="296.4" x2="459" y2="296.4"/>
<line x1="444.5" y1="296.4" x2="444.5" y2="311"/>
<line x1="444.5" y1="296.4" x2="435" y2="287.5"/>
</g>
<g fill="#0c0cff">
<polygon points="469,296.4 457.5,292.2 457.5,300.6"/>
<polygon points="444.8,320.6 441.8,309.8 447.8,309.8"/>
<polygon points="430.4,282.3 440.2,286.2 434.6,291.6"/>
</g>
<text transform="translate(34.50,52.97) scale(1.0723,1.0139)" font-size="18" fill="#000" stroke="#000" stroke-width="0.33">0.8</text>
<text transform="translate(34.50,149.57) scale(1.0611,1.0218)" font-size="18" fill="#000" stroke="#000" stroke-width="0.33">0.4</text>
<text transform="translate(34.71,246.98) scale(1.0596,0.9980)" font-size="18" fill="#000" stroke="#000" stroke-width="0.33">0.0</text>
<text transform="translate(104.41,257.77) scale(1.0412,1.0297)" font-size="18" fill="#000" stroke="#000" stroke-width="0.34">40.0</text>
<text transform="translate(219.58,258.27) scale(1.0537,1.0218)" font-size="18" fill="#000" stroke="#000" stroke-width="0.33">60.0</text>
<text transform="translate(336.02,258.27) scale(1.0409,1.0218)" font-size="18" fill="#000" stroke="#000" stroke-width="0.34">80.0</text>
<text transform="translate(447.79,258.27) scale(1.0279,1.0455)" font-size="18" fill="#000" stroke="#000" stroke-width="0.34">100.0</text>
<text transform="translate(20.71,154.96) rotate(-90) scale(1.0310,1.0627)" font-size="18" fill="#000" stroke="#000" stroke-width="0.34">ρ(z)</text>
<text transform="translate(254.81,275.88) scale(1.0572,0.9448)" font-size="18" fill="#000">z / R</text>
<text transform="translate(292.71,282.75) scale(1.1798,1.1647)" font-size="12" fill="#000">e0</text>
<text transform="translate(76.61,55.73) scale(1.1114,1.1363)" font-size="21" fill="#000">(a)</text>
<text transform="translate(427.11,54.38) scale(1.0286,0.9980)" font-size="18" fill="#000" stroke="#000" stroke-width="0.34">T=3.0</text>
<text transform="translate(344.82,72.47) scale(1.1254,1.0167)" font-size="17" fill="#0000ff">6.0</text>
<text transform="translate(392.28,72.86) scale(1.1486,1.0833)" font-size="17" fill="#ff0000">3.0</text>
<text transform="translate(434.12,101.87) scale(1.1006,1.0723)" font-size="17" fill="#00f000">1.5</text>
<text transform="translate(449.40,138.86) scale(1.1241,1.1000)" font-size="17" fill="#000" stroke="#000" stroke-width="0.31">0.5τ</text>
<text transform="translate(103.89,84.87) scale(1.1307,1.0667)" font-size="17" fill="#000" stroke="#000" stroke-width="0.31">3.0</text>
<text transform="translate(103.60,135.67) scale(1.1435,1.0667)" font-size="17" fill="#000" stroke="#000" stroke-width="0.31">2.0</text>
<text transform="translate(130.30,158.27) scale(1.1128,1.0750)" font-size="17" fill="#000" stroke="#000" stroke-width="0.31">0.0</text>
<text transform="translate(186.29,158.27) scale(1.1416,1.0750)" font-size="17" fill="#000" stroke="#000" stroke-width="0.31">0.3</text>
<text transform="translate(242.29,158.26) scale(1.1416,1.1167)" font-size="17" fill="#000" stroke="#000" stroke-width="0.31">0.6</text>
<text transform="translate(93.10,110.19) rotate(-90) scale(1.0326,1.0846)" font-size="19" fill="#000" stroke="#000" stroke-width="0.34">T</text>
<text transform="translate(101.06,98.33) rotate(-90) scale(1.0000,1.1016)" font-size="14" fill="#000">c</text>
<text transform="translate(198.46,172.40) scale(0.8358,0.9346)" font-size="18" fill="#000" stroke="#000" stroke-width="0.35">ρ</text>
<text transform="translate(208.88,178.66) scale(1.0400,1.0849)" font-size="13" fill="#000">0</text>
<text transform="translate(21.76,298.01) scale(1.1546,1.1414)" font-size="21" fill="#000">(b)</text>
<text transform="translate(96.18,477.15) scale(1.1709,1.0017)" font-size="21" fill="#000">6.0τ</text>
<text transform="translate(250.78,476.84) scale(1.1601,1.0286)" font-size="21" fill="#000">8.0τ</text>
<text transform="translate(397.51,476.85) scale(1.1609,1.0084)" font-size="21" fill="#000">10.0τ</text>
<text transform="translate(91.84,636.24) scale(1.1420,1.0420)" font-size="21" fill="#000">12.0τ</text>
<text transform="translate(246.71,636.44) scale(1.1446,1.0555)" font-size="21" fill="#000">60.0τ</text>
<text transform="translate(399.51,633.44) scale(1.1488,1.0555)" font-size="21" fill="#000">60.0τ</text>
<text transform="translate(79.80,513.38) scale(1.0667,0.9589)" font-size="19" fill="#000">Top view</text>
<text transform="translate(381.37,518.07) scale(1.0634,1.0378)" font-size="19" fill="#000">Side view</text>
<text transform="translate(424.16,365.18) scale(1.0736,0.9586)" font-size="19" fill="#ff0000">Shrink</text>
<text transform="translate(441.41,285.80) scale(1.1721,1.0036)" font-size="13" fill="#0c0cff">z</text>
<text transform="translate(461.00,310.06) scale(1.1385,1.2737)" font-size="13" fill="#0c0cff">y</text>
<text transform="translate(430.82,318.00) scale(1.1265,1.0909)" font-size="13" fill="#0c0cff">x</text>
</svg></body></html>
